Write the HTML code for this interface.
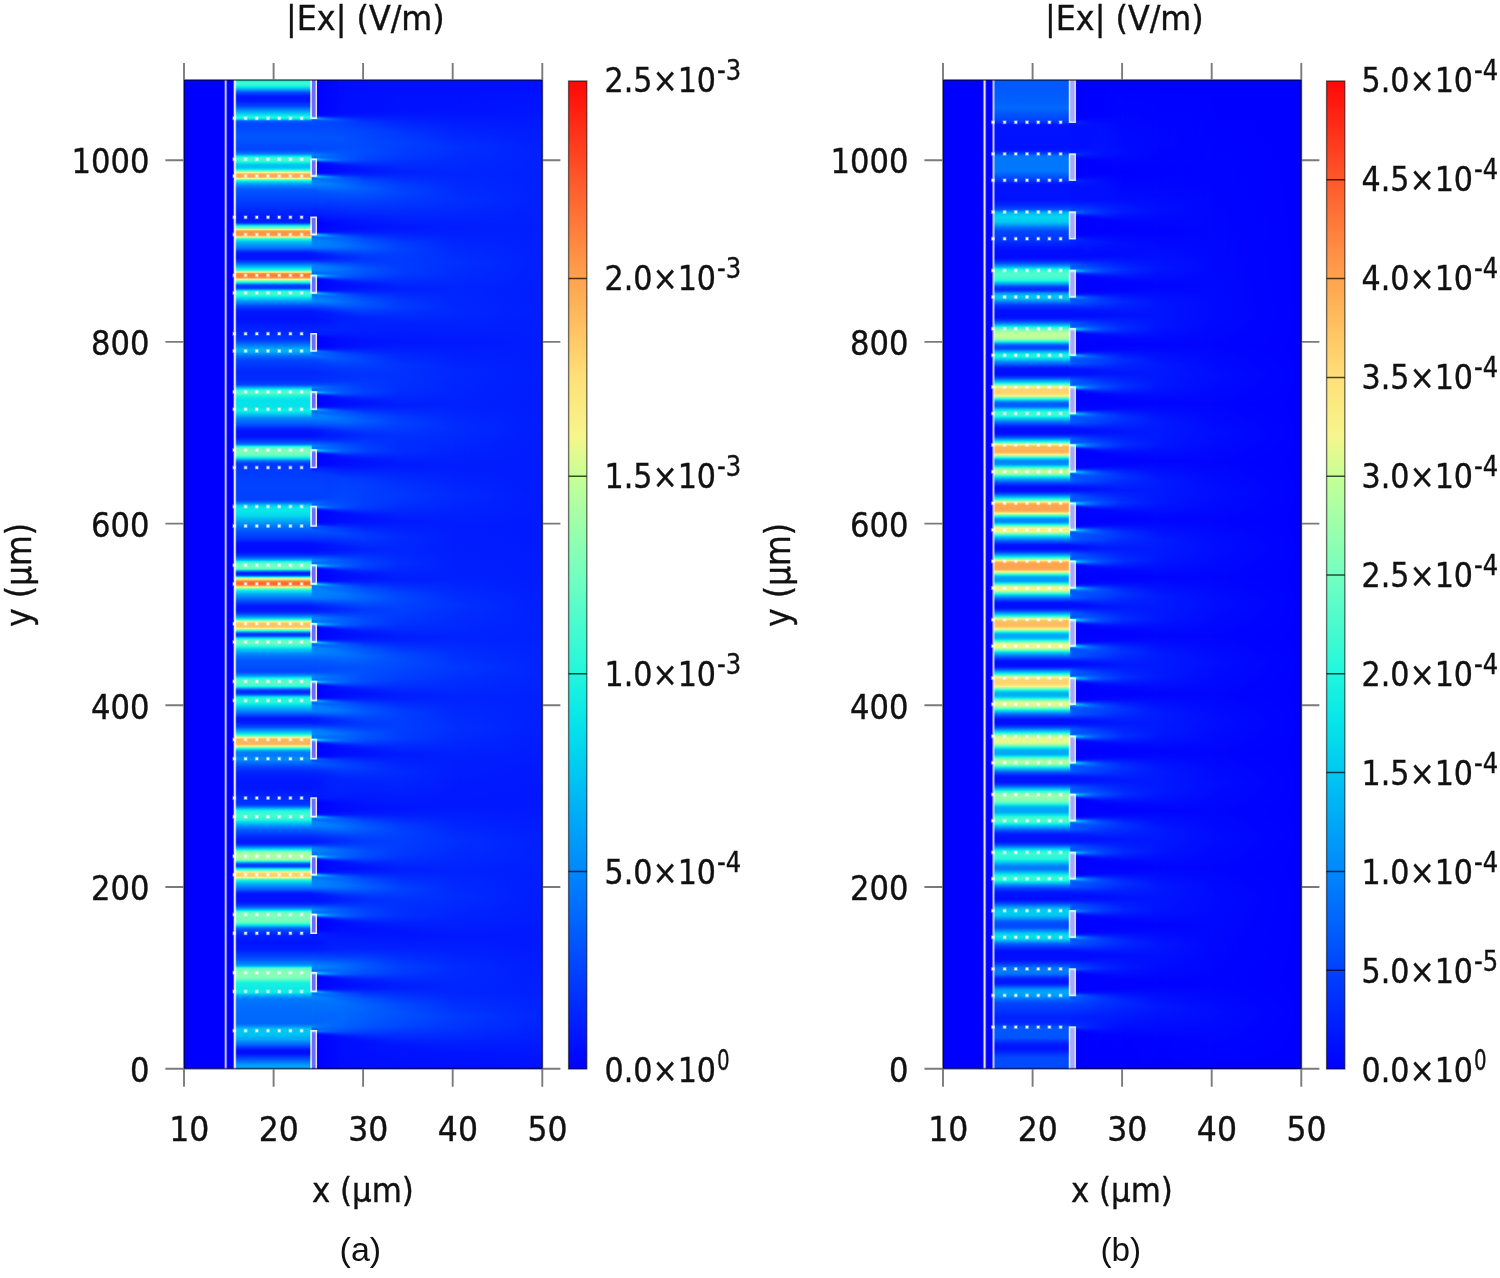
<!DOCTYPE html>
<html lang="en"><head><meta charset="utf-8"><title>|Ex| field maps</title>
<style>
html,body{margin:0;padding:0;background:#fff}
svg{display:block}
.t text{font-family:"DejaVu Sans Condensed","DejaVu Sans","Liberation Sans",sans-serif;font-size:34px;fill:#111;stroke:#111;stroke-width:.35px}
.t text.s{font-size:28px}
.cap{font-family:"Liberation Sans",sans-serif;font-size:34px;fill:#111}
</style></head><body>
<svg width="1500" height="1278" viewBox="0 0 1500 1278">
<defs>
<linearGradient id="aw" gradientUnits="userSpaceOnUse" x1="0" y1="80.5" x2="0" y2="1068.7"><stop offset="0" stop-color="#1cf4df"/><stop offset="0.003" stop-color="#40fad2"/><stop offset="0.004" stop-color="#38f9d5"/><stop offset="0.0061" stop-color="#14eee3"/><stop offset="0.0071" stop-color="#04ddec"/><stop offset="0.0081" stop-color="#00c3f3"/><stop offset="0.0111" stop-color="#0069fd"/><stop offset="0.0126" stop-color="#0047ff"/><stop offset="0.0152" stop-color="#0020ff"/><stop offset="0.0172" stop-color="#0016ff"/><stop offset="0.0207" stop-color="#0019ff"/><stop offset="0.0253" stop-color="#0040ff"/><stop offset="0.0268" stop-color="#0056fe"/><stop offset="0.0334" stop-color="#00c9f2"/><stop offset="0.0349" stop-color="#06e3ea"/><stop offset="0.0369" stop-color="#1ef6de"/><stop offset="0.0379" stop-color="#1ef6de"/><stop offset="0.039" stop-color="#06e2eb"/><stop offset="0.0395" stop-color="#00c6f2"/><stop offset="0.0405" stop-color="#0080fc"/><stop offset="0.041" stop-color="#0068fd"/><stop offset="0.0415" stop-color="#0059fe"/><stop offset="0.0425" stop-color="#004ffe"/><stop offset="0.045" stop-color="#0045ff"/><stop offset="0.0572" stop-color="#0056fe"/><stop offset="0.0688" stop-color="#0046ff"/><stop offset="0.0703" stop-color="#0048ff"/><stop offset="0.0724" stop-color="#005efe"/><stop offset="0.0739" stop-color="#0077fd"/><stop offset="0.0749" stop-color="#0097f9"/><stop offset="0.0764" stop-color="#03d8ed"/><stop offset="0.0769" stop-color="#0ce8e7"/><stop offset="0.0779" stop-color="#29f8da"/><stop offset="0.0789" stop-color="#41fad2"/><stop offset="0.0799" stop-color="#49fbcf"/><stop offset="0.0815" stop-color="#38f9d5"/><stop offset="0.0825" stop-color="#1ef6de"/><stop offset="0.0835" stop-color="#08e6e9"/><stop offset="0.0845" stop-color="#02d1ef"/><stop offset="0.086" stop-color="#00c2f3"/><stop offset="0.0875" stop-color="#00bff3"/><stop offset="0.0885" stop-color="#00c9f2"/><stop offset="0.0896" stop-color="#06e3ea"/><stop offset="0.0901" stop-color="#15efe2"/><stop offset="0.0906" stop-color="#2df8d9"/><stop offset="0.0916" stop-color="#74ffc0"/><stop offset="0.0921" stop-color="#9bffac"/><stop offset="0.0926" stop-color="#c4ff97"/><stop offset="0.0931" stop-color="#f7f38a"/><stop offset="0.0936" stop-color="#fee27a"/><stop offset="0.0946" stop-color="#ffb85d"/><stop offset="0.0956" stop-color="#ffa650"/><stop offset="0.0971" stop-color="#ffa952"/><stop offset="0.0977" stop-color="#ffb359"/><stop offset="0.0982" stop-color="#ffc666"/><stop offset="0.0987" stop-color="#fee27a"/><stop offset="0.0992" stop-color="#eef88e"/><stop offset="0.0997" stop-color="#abffa4"/><stop offset="0.1002" stop-color="#78ffbe"/><stop offset="0.1007" stop-color="#4cfbce"/><stop offset="0.1012" stop-color="#28f8da"/><stop offset="0.1022" stop-color="#06e3ea"/><stop offset="0.1032" stop-color="#00c8f2"/><stop offset="0.1047" stop-color="#009ff8"/><stop offset="0.1057" stop-color="#008dfb"/><stop offset="0.1088" stop-color="#0065fd"/><stop offset="0.1103" stop-color="#0058fe"/><stop offset="0.1371" stop-color="#001cff"/><stop offset="0.1422" stop-color="#001cff"/><stop offset="0.1432" stop-color="#0020ff"/><stop offset="0.1437" stop-color="#0028ff"/><stop offset="0.1442" stop-color="#0038ff"/><stop offset="0.1447" stop-color="#0052fe"/><stop offset="0.1462" stop-color="#00bdf4"/><stop offset="0.1467" stop-color="#04dbec"/><stop offset="0.1472" stop-color="#15efe3"/><stop offset="0.1477" stop-color="#2cf8d9"/><stop offset="0.1493" stop-color="#73ffc0"/><stop offset="0.1498" stop-color="#95ffaf"/><stop offset="0.1503" stop-color="#c0ff99"/><stop offset="0.1508" stop-color="#f8f187"/><stop offset="0.1518" stop-color="#ffba5e"/><stop offset="0.1523" stop-color="#ffa751"/><stop offset="0.1528" stop-color="#ff9b4a"/><stop offset="0.1538" stop-color="#ff9447"/><stop offset="0.1553" stop-color="#ff9447"/><stop offset="0.1563" stop-color="#ff9c4a"/><stop offset="0.1569" stop-color="#ffa851"/><stop offset="0.1574" stop-color="#ffbd60"/><stop offset="0.1579" stop-color="#ffdd76"/><stop offset="0.1584" stop-color="#f6f68c"/><stop offset="0.1589" stop-color="#aeffa2"/><stop offset="0.1594" stop-color="#7affbd"/><stop offset="0.1599" stop-color="#4efbcd"/><stop offset="0.1604" stop-color="#2cf8d9"/><stop offset="0.1609" stop-color="#18f1e1"/><stop offset="0.1619" stop-color="#05deec"/><stop offset="0.1639" stop-color="#00b6f5"/><stop offset="0.1695" stop-color="#0074fd"/><stop offset="0.173" stop-color="#002cff"/><stop offset="0.1741" stop-color="#001dff"/><stop offset="0.1751" stop-color="#0016ff"/><stop offset="0.1781" stop-color="#0013ff"/><stop offset="0.1801" stop-color="#0014ff"/><stop offset="0.1821" stop-color="#002aff"/><stop offset="0.1842" stop-color="#0050fe"/><stop offset="0.1892" stop-color="#00c9f2"/><stop offset="0.1902" stop-color="#06e3ea"/><stop offset="0.1913" stop-color="#1ff6dd"/><stop offset="0.1918" stop-color="#38f9d5"/><stop offset="0.1923" stop-color="#56fcca"/><stop offset="0.1928" stop-color="#7dffbb"/><stop offset="0.1933" stop-color="#adffa3"/><stop offset="0.1938" stop-color="#f3f78d"/><stop offset="0.1943" stop-color="#ffdb74"/><stop offset="0.1948" stop-color="#ffb55a"/><stop offset="0.1953" stop-color="#ff9949"/><stop offset="0.1958" stop-color="#ff8841"/><stop offset="0.1968" stop-color="#ff7e3c"/><stop offset="0.1988" stop-color="#ff8540"/><stop offset="0.1994" stop-color="#ff9346"/><stop offset="0.2004" stop-color="#ffc968"/><stop offset="0.2009" stop-color="#fce67e"/><stop offset="0.2014" stop-color="#e8f98f"/><stop offset="0.2019" stop-color="#b6ff9e"/><stop offset="0.2029" stop-color="#71ffc1"/><stop offset="0.2039" stop-color="#2bf8d9"/><stop offset="0.2044" stop-color="#0feae6"/><stop offset="0.2049" stop-color="#02d2ef"/><stop offset="0.2054" stop-color="#00b1f6"/><stop offset="0.2064" stop-color="#006efd"/><stop offset="0.2069" stop-color="#0054fe"/><stop offset="0.2074" stop-color="#0044ff"/><stop offset="0.2085" stop-color="#0038ff"/><stop offset="0.2095" stop-color="#003bff"/><stop offset="0.21" stop-color="#0042ff"/><stop offset="0.2105" stop-color="#0052fe"/><stop offset="0.211" stop-color="#006efd"/><stop offset="0.2125" stop-color="#04dbec"/><stop offset="0.213" stop-color="#13eee3"/><stop offset="0.2135" stop-color="#23f7dc"/><stop offset="0.2145" stop-color="#3cfad3"/><stop offset="0.2155" stop-color="#41fad1"/><stop offset="0.2166" stop-color="#39f9d4"/><stop offset="0.2181" stop-color="#20f7dd"/><stop offset="0.2196" stop-color="#07e4ea"/><stop offset="0.2206" stop-color="#02d0f0"/><stop offset="0.2231" stop-color="#009cf9"/><stop offset="0.2282" stop-color="#0046ff"/><stop offset="0.2317" stop-color="#0024ff"/><stop offset="0.2338" stop-color="#0017ff"/><stop offset="0.2424" stop-color="#0011ff"/><stop offset="0.2616" stop-color="#0035ff"/><stop offset="0.2636" stop-color="#0044ff"/><stop offset="0.2717" stop-color="#00abf6"/><stop offset="0.2732" stop-color="#00b3f5"/><stop offset="0.2747" stop-color="#00a9f7"/><stop offset="0.2793" stop-color="#0067fd"/><stop offset="0.2828" stop-color="#0046ff"/><stop offset="0.2935" stop-color="#002aff"/><stop offset="0.2965" stop-color="#0027ff"/><stop offset="0.3031" stop-color="#002dff"/><stop offset="0.3066" stop-color="#003dff"/><stop offset="0.3076" stop-color="#0046ff"/><stop offset="0.3091" stop-color="#006efd"/><stop offset="0.3117" stop-color="#03d4ef"/><stop offset="0.3122" stop-color="#0ae7e8"/><stop offset="0.3132" stop-color="#2ff8d8"/><stop offset="0.3142" stop-color="#4afbcf"/><stop offset="0.3157" stop-color="#56fcca"/><stop offset="0.3167" stop-color="#4efbcd"/><stop offset="0.3193" stop-color="#1cf4df"/><stop offset="0.3223" stop-color="#08e5e9"/><stop offset="0.3243" stop-color="#05e1eb"/><stop offset="0.3299" stop-color="#06e4ea"/><stop offset="0.3339" stop-color="#12ede4"/><stop offset="0.336" stop-color="#05e1eb"/><stop offset="0.342" stop-color="#0083fc"/><stop offset="0.3481" stop-color="#0053fe"/><stop offset="0.3522" stop-color="#0024ff"/><stop offset="0.3552" stop-color="#0012ff"/><stop offset="0.3592" stop-color="#0011ff"/><stop offset="0.3613" stop-color="#0017ff"/><stop offset="0.3633" stop-color="#0029ff"/><stop offset="0.3653" stop-color="#0040ff"/><stop offset="0.3673" stop-color="#0061fe"/><stop offset="0.3683" stop-color="#0080fc"/><stop offset="0.3689" stop-color="#009af9"/><stop offset="0.3699" stop-color="#05deec"/><stop offset="0.3704" stop-color="#1bf4df"/><stop offset="0.3709" stop-color="#39f9d4"/><stop offset="0.3714" stop-color="#4ffbcd"/><stop offset="0.3724" stop-color="#68fec4"/><stop offset="0.3739" stop-color="#7dffbb"/><stop offset="0.3749" stop-color="#80ffba"/><stop offset="0.3775" stop-color="#78ffbe"/><stop offset="0.379" stop-color="#68fec4"/><stop offset="0.38" stop-color="#4cfbce"/><stop offset="0.381" stop-color="#26f8db"/><stop offset="0.382" stop-color="#09e6e9"/><stop offset="0.3825" stop-color="#03d6ee"/><stop offset="0.385" stop-color="#0072fd"/><stop offset="0.3861" stop-color="#0053fe"/><stop offset="0.3876" stop-color="#003bff"/><stop offset="0.3891" stop-color="#0037ff"/><stop offset="0.4093" stop-color="#0043ff"/><stop offset="0.424" stop-color="#0040ff"/><stop offset="0.425" stop-color="#004aff"/><stop offset="0.4265" stop-color="#0065fd"/><stop offset="0.4275" stop-color="#007efc"/><stop offset="0.4296" stop-color="#00bef4"/><stop offset="0.4306" stop-color="#03d6ee"/><stop offset="0.4321" stop-color="#06e4ea"/><stop offset="0.4351" stop-color="#0be8e7"/><stop offset="0.4397" stop-color="#04ddec"/><stop offset="0.4513" stop-color="#0075fd"/><stop offset="0.4569" stop-color="#0051fe"/><stop offset="0.4645" stop-color="#002dff"/><stop offset="0.468" stop-color="#000fff"/><stop offset="0.4746" stop-color="#000bff"/><stop offset="0.4776" stop-color="#0012ff"/><stop offset="0.4812" stop-color="#003bff"/><stop offset="0.4842" stop-color="#0084fc"/><stop offset="0.4852" stop-color="#00a9f7"/><stop offset="0.4857" stop-color="#00c2f3"/><stop offset="0.4862" stop-color="#04dbed"/><stop offset="0.4867" stop-color="#14eee3"/><stop offset="0.4872" stop-color="#2af8da"/><stop offset="0.4883" stop-color="#50fccd"/><stop offset="0.4893" stop-color="#63fdc6"/><stop offset="0.4908" stop-color="#72ffc1"/><stop offset="0.4923" stop-color="#74ffc0"/><stop offset="0.4933" stop-color="#6dfec2"/><stop offset="0.4938" stop-color="#61fdc7"/><stop offset="0.4943" stop-color="#48fbcf"/><stop offset="0.4948" stop-color="#22f7dc"/><stop offset="0.4953" stop-color="#05e0eb"/><stop offset="0.4969" stop-color="#0063fe"/><stop offset="0.4974" stop-color="#0043ff"/><stop offset="0.4979" stop-color="#002fff"/><stop offset="0.4989" stop-color="#0021ff"/><stop offset="0.4999" stop-color="#0025ff"/><stop offset="0.5004" stop-color="#0032ff"/><stop offset="0.5009" stop-color="#004efe"/><stop offset="0.5014" stop-color="#007cfc"/><stop offset="0.5019" stop-color="#00b4f5"/><stop offset="0.5024" stop-color="#0eeae6"/><stop offset="0.5029" stop-color="#51fccc"/><stop offset="0.5034" stop-color="#95ffaf"/><stop offset="0.5039" stop-color="#d2fd93"/><stop offset="0.5045" stop-color="#faed84"/><stop offset="0.506" stop-color="#ffab54"/><stop offset="0.507" stop-color="#ff803d"/><stop offset="0.5075" stop-color="#ff7237"/><stop offset="0.5085" stop-color="#ff6832"/><stop offset="0.5095" stop-color="#ff6932"/><stop offset="0.5105" stop-color="#ff7b3b"/><stop offset="0.511" stop-color="#ff9346"/><stop offset="0.512" stop-color="#ffd570"/><stop offset="0.5125" stop-color="#f9ee85"/><stop offset="0.5131" stop-color="#cefe94"/><stop offset="0.5141" stop-color="#7effbb"/><stop offset="0.5151" stop-color="#3cfad3"/><stop offset="0.5156" stop-color="#21f7dd"/><stop offset="0.5166" stop-color="#07e5ea"/><stop offset="0.5196" stop-color="#00adf6"/><stop offset="0.5277" stop-color="#0043ff"/><stop offset="0.5308" stop-color="#0021ff"/><stop offset="0.5328" stop-color="#0017ff"/><stop offset="0.5363" stop-color="#0018ff"/><stop offset="0.5384" stop-color="#002dff"/><stop offset="0.5404" stop-color="#0055fe"/><stop offset="0.5429" stop-color="#009ef8"/><stop offset="0.5439" stop-color="#00c2f3"/><stop offset="0.5449" stop-color="#0eeae6"/><stop offset="0.5454" stop-color="#29f8da"/><stop offset="0.5464" stop-color="#83ffb9"/><stop offset="0.547" stop-color="#b3ffa0"/><stop offset="0.5475" stop-color="#ecf88e"/><stop offset="0.548" stop-color="#fce87f"/><stop offset="0.549" stop-color="#ffcb6a"/><stop offset="0.55" stop-color="#ffc264"/><stop offset="0.5525" stop-color="#ffc565"/><stop offset="0.5535" stop-color="#ffd671"/><stop offset="0.5545" stop-color="#f7f48a"/><stop offset="0.555" stop-color="#c4ff97"/><stop offset="0.5566" stop-color="#3dfad3"/><stop offset="0.5571" stop-color="#13ede4"/><stop offset="0.5576" stop-color="#02cff0"/><stop offset="0.5581" stop-color="#00a8f7"/><stop offset="0.5591" stop-color="#0060fe"/><stop offset="0.5596" stop-color="#0047ff"/><stop offset="0.5601" stop-color="#0038ff"/><stop offset="0.5611" stop-color="#0032ff"/><stop offset="0.5616" stop-color="#003aff"/><stop offset="0.5621" stop-color="#004cff"/><stop offset="0.5626" stop-color="#0069fd"/><stop offset="0.5642" stop-color="#02d1ef"/><stop offset="0.5647" stop-color="#0de9e6"/><stop offset="0.5652" stop-color="#24f7db"/><stop offset="0.5662" stop-color="#52fccc"/><stop offset="0.5667" stop-color="#5ffdc7"/><stop offset="0.5677" stop-color="#6bfec3"/><stop offset="0.5687" stop-color="#6cfec3"/><stop offset="0.5697" stop-color="#65fec5"/><stop offset="0.5707" stop-color="#58fcca"/><stop offset="0.5717" stop-color="#43fad1"/><stop offset="0.5728" stop-color="#25f8db"/><stop offset="0.5743" stop-color="#06e4ea"/><stop offset="0.5758" stop-color="#00c9f2"/><stop offset="0.5798" stop-color="#008efb"/><stop offset="0.5829" stop-color="#006efd"/><stop offset="0.5869" stop-color="#0057fe"/><stop offset="0.5976" stop-color="#0046ff"/><stop offset="0.5991" stop-color="#0052fe"/><stop offset="0.6011" stop-color="#007afd"/><stop offset="0.6026" stop-color="#00a2f8"/><stop offset="0.6036" stop-color="#00c9f2"/><stop offset="0.6041" stop-color="#04dbec"/><stop offset="0.6051" stop-color="#1ff6de"/><stop offset="0.6062" stop-color="#41fad2"/><stop offset="0.6072" stop-color="#51fccc"/><stop offset="0.6082" stop-color="#5afcc9"/><stop offset="0.6107" stop-color="#57fcca"/><stop offset="0.6122" stop-color="#45fbd0"/><stop offset="0.6132" stop-color="#1ef6de"/><stop offset="0.6137" stop-color="#0be8e7"/><stop offset="0.6142" stop-color="#02d2ef"/><stop offset="0.6163" stop-color="#005afe"/><stop offset="0.6168" stop-color="#0044ff"/><stop offset="0.6178" stop-color="#0030ff"/><stop offset="0.6188" stop-color="#002cff"/><stop offset="0.6198" stop-color="#0030ff"/><stop offset="0.6208" stop-color="#0044ff"/><stop offset="0.6213" stop-color="#005afe"/><stop offset="0.6234" stop-color="#02cff0"/><stop offset="0.6239" stop-color="#06e4ea"/><stop offset="0.6244" stop-color="#14eee3"/><stop offset="0.6259" stop-color="#26f8db"/><stop offset="0.6294" stop-color="#22f7dc"/><stop offset="0.632" stop-color="#05e0eb"/><stop offset="0.6335" stop-color="#00c8f2"/><stop offset="0.638" stop-color="#0087fc"/><stop offset="0.6446" stop-color="#0021ff"/><stop offset="0.6456" stop-color="#0018ff"/><stop offset="0.6476" stop-color="#0016ff"/><stop offset="0.6497" stop-color="#001cff"/><stop offset="0.6537" stop-color="#0041ff"/><stop offset="0.6552" stop-color="#005cfe"/><stop offset="0.6598" stop-color="#00c8f2"/><stop offset="0.6608" stop-color="#05e0eb"/><stop offset="0.6618" stop-color="#1df5de"/><stop offset="0.6623" stop-color="#36f9d5"/><stop offset="0.6633" stop-color="#7affbd"/><stop offset="0.6643" stop-color="#cbfe95"/><stop offset="0.6648" stop-color="#f8f188"/><stop offset="0.6654" stop-color="#ffe179"/><stop offset="0.6664" stop-color="#ffc062"/><stop offset="0.6674" stop-color="#ffb65b"/><stop offset="0.6709" stop-color="#ffb65b"/><stop offset="0.6719" stop-color="#ffc062"/><stop offset="0.6724" stop-color="#ffcd6b"/><stop offset="0.6734" stop-color="#f8f288"/><stop offset="0.674" stop-color="#c8ff96"/><stop offset="0.675" stop-color="#73ffc0"/><stop offset="0.676" stop-color="#24f7dc"/><stop offset="0.6765" stop-color="#0de9e7"/><stop offset="0.6775" stop-color="#00c1f3"/><stop offset="0.679" stop-color="#008efb"/><stop offset="0.68" stop-color="#007dfc"/><stop offset="0.6831" stop-color="#007afd"/><stop offset="0.6866" stop-color="#0090fb"/><stop offset="0.6937" stop-color="#004bff"/><stop offset="0.6998" stop-color="#0023ff"/><stop offset="0.7079" stop-color="#0016ff"/><stop offset="0.7175" stop-color="#0016ff"/><stop offset="0.7321" stop-color="#0036ff"/><stop offset="0.7332" stop-color="#0041ff"/><stop offset="0.7342" stop-color="#0059fe"/><stop offset="0.7357" stop-color="#008cfb"/><stop offset="0.7372" stop-color="#00c8f2"/><stop offset="0.7382" stop-color="#0ce9e7"/><stop offset="0.7387" stop-color="#19f2e1"/><stop offset="0.7402" stop-color="#30f9d7"/><stop offset="0.7438" stop-color="#47fbcf"/><stop offset="0.7453" stop-color="#43fad1"/><stop offset="0.7478" stop-color="#28f8da"/><stop offset="0.7498" stop-color="#07e4ea"/><stop offset="0.7509" stop-color="#02d0f0"/><stop offset="0.7534" stop-color="#009ff8"/><stop offset="0.7584" stop-color="#005afe"/><stop offset="0.7671" stop-color="#0020ff"/><stop offset="0.7696" stop-color="#0018ff"/><stop offset="0.7716" stop-color="#001cff"/><stop offset="0.7731" stop-color="#002fff"/><stop offset="0.7751" stop-color="#006bfd"/><stop offset="0.7772" stop-color="#00bcf4"/><stop offset="0.7782" stop-color="#07e5e9"/><stop offset="0.7787" stop-color="#1bf3e0"/><stop offset="0.7792" stop-color="#37f9d5"/><stop offset="0.7802" stop-color="#72ffc1"/><stop offset="0.7812" stop-color="#97ffae"/><stop offset="0.7822" stop-color="#a5ffa7"/><stop offset="0.7848" stop-color="#b1ffa1"/><stop offset="0.7873" stop-color="#a5ffa7"/><stop offset="0.7883" stop-color="#93ffb0"/><stop offset="0.7888" stop-color="#7fffba"/><stop offset="0.7893" stop-color="#61fdc7"/><stop offset="0.7898" stop-color="#39f9d4"/><stop offset="0.7903" stop-color="#13ede4"/><stop offset="0.7908" stop-color="#02d0f0"/><stop offset="0.7923" stop-color="#0066fd"/><stop offset="0.7929" stop-color="#004ffe"/><stop offset="0.7939" stop-color="#003bff"/><stop offset="0.7949" stop-color="#003eff"/><stop offset="0.7954" stop-color="#004aff"/><stop offset="0.7959" stop-color="#0061fe"/><stop offset="0.7969" stop-color="#00a7f7"/><stop offset="0.7974" stop-color="#01cbf1"/><stop offset="0.7979" stop-color="#09e6e9"/><stop offset="0.7984" stop-color="#23f7dc"/><stop offset="0.7994" stop-color="#73ffc0"/><stop offset="0.8004" stop-color="#c8ff96"/><stop offset="0.801" stop-color="#f7f389"/><stop offset="0.802" stop-color="#ffda74"/><stop offset="0.803" stop-color="#ffcf6c"/><stop offset="0.8045" stop-color="#ffcf6c"/><stop offset="0.8055" stop-color="#ffda74"/><stop offset="0.8065" stop-color="#f7f48a"/><stop offset="0.807" stop-color="#c2ff98"/><stop offset="0.808" stop-color="#69fec4"/><stop offset="0.8085" stop-color="#42fad1"/><stop offset="0.809" stop-color="#25f7db"/><stop offset="0.8101" stop-color="#0be7e8"/><stop offset="0.8121" stop-color="#00c2f3"/><stop offset="0.8136" stop-color="#00a6f7"/><stop offset="0.8192" stop-color="#0052fe"/><stop offset="0.8222" stop-color="#0019ff"/><stop offset="0.8242" stop-color="#0011ff"/><stop offset="0.8308" stop-color="#0012ff"/><stop offset="0.8338" stop-color="#0030ff"/><stop offset="0.8354" stop-color="#0049ff"/><stop offset="0.8369" stop-color="#0071fd"/><stop offset="0.8384" stop-color="#00a0f8"/><stop offset="0.8399" stop-color="#06e4ea"/><stop offset="0.8404" stop-color="#1ef6de"/><stop offset="0.8414" stop-color="#57fcca"/><stop offset="0.8424" stop-color="#71ffc1"/><stop offset="0.8435" stop-color="#7cffbc"/><stop offset="0.845" stop-color="#81ffb9"/><stop offset="0.8505" stop-color="#74ffc0"/><stop offset="0.8521" stop-color="#5bfdc9"/><stop offset="0.8536" stop-color="#26f8db"/><stop offset="0.8546" stop-color="#08e5e9"/><stop offset="0.8551" stop-color="#03d4ee"/><stop offset="0.8566" stop-color="#0095fa"/><stop offset="0.8576" stop-color="#0072fd"/><stop offset="0.8596" stop-color="#0048ff"/><stop offset="0.8647" stop-color="#0022ff"/><stop offset="0.8718" stop-color="#0012ff"/><stop offset="0.8799" stop-color="#001dff"/><stop offset="0.8895" stop-color="#0055fe"/><stop offset="0.8951" stop-color="#0092fa"/><stop offset="0.8961" stop-color="#00b1f5"/><stop offset="0.8966" stop-color="#01cbf1"/><stop offset="0.8971" stop-color="#07e5e9"/><stop offset="0.8976" stop-color="#1ff7dd"/><stop offset="0.8981" stop-color="#40fad2"/><stop offset="0.8986" stop-color="#58fcca"/><stop offset="0.8996" stop-color="#70ffc1"/><stop offset="0.9011" stop-color="#81ffb9"/><stop offset="0.9027" stop-color="#8affb5"/><stop offset="0.9072" stop-color="#84ffb8"/><stop offset="0.9087" stop-color="#74ffc0"/><stop offset="0.9123" stop-color="#23f7dc"/><stop offset="0.9133" stop-color="#17f1e1"/><stop offset="0.9183" stop-color="#0feae6"/><stop offset="0.9224" stop-color="#11ece5"/><stop offset="0.9234" stop-color="#06e3ea"/><stop offset="0.9244" stop-color="#01ccf1"/><stop offset="0.9264" stop-color="#00a1f8"/><stop offset="0.929" stop-color="#007dfc"/><stop offset="0.9305" stop-color="#0076fd"/><stop offset="0.9401" stop-color="#006bfd"/><stop offset="0.9543" stop-color="#0067fd"/><stop offset="0.9558" stop-color="#0077fd"/><stop offset="0.9593" stop-color="#00b8f4"/><stop offset="0.9603" stop-color="#00c4f3"/><stop offset="0.9649" stop-color="#00c5f2"/><stop offset="0.9705" stop-color="#00a5f7"/><stop offset="0.9755" stop-color="#0064fe"/><stop offset="0.9806" stop-color="#0019ff"/><stop offset="0.9826" stop-color="#000bff"/><stop offset="0.9841" stop-color="#000dff"/><stop offset="0.9856" stop-color="#0018ff"/><stop offset="0.9963" stop-color="#009af9"/><stop offset="0.9978" stop-color="#00a4f8"/><stop offset="0.9998" stop-color="#00a6f7"/></linearGradient>
<linearGradient id="ar0" gradientUnits="userSpaceOnUse" x1="0" y1="80.5" x2="0" y2="1068.7"><stop offset="0" stop-color="#0000ff"/><stop offset="0.0349" stop-color="#0002ff"/><stop offset="0.0354" stop-color="#0009ff"/><stop offset="0.0359" stop-color="#001bff"/><stop offset="0.0364" stop-color="#003fff"/><stop offset="0.0374" stop-color="#00b7f5"/><stop offset="0.0379" stop-color="#03d8ed"/><stop offset="0.0385" stop-color="#02cff0"/><stop offset="0.0395" stop-color="#006efd"/><stop offset="0.04" stop-color="#0052fe"/><stop offset="0.0415" stop-color="#0058fe"/><stop offset="0.0455" stop-color="#0046ff"/><stop offset="0.0572" stop-color="#0056fe"/><stop offset="0.0698" stop-color="#0048ff"/><stop offset="0.0718" stop-color="#0058fe"/><stop offset="0.0749" stop-color="#0083fc"/><stop offset="0.0759" stop-color="#0085fc"/><stop offset="0.0774" stop-color="#006afd"/><stop offset="0.0779" stop-color="#0074fd"/><stop offset="0.0784" stop-color="#009bf9"/><stop offset="0.0789" stop-color="#02d1ef"/><stop offset="0.0794" stop-color="#15efe3"/><stop offset="0.0799" stop-color="#10ebe5"/><stop offset="0.0804" stop-color="#00c1f3"/><stop offset="0.0815" stop-color="#003cff"/><stop offset="0.082" stop-color="#0018ff"/><stop offset="0.0825" stop-color="#0008ff"/><stop offset="0.084" stop-color="#0000ff"/><stop offset="0.0931" stop-color="#0001ff"/><stop offset="0.0941" stop-color="#000fff"/><stop offset="0.0946" stop-color="#0029ff"/><stop offset="0.0951" stop-color="#005efe"/><stop offset="0.0956" stop-color="#00aaf7"/><stop offset="0.0961" stop-color="#0feae6"/><stop offset="0.0966" stop-color="#37f9d5"/><stop offset="0.0971" stop-color="#22f7dc"/><stop offset="0.0977" stop-color="#02cff0"/><stop offset="0.0982" stop-color="#0091fa"/><stop offset="0.0987" stop-color="#006bfd"/><stop offset="0.0992" stop-color="#0067fd"/><stop offset="0.1007" stop-color="#0085fc"/><stop offset="0.1052" stop-color="#0086fc"/><stop offset="0.1108" stop-color="#0057fe"/><stop offset="0.1346" stop-color="#001eff"/><stop offset="0.1366" stop-color="#0011ff"/><stop offset="0.1386" stop-color="#0017ff"/><stop offset="0.1402" stop-color="#0006ff"/><stop offset="0.1417" stop-color="#0000ff"/><stop offset="0.1528" stop-color="#0004ff"/><stop offset="0.1533" stop-color="#000fff"/><stop offset="0.1538" stop-color="#0029ff"/><stop offset="0.1543" stop-color="#005efe"/><stop offset="0.1548" stop-color="#00aaf7"/><stop offset="0.1553" stop-color="#0feae6"/><stop offset="0.1558" stop-color="#37f9d5"/><stop offset="0.1563" stop-color="#22f7dc"/><stop offset="0.1569" stop-color="#02cff0"/><stop offset="0.1574" stop-color="#0091fa"/><stop offset="0.1579" stop-color="#006bfd"/><stop offset="0.1584" stop-color="#0067fd"/><stop offset="0.1594" stop-color="#0080fc"/><stop offset="0.1604" stop-color="#0087fc"/><stop offset="0.168" stop-color="#0084fc"/><stop offset="0.1695" stop-color="#0073fd"/><stop offset="0.1735" stop-color="#0026ff"/><stop offset="0.1751" stop-color="#0018ff"/><stop offset="0.1766" stop-color="#0014ff"/><stop offset="0.1796" stop-color="#0014ff"/><stop offset="0.1811" stop-color="#001eff"/><stop offset="0.1832" stop-color="#003dff"/><stop offset="0.1862" stop-color="#007bfd"/><stop offset="0.1872" stop-color="#0085fc"/><stop offset="0.1933" stop-color="#0085fc"/><stop offset="0.1948" stop-color="#0067fd"/><stop offset="0.1953" stop-color="#006bfd"/><stop offset="0.1958" stop-color="#0091fa"/><stop offset="0.1963" stop-color="#02cff0"/><stop offset="0.1968" stop-color="#22f7dc"/><stop offset="0.1973" stop-color="#37f9d5"/><stop offset="0.1978" stop-color="#0feae6"/><stop offset="0.1983" stop-color="#00aaf7"/><stop offset="0.1988" stop-color="#005efe"/><stop offset="0.1994" stop-color="#0029ff"/><stop offset="0.1999" stop-color="#000fff"/><stop offset="0.2004" stop-color="#0004ff"/><stop offset="0.2014" stop-color="#0000ff"/><stop offset="0.212" stop-color="#0005ff"/><stop offset="0.2125" stop-color="#0011ff"/><stop offset="0.213" stop-color="#002fff"/><stop offset="0.2135" stop-color="#0065fd"/><stop offset="0.214" stop-color="#00acf6"/><stop offset="0.2145" stop-color="#06e2eb"/><stop offset="0.215" stop-color="#13eee3"/><stop offset="0.2155" stop-color="#04daed"/><stop offset="0.2166" stop-color="#0080fc"/><stop offset="0.2171" stop-color="#006ffd"/><stop offset="0.2186" stop-color="#0085fc"/><stop offset="0.2236" stop-color="#0085fc"/><stop offset="0.2247" stop-color="#007efc"/><stop offset="0.2297" stop-color="#0036ff"/><stop offset="0.2327" stop-color="#001dff"/><stop offset="0.2348" stop-color="#0015ff"/><stop offset="0.2424" stop-color="#0012ff"/><stop offset="0.2525" stop-color="#0024ff"/><stop offset="0.2545" stop-color="#0018ff"/><stop offset="0.256" stop-color="#0024ff"/><stop offset="0.2565" stop-color="#0023ff"/><stop offset="0.258" stop-color="#0009ff"/><stop offset="0.2591" stop-color="#0001ff"/><stop offset="0.2702" stop-color="#0001ff"/><stop offset="0.2712" stop-color="#000aff"/><stop offset="0.2717" stop-color="#001aff"/><stop offset="0.2722" stop-color="#0038ff"/><stop offset="0.2732" stop-color="#008afc"/><stop offset="0.2737" stop-color="#009af9"/><stop offset="0.2742" stop-color="#008efb"/><stop offset="0.2752" stop-color="#0064fe"/><stop offset="0.2758" stop-color="#0066fd"/><stop offset="0.2768" stop-color="#007dfc"/><stop offset="0.2773" stop-color="#007ffc"/><stop offset="0.2813" stop-color="#0053fe"/><stop offset="0.2838" stop-color="#0042ff"/><stop offset="0.295" stop-color="#0028ff"/><stop offset="0.3031" stop-color="#002eff"/><stop offset="0.3071" stop-color="#0043ff"/><stop offset="0.3097" stop-color="#0078fd"/><stop offset="0.3107" stop-color="#0084fc"/><stop offset="0.3117" stop-color="#007ffc"/><stop offset="0.3127" stop-color="#0064fe"/><stop offset="0.3132" stop-color="#0064fe"/><stop offset="0.3137" stop-color="#0084fc"/><stop offset="0.3142" stop-color="#00bef4"/><stop offset="0.3147" stop-color="#10ebe5"/><stop offset="0.3152" stop-color="#1df5de"/><stop offset="0.3157" stop-color="#05deec"/><stop offset="0.3167" stop-color="#0056fe"/><stop offset="0.3172" stop-color="#0026ff"/><stop offset="0.3177" stop-color="#000dff"/><stop offset="0.3188" stop-color="#0001ff"/><stop offset="0.3284" stop-color="#0000ff"/><stop offset="0.3299" stop-color="#0007ff"/><stop offset="0.3304" stop-color="#0014ff"/><stop offset="0.3309" stop-color="#0031ff"/><stop offset="0.3319" stop-color="#009ef9"/><stop offset="0.3324" stop-color="#00c9f2"/><stop offset="0.3329" stop-color="#02cff0"/><stop offset="0.3334" stop-color="#00b3f5"/><stop offset="0.3339" stop-color="#0089fc"/><stop offset="0.3344" stop-color="#006cfd"/><stop offset="0.335" stop-color="#0068fd"/><stop offset="0.3365" stop-color="#0085fc"/><stop offset="0.3415" stop-color="#0085fc"/><stop offset="0.3476" stop-color="#0057fe"/><stop offset="0.3532" stop-color="#001cff"/><stop offset="0.3552" stop-color="#0012ff"/><stop offset="0.3587" stop-color="#0011ff"/><stop offset="0.3613" stop-color="#0018ff"/><stop offset="0.3638" stop-color="#002eff"/><stop offset="0.3658" stop-color="#0048ff"/><stop offset="0.3683" stop-color="#0079fd"/><stop offset="0.3694" stop-color="#0084fc"/><stop offset="0.3704" stop-color="#0085fc"/><stop offset="0.3719" stop-color="#0073fd"/><stop offset="0.3724" stop-color="#008afc"/><stop offset="0.3729" stop-color="#00bdf4"/><stop offset="0.3734" stop-color="#14eee3"/><stop offset="0.3739" stop-color="#39f9d4"/><stop offset="0.3744" stop-color="#20f7dd"/><stop offset="0.3749" stop-color="#00c9f2"/><stop offset="0.3754" stop-color="#007bfd"/><stop offset="0.3759" stop-color="#003bff"/><stop offset="0.3764" stop-color="#0017ff"/><stop offset="0.3769" stop-color="#0007ff"/><stop offset="0.378" stop-color="#0000ff"/><stop offset="0.3886" stop-color="#0001ff"/><stop offset="0.3896" stop-color="#0007ff"/><stop offset="0.3916" stop-color="#002fff"/><stop offset="0.3936" stop-color="#001eff"/><stop offset="0.3952" stop-color="#0035ff"/><stop offset="0.3962" stop-color="#0038ff"/><stop offset="0.4093" stop-color="#0043ff"/><stop offset="0.4235" stop-color="#0040ff"/><stop offset="0.425" stop-color="#004cff"/><stop offset="0.4275" stop-color="#0078fd"/><stop offset="0.4281" stop-color="#0079fd"/><stop offset="0.4291" stop-color="#0066fd"/><stop offset="0.4296" stop-color="#0068fd"/><stop offset="0.4311" stop-color="#00c1f3"/><stop offset="0.4316" stop-color="#00b7f5"/><stop offset="0.4331" stop-color="#0029ff"/><stop offset="0.4336" stop-color="#0010ff"/><stop offset="0.4346" stop-color="#0001ff"/><stop offset="0.4478" stop-color="#0002ff"/><stop offset="0.4488" stop-color="#0014ff"/><stop offset="0.4503" stop-color="#005ffe"/><stop offset="0.4508" stop-color="#0069fd"/><stop offset="0.4523" stop-color="#0048ff"/><stop offset="0.4544" stop-color="#005ffe"/><stop offset="0.464" stop-color="#002fff"/><stop offset="0.4685" stop-color="#000eff"/><stop offset="0.4761" stop-color="#000cff"/><stop offset="0.4781" stop-color="#0017ff"/><stop offset="0.4802" stop-color="#002eff"/><stop offset="0.4847" stop-color="#0082fc"/><stop offset="0.4867" stop-color="#0085fc"/><stop offset="0.4883" stop-color="#006dfd"/><stop offset="0.4888" stop-color="#007cfc"/><stop offset="0.4893" stop-color="#00aaf7"/><stop offset="0.4898" stop-color="#06e4ea"/><stop offset="0.4903" stop-color="#2ff8d8"/><stop offset="0.4908" stop-color="#28f8da"/><stop offset="0.4913" stop-color="#03d5ee"/><stop offset="0.4923" stop-color="#0045ff"/><stop offset="0.4928" stop-color="#001cff"/><stop offset="0.4933" stop-color="#0009ff"/><stop offset="0.4948" stop-color="#0000ff"/><stop offset="0.505" stop-color="#0000ff"/><stop offset="0.5065" stop-color="#0007ff"/><stop offset="0.507" stop-color="#0017ff"/><stop offset="0.5075" stop-color="#003bff"/><stop offset="0.508" stop-color="#007bfd"/><stop offset="0.5085" stop-color="#00c9f2"/><stop offset="0.509" stop-color="#21f7dd"/><stop offset="0.5095" stop-color="#39f9d4"/><stop offset="0.51" stop-color="#14efe3"/><stop offset="0.5105" stop-color="#00bef4"/><stop offset="0.511" stop-color="#008bfb"/><stop offset="0.5115" stop-color="#0074fd"/><stop offset="0.5136" stop-color="#0087fc"/><stop offset="0.5222" stop-color="#0085fc"/><stop offset="0.5308" stop-color="#0022ff"/><stop offset="0.5343" stop-color="#0016ff"/><stop offset="0.5363" stop-color="#001aff"/><stop offset="0.5378" stop-color="#0027ff"/><stop offset="0.5394" stop-color="#0040ff"/><stop offset="0.5419" stop-color="#007afd"/><stop offset="0.5429" stop-color="#0085fc"/><stop offset="0.5459" stop-color="#0085fc"/><stop offset="0.5475" stop-color="#006ffd"/><stop offset="0.548" stop-color="#0080fc"/><stop offset="0.549" stop-color="#0ae7e8"/><stop offset="0.5495" stop-color="#34f9d6"/><stop offset="0.55" stop-color="#2bf8d9"/><stop offset="0.5505" stop-color="#03d6ee"/><stop offset="0.5515" stop-color="#0045ff"/><stop offset="0.552" stop-color="#001cff"/><stop offset="0.5525" stop-color="#0009ff"/><stop offset="0.554" stop-color="#0000ff"/><stop offset="0.5652" stop-color="#0004ff"/><stop offset="0.5657" stop-color="#000eff"/><stop offset="0.5662" stop-color="#0027ff"/><stop offset="0.5667" stop-color="#005afe"/><stop offset="0.5672" stop-color="#00a5f7"/><stop offset="0.5677" stop-color="#0ae7e8"/><stop offset="0.5682" stop-color="#30f9d8"/><stop offset="0.5687" stop-color="#1df5de"/><stop offset="0.5692" stop-color="#01cbf1"/><stop offset="0.5697" stop-color="#008efb"/><stop offset="0.5702" stop-color="#0069fd"/><stop offset="0.5707" stop-color="#0066fd"/><stop offset="0.5723" stop-color="#0085fc"/><stop offset="0.5793" stop-color="#0087fc"/><stop offset="0.5864" stop-color="#0059fe"/><stop offset="0.5965" stop-color="#0047ff"/><stop offset="0.5986" stop-color="#004efe"/><stop offset="0.6021" stop-color="#0084fc"/><stop offset="0.6046" stop-color="#0085fc"/><stop offset="0.6062" stop-color="#0076fd"/><stop offset="0.6067" stop-color="#008efb"/><stop offset="0.6072" stop-color="#00c0f3"/><stop offset="0.6077" stop-color="#10ebe5"/><stop offset="0.6082" stop-color="#23f7dc"/><stop offset="0.6087" stop-color="#0ce9e7"/><stop offset="0.6092" stop-color="#00aff6"/><stop offset="0.6097" stop-color="#0066fd"/><stop offset="0.6102" stop-color="#002fff"/><stop offset="0.6107" stop-color="#0011ff"/><stop offset="0.6112" stop-color="#0005ff"/><stop offset="0.6122" stop-color="#0000ff"/><stop offset="0.6244" stop-color="#0003ff"/><stop offset="0.6249" stop-color="#000cff"/><stop offset="0.6254" stop-color="#0022ff"/><stop offset="0.6259" stop-color="#004cff"/><stop offset="0.6269" stop-color="#00c8f2"/><stop offset="0.6274" stop-color="#06e3ea"/><stop offset="0.6279" stop-color="#03d8ed"/><stop offset="0.6289" stop-color="#007afd"/><stop offset="0.6294" stop-color="#0060fe"/><stop offset="0.6299" stop-color="#0063fe"/><stop offset="0.6309" stop-color="#0080fc"/><stop offset="0.6315" stop-color="#0085fc"/><stop offset="0.6375" stop-color="#0085fc"/><stop offset="0.639" stop-color="#0077fd"/><stop offset="0.6446" stop-color="#0022ff"/><stop offset="0.6476" stop-color="#0017ff"/><stop offset="0.6497" stop-color="#001dff"/><stop offset="0.6527" stop-color="#0037ff"/><stop offset="0.6542" stop-color="#004aff"/><stop offset="0.6567" stop-color="#007bfd"/><stop offset="0.6578" stop-color="#0085fc"/><stop offset="0.6628" stop-color="#0087fc"/><stop offset="0.6648" stop-color="#0074fd"/><stop offset="0.6654" stop-color="#008bfb"/><stop offset="0.6659" stop-color="#00bef4"/><stop offset="0.6664" stop-color="#14efe3"/><stop offset="0.6669" stop-color="#39f9d4"/><stop offset="0.6674" stop-color="#21f7dd"/><stop offset="0.6679" stop-color="#00c9f2"/><stop offset="0.6684" stop-color="#007bfd"/><stop offset="0.6689" stop-color="#003bff"/><stop offset="0.6694" stop-color="#0017ff"/><stop offset="0.6699" stop-color="#0007ff"/><stop offset="0.6704" stop-color="#0002ff"/><stop offset="0.6836" stop-color="#0005ff"/><stop offset="0.6846" stop-color="#0020ff"/><stop offset="0.6856" stop-color="#0061fe"/><stop offset="0.6861" stop-color="#0078fd"/><stop offset="0.6866" stop-color="#0077fd"/><stop offset="0.6876" stop-color="#004cff"/><stop offset="0.6881" stop-color="#0046ff"/><stop offset="0.6891" stop-color="#0060fe"/><stop offset="0.6901" stop-color="#0069fd"/><stop offset="0.6957" stop-color="#003cff"/><stop offset="0.7008" stop-color="#0020ff"/><stop offset="0.7154" stop-color="#0016ff"/><stop offset="0.7225" stop-color="#001fff"/><stop offset="0.7245" stop-color="#0017ff"/><stop offset="0.7261" stop-color="#0021ff"/><stop offset="0.7281" stop-color="#0006ff"/><stop offset="0.7291" stop-color="#0001ff"/><stop offset="0.7392" stop-color="#0000ff"/><stop offset="0.7418" stop-color="#0003ff"/><stop offset="0.7423" stop-color="#000aff"/><stop offset="0.7428" stop-color="#001fff"/><stop offset="0.7433" stop-color="#0048ff"/><stop offset="0.7443" stop-color="#01cdf1"/><stop offset="0.7448" stop-color="#13ede4"/><stop offset="0.7453" stop-color="#0feae6"/><stop offset="0.7458" stop-color="#00c5f2"/><stop offset="0.7463" stop-color="#008efb"/><stop offset="0.7468" stop-color="#006cfd"/><stop offset="0.7473" stop-color="#0067fd"/><stop offset="0.7488" stop-color="#0085fc"/><stop offset="0.7544" stop-color="#0086fc"/><stop offset="0.76" stop-color="#004efe"/><stop offset="0.7671" stop-color="#0020ff"/><stop offset="0.7696" stop-color="#0018ff"/><stop offset="0.7716" stop-color="#001eff"/><stop offset="0.7726" stop-color="#0029ff"/><stop offset="0.7736" stop-color="#003eff"/><stop offset="0.7757" stop-color="#0076fd"/><stop offset="0.7767" stop-color="#0084fc"/><stop offset="0.7812" stop-color="#0085fc"/><stop offset="0.7827" stop-color="#006ffd"/><stop offset="0.7832" stop-color="#0080fc"/><stop offset="0.7843" stop-color="#0ae7e8"/><stop offset="0.7848" stop-color="#34f9d6"/><stop offset="0.7853" stop-color="#2bf8d9"/><stop offset="0.7858" stop-color="#03d6ee"/><stop offset="0.7868" stop-color="#0045ff"/><stop offset="0.7873" stop-color="#001cff"/><stop offset="0.7878" stop-color="#0009ff"/><stop offset="0.7888" stop-color="#0001ff"/><stop offset="0.7984" stop-color="#0000ff"/><stop offset="0.8004" stop-color="#0002ff"/><stop offset="0.801" stop-color="#0009ff"/><stop offset="0.8015" stop-color="#001cff"/><stop offset="0.802" stop-color="#0045ff"/><stop offset="0.803" stop-color="#03d6ee"/><stop offset="0.8035" stop-color="#2bf8d9"/><stop offset="0.804" stop-color="#34f9d6"/><stop offset="0.8045" stop-color="#0ae7e8"/><stop offset="0.8055" stop-color="#0080fc"/><stop offset="0.806" stop-color="#006ffd"/><stop offset="0.807" stop-color="#0080fc"/><stop offset="0.808" stop-color="#0087fc"/><stop offset="0.8151" stop-color="#0085fc"/><stop offset="0.8171" stop-color="#0071fd"/><stop offset="0.8227" stop-color="#0017ff"/><stop offset="0.8278" stop-color="#0010ff"/><stop offset="0.8308" stop-color="#0014ff"/><stop offset="0.8328" stop-color="#0024ff"/><stop offset="0.8349" stop-color="#0041ff"/><stop offset="0.8374" stop-color="#007afd"/><stop offset="0.8384" stop-color="#0085fc"/><stop offset="0.8404" stop-color="#0085fc"/><stop offset="0.8419" stop-color="#0074fd"/><stop offset="0.8424" stop-color="#008bfb"/><stop offset="0.8429" stop-color="#00bef4"/><stop offset="0.8435" stop-color="#14eee3"/><stop offset="0.844" stop-color="#39f9d4"/><stop offset="0.8445" stop-color="#21f7dd"/><stop offset="0.845" stop-color="#00c9f2"/><stop offset="0.8455" stop-color="#007bfd"/><stop offset="0.846" stop-color="#003bff"/><stop offset="0.8465" stop-color="#0017ff"/><stop offset="0.847" stop-color="#0007ff"/><stop offset="0.848" stop-color="#0000ff"/><stop offset="0.8596" stop-color="#0001ff"/><stop offset="0.8607" stop-color="#0006ff"/><stop offset="0.8627" stop-color="#0027ff"/><stop offset="0.8647" stop-color="#0013ff"/><stop offset="0.8662" stop-color="#001cff"/><stop offset="0.8723" stop-color="#0012ff"/><stop offset="0.8794" stop-color="#001cff"/><stop offset="0.8885" stop-color="#004efe"/><stop offset="0.8951" stop-color="#0086fc"/><stop offset="0.8991" stop-color="#0085fc"/><stop offset="0.9006" stop-color="#006afd"/><stop offset="0.9011" stop-color="#0075fd"/><stop offset="0.9016" stop-color="#00a0f8"/><stop offset="0.9021" stop-color="#04dcec"/><stop offset="0.9027" stop-color="#2df8d9"/><stop offset="0.9032" stop-color="#33f9d7"/><stop offset="0.9037" stop-color="#06e2eb"/><stop offset="0.9047" stop-color="#0051fe"/><stop offset="0.9052" stop-color="#0022ff"/><stop offset="0.9057" stop-color="#000cff"/><stop offset="0.9067" stop-color="#0001ff"/><stop offset="0.9188" stop-color="#0004ff"/><stop offset="0.9193" stop-color="#000eff"/><stop offset="0.9199" stop-color="#0024ff"/><stop offset="0.9204" stop-color="#004ffe"/><stop offset="0.9214" stop-color="#00bff3"/><stop offset="0.9219" stop-color="#03d4ef"/><stop offset="0.9224" stop-color="#00c5f2"/><stop offset="0.9234" stop-color="#007bfd"/><stop offset="0.9239" stop-color="#006efd"/><stop offset="0.9254" stop-color="#0085fc"/><stop offset="0.9264" stop-color="#0087fc"/><stop offset="0.932" stop-color="#0074fd"/><stop offset="0.9527" stop-color="#0066fd"/><stop offset="0.9543" stop-color="#0069fd"/><stop offset="0.9568" stop-color="#0082fc"/><stop offset="0.9578" stop-color="#0085fc"/><stop offset="0.9583" stop-color="#007ffc"/><stop offset="0.9598" stop-color="#0059fe"/><stop offset="0.9603" stop-color="#0067fd"/><stop offset="0.9613" stop-color="#00a6f7"/><stop offset="0.9618" stop-color="#00a9f7"/><stop offset="0.9624" stop-color="#008cfb"/><stop offset="0.9634" stop-color="#0030ff"/><stop offset="0.9639" stop-color="#0015ff"/><stop offset="0.9649" stop-color="#0002ff"/><stop offset="0.9998" stop-color="#0000ff"/></linearGradient>
<linearGradient id="ar1" gradientUnits="userSpaceOnUse" x1="0" y1="80.5" x2="0" y2="1068.7"><stop offset="0" stop-color="#0001ff"/><stop offset="0.0349" stop-color="#0003ff"/><stop offset="0.0359" stop-color="#001aff"/><stop offset="0.0364" stop-color="#0039ff"/><stop offset="0.0374" stop-color="#009df9"/><stop offset="0.0379" stop-color="#00bff3"/><stop offset="0.0385" stop-color="#00bff3"/><stop offset="0.04" stop-color="#005bfe"/><stop offset="0.0405" stop-color="#004ffe"/><stop offset="0.042" stop-color="#0054fe"/><stop offset="0.046" stop-color="#0046ff"/><stop offset="0.0577" stop-color="#0055fe"/><stop offset="0.0698" stop-color="#0048ff"/><stop offset="0.0713" stop-color="#0052fe"/><stop offset="0.0754" stop-color="#0083fc"/><stop offset="0.0774" stop-color="#006cfd"/><stop offset="0.0779" stop-color="#0075fd"/><stop offset="0.0794" stop-color="#04dbed"/><stop offset="0.0799" stop-color="#04dcec"/><stop offset="0.0804" stop-color="#00bbf4"/><stop offset="0.0815" stop-color="#0049ff"/><stop offset="0.082" stop-color="#0023ff"/><stop offset="0.0825" stop-color="#000eff"/><stop offset="0.083" stop-color="#0005ff"/><stop offset="0.0931" stop-color="#0002ff"/><stop offset="0.0941" stop-color="#0010ff"/><stop offset="0.0946" stop-color="#0027ff"/><stop offset="0.0951" stop-color="#0053fe"/><stop offset="0.0961" stop-color="#02d0f0"/><stop offset="0.0966" stop-color="#12ede4"/><stop offset="0.0971" stop-color="#11ece5"/><stop offset="0.0977" stop-color="#01cff0"/><stop offset="0.0982" stop-color="#009ef9"/><stop offset="0.0987" stop-color="#0078fd"/><stop offset="0.0992" stop-color="#0069fd"/><stop offset="0.1012" stop-color="#0084fc"/><stop offset="0.1052" stop-color="#0085fc"/><stop offset="0.1113" stop-color="#0056fe"/><stop offset="0.1224" stop-color="#003fff"/><stop offset="0.1346" stop-color="#001fff"/><stop offset="0.1366" stop-color="#0013ff"/><stop offset="0.1386" stop-color="#0015ff"/><stop offset="0.1417" stop-color="#0001ff"/><stop offset="0.1528" stop-color="#0005ff"/><stop offset="0.1533" stop-color="#0010ff"/><stop offset="0.1538" stop-color="#0027ff"/><stop offset="0.1543" stop-color="#0053fe"/><stop offset="0.1553" stop-color="#02d0f0"/><stop offset="0.1558" stop-color="#12ede4"/><stop offset="0.1563" stop-color="#11ece5"/><stop offset="0.1569" stop-color="#01cff0"/><stop offset="0.1574" stop-color="#009ef9"/><stop offset="0.1579" stop-color="#0078fd"/><stop offset="0.1584" stop-color="#0069fd"/><stop offset="0.1599" stop-color="#0080fc"/><stop offset="0.1609" stop-color="#0086fc"/><stop offset="0.168" stop-color="#0082fc"/><stop offset="0.1695" stop-color="#0073fd"/><stop offset="0.1741" stop-color="#0022ff"/><stop offset="0.1771" stop-color="#0014ff"/><stop offset="0.1796" stop-color="#0015ff"/><stop offset="0.1811" stop-color="#001eff"/><stop offset="0.1832" stop-color="#003bff"/><stop offset="0.1862" stop-color="#0077fd"/><stop offset="0.1872" stop-color="#0082fc"/><stop offset="0.1928" stop-color="#0085fc"/><stop offset="0.1948" stop-color="#0069fd"/><stop offset="0.1953" stop-color="#006efd"/><stop offset="0.1958" stop-color="#008cfb"/><stop offset="0.1968" stop-color="#07e5e9"/><stop offset="0.1973" stop-color="#16f0e2"/><stop offset="0.1978" stop-color="#05e0eb"/><stop offset="0.1994" stop-color="#0036ff"/><stop offset="0.1999" stop-color="#0017ff"/><stop offset="0.2004" stop-color="#0009ff"/><stop offset="0.2014" stop-color="#0001ff"/><stop offset="0.212" stop-color="#0006ff"/><stop offset="0.2125" stop-color="#0012ff"/><stop offset="0.213" stop-color="#002bff"/><stop offset="0.2135" stop-color="#0058fe"/><stop offset="0.2145" stop-color="#00c7f2"/><stop offset="0.215" stop-color="#04dbec"/><stop offset="0.2155" stop-color="#02d1ef"/><stop offset="0.2166" stop-color="#008afc"/><stop offset="0.2171" stop-color="#0074fd"/><stop offset="0.2176" stop-color="#0071fd"/><stop offset="0.2196" stop-color="#0086fc"/><stop offset="0.2241" stop-color="#0082fc"/><stop offset="0.2297" stop-color="#0038ff"/><stop offset="0.2327" stop-color="#001eff"/><stop offset="0.2353" stop-color="#0016ff"/><stop offset="0.2424" stop-color="#0012ff"/><stop offset="0.2525" stop-color="#0024ff"/><stop offset="0.2545" stop-color="#001aff"/><stop offset="0.2565" stop-color="#0021ff"/><stop offset="0.2586" stop-color="#0006ff"/><stop offset="0.2596" stop-color="#0001ff"/><stop offset="0.2702" stop-color="#0002ff"/><stop offset="0.2712" stop-color="#000aff"/><stop offset="0.2717" stop-color="#0018ff"/><stop offset="0.2722" stop-color="#0032ff"/><stop offset="0.2732" stop-color="#0077fd"/><stop offset="0.2737" stop-color="#008afc"/><stop offset="0.2742" stop-color="#0088fc"/><stop offset="0.2752" stop-color="#0069fd"/><stop offset="0.2758" stop-color="#0065fd"/><stop offset="0.2773" stop-color="#0079fd"/><stop offset="0.2778" stop-color="#0079fd"/><stop offset="0.2818" stop-color="#004ffe"/><stop offset="0.2844" stop-color="#0041ff"/><stop offset="0.295" stop-color="#0028ff"/><stop offset="0.3031" stop-color="#002eff"/><stop offset="0.3071" stop-color="#0043ff"/><stop offset="0.3107" stop-color="#0080fc"/><stop offset="0.3117" stop-color="#007bfd"/><stop offset="0.3127" stop-color="#0066fd"/><stop offset="0.3132" stop-color="#0068fd"/><stop offset="0.3137" stop-color="#0081fc"/><stop offset="0.3147" stop-color="#03d5ee"/><stop offset="0.3152" stop-color="#06e4ea"/><stop offset="0.3157" stop-color="#02d2ef"/><stop offset="0.3172" stop-color="#0032ff"/><stop offset="0.3177" stop-color="#0015ff"/><stop offset="0.3188" stop-color="#0003ff"/><stop offset="0.3284" stop-color="#0001ff"/><stop offset="0.3299" stop-color="#0008ff"/><stop offset="0.3304" stop-color="#0014ff"/><stop offset="0.3309" stop-color="#002dff"/><stop offset="0.3324" stop-color="#00aff6"/><stop offset="0.3329" stop-color="#00bcf4"/><stop offset="0.3334" stop-color="#00aef6"/><stop offset="0.3344" stop-color="#0074fd"/><stop offset="0.335" stop-color="#0069fd"/><stop offset="0.337" stop-color="#0084fc"/><stop offset="0.3415" stop-color="#0084fc"/><stop offset="0.3476" stop-color="#0058fe"/><stop offset="0.3537" stop-color="#001aff"/><stop offset="0.3587" stop-color="#0011ff"/><stop offset="0.3613" stop-color="#0018ff"/><stop offset="0.3638" stop-color="#002dff"/><stop offset="0.3658" stop-color="#0047ff"/><stop offset="0.3694" stop-color="#0081fc"/><stop offset="0.3704" stop-color="#0082fc"/><stop offset="0.3719" stop-color="#0074fd"/><stop offset="0.3724" stop-color="#0088fc"/><stop offset="0.3734" stop-color="#04dcec"/><stop offset="0.3739" stop-color="#16f0e2"/><stop offset="0.3744" stop-color="#0febe5"/><stop offset="0.3749" stop-color="#00c5f2"/><stop offset="0.3759" stop-color="#0049ff"/><stop offset="0.3764" stop-color="#0021ff"/><stop offset="0.3769" stop-color="#000dff"/><stop offset="0.378" stop-color="#0002ff"/><stop offset="0.3886" stop-color="#0002ff"/><stop offset="0.3896" stop-color="#0007ff"/><stop offset="0.3916" stop-color="#002aff"/><stop offset="0.3936" stop-color="#0020ff"/><stop offset="0.3952" stop-color="#0032ff"/><stop offset="0.3967" stop-color="#0039ff"/><stop offset="0.4093" stop-color="#0043ff"/><stop offset="0.4235" stop-color="#0040ff"/><stop offset="0.425" stop-color="#004cff"/><stop offset="0.4275" stop-color="#0072fd"/><stop offset="0.4291" stop-color="#0066fd"/><stop offset="0.4296" stop-color="#006afd"/><stop offset="0.4311" stop-color="#00adf6"/><stop offset="0.4316" stop-color="#00a8f7"/><stop offset="0.4321" stop-color="#008afc"/><stop offset="0.4331" stop-color="#0033ff"/><stop offset="0.4336" stop-color="#0018ff"/><stop offset="0.4341" stop-color="#0009ff"/><stop offset="0.4351" stop-color="#0001ff"/><stop offset="0.4478" stop-color="#0003ff"/><stop offset="0.4488" stop-color="#0013ff"/><stop offset="0.4503" stop-color="#0052fe"/><stop offset="0.4508" stop-color="#005efe"/><stop offset="0.4528" stop-color="#004bff"/><stop offset="0.4544" stop-color="#005cfe"/><stop offset="0.4554" stop-color="#005bfe"/><stop offset="0.464" stop-color="#0030ff"/><stop offset="0.469" stop-color="#000eff"/><stop offset="0.4761" stop-color="#000dff"/><stop offset="0.4781" stop-color="#0018ff"/><stop offset="0.4802" stop-color="#002dff"/><stop offset="0.4847" stop-color="#007ffc"/><stop offset="0.4862" stop-color="#0085fc"/><stop offset="0.4883" stop-color="#006ffd"/><stop offset="0.4888" stop-color="#007cfc"/><stop offset="0.4893" stop-color="#00a0f8"/><stop offset="0.4898" stop-color="#01cff0"/><stop offset="0.4903" stop-color="#10ebe5"/><stop offset="0.4908" stop-color="#11ece5"/><stop offset="0.4913" stop-color="#01cef0"/><stop offset="0.4923" stop-color="#0053fe"/><stop offset="0.4928" stop-color="#0027ff"/><stop offset="0.4933" stop-color="#0010ff"/><stop offset="0.4938" stop-color="#0006ff"/><stop offset="0.505" stop-color="#0001ff"/><stop offset="0.5065" stop-color="#0008ff"/><stop offset="0.507" stop-color="#0017ff"/><stop offset="0.5075" stop-color="#0036ff"/><stop offset="0.509" stop-color="#05e1eb"/><stop offset="0.5095" stop-color="#17f1e1"/><stop offset="0.51" stop-color="#0be7e8"/><stop offset="0.5105" stop-color="#00c3f3"/><stop offset="0.511" stop-color="#0096fa"/><stop offset="0.5115" stop-color="#007afd"/><stop offset="0.512" stop-color="#0073fd"/><stop offset="0.5141" stop-color="#0086fc"/><stop offset="0.5222" stop-color="#0084fc"/><stop offset="0.5237" stop-color="#0078fd"/><stop offset="0.5308" stop-color="#0024ff"/><stop offset="0.5343" stop-color="#0017ff"/><stop offset="0.5363" stop-color="#001bff"/><stop offset="0.5378" stop-color="#0027ff"/><stop offset="0.5394" stop-color="#003eff"/><stop offset="0.5419" stop-color="#0075fd"/><stop offset="0.5429" stop-color="#0082fc"/><stop offset="0.5454" stop-color="#0085fc"/><stop offset="0.5475" stop-color="#0070fd"/><stop offset="0.548" stop-color="#007ffc"/><stop offset="0.549" stop-color="#02d3ef"/><stop offset="0.5495" stop-color="#13ede4"/><stop offset="0.55" stop-color="#13ede4"/><stop offset="0.5505" stop-color="#02d0f0"/><stop offset="0.5515" stop-color="#0053fe"/><stop offset="0.552" stop-color="#0028ff"/><stop offset="0.5525" stop-color="#0010ff"/><stop offset="0.553" stop-color="#0006ff"/><stop offset="0.554" stop-color="#0001ff"/><stop offset="0.5652" stop-color="#0005ff"/><stop offset="0.5657" stop-color="#000fff"/><stop offset="0.5662" stop-color="#0025ff"/><stop offset="0.5667" stop-color="#0050fe"/><stop offset="0.5677" stop-color="#01cbf1"/><stop offset="0.5682" stop-color="#0eeae6"/><stop offset="0.5687" stop-color="#0de9e7"/><stop offset="0.5692" stop-color="#01cbf1"/><stop offset="0.5697" stop-color="#009af9"/><stop offset="0.5702" stop-color="#0075fd"/><stop offset="0.5707" stop-color="#0068fd"/><stop offset="0.5728" stop-color="#0084fc"/><stop offset="0.5793" stop-color="#0086fc"/><stop offset="0.5869" stop-color="#0058fe"/><stop offset="0.5965" stop-color="#0048ff"/><stop offset="0.5986" stop-color="#004ffe"/><stop offset="0.6016" stop-color="#007cfc"/><stop offset="0.6026" stop-color="#0084fc"/><stop offset="0.6041" stop-color="#0085fc"/><stop offset="0.6062" stop-color="#0076fd"/><stop offset="0.6067" stop-color="#008bfb"/><stop offset="0.6077" stop-color="#03d8ed"/><stop offset="0.6082" stop-color="#0ce8e7"/><stop offset="0.6087" stop-color="#04dcec"/><stop offset="0.6092" stop-color="#00aff6"/><stop offset="0.6102" stop-color="#003bff"/><stop offset="0.6107" stop-color="#001aff"/><stop offset="0.6112" stop-color="#000aff"/><stop offset="0.6127" stop-color="#0001ff"/><stop offset="0.6228" stop-color="#0001ff"/><stop offset="0.6244" stop-color="#0005ff"/><stop offset="0.6249" stop-color="#000dff"/><stop offset="0.6254" stop-color="#0020ff"/><stop offset="0.6259" stop-color="#0043ff"/><stop offset="0.6269" stop-color="#00abf6"/><stop offset="0.6274" stop-color="#01cbf1"/><stop offset="0.6279" stop-color="#00caf1"/><stop offset="0.6294" stop-color="#006afd"/><stop offset="0.6299" stop-color="#0063fe"/><stop offset="0.632" stop-color="#0084fc"/><stop offset="0.6375" stop-color="#0084fc"/><stop offset="0.639" stop-color="#0077fd"/><stop offset="0.6446" stop-color="#0025ff"/><stop offset="0.6476" stop-color="#0017ff"/><stop offset="0.6497" stop-color="#001dff"/><stop offset="0.6527" stop-color="#0036ff"/><stop offset="0.6578" stop-color="#0082fc"/><stop offset="0.6628" stop-color="#0085fc"/><stop offset="0.6648" stop-color="#0075fd"/><stop offset="0.6654" stop-color="#0088fc"/><stop offset="0.6664" stop-color="#04dcec"/><stop offset="0.6669" stop-color="#16f0e2"/><stop offset="0.6674" stop-color="#0febe5"/><stop offset="0.6679" stop-color="#00c5f2"/><stop offset="0.6689" stop-color="#0049ff"/><stop offset="0.6694" stop-color="#0021ff"/><stop offset="0.6699" stop-color="#000dff"/><stop offset="0.6709" stop-color="#0002ff"/><stop offset="0.6836" stop-color="#0005ff"/><stop offset="0.6846" stop-color="#001eff"/><stop offset="0.6861" stop-color="#0069fd"/><stop offset="0.6866" stop-color="#006dfd"/><stop offset="0.6881" stop-color="#004aff"/><stop offset="0.6896" stop-color="#0061fe"/><stop offset="0.6906" stop-color="#0064fe"/><stop offset="0.6972" stop-color="#0033ff"/><stop offset="0.7013" stop-color="#0020ff"/><stop offset="0.7104" stop-color="#0016ff"/><stop offset="0.7225" stop-color="#001eff"/><stop offset="0.7245" stop-color="#0019ff"/><stop offset="0.7261" stop-color="#001fff"/><stop offset="0.7291" stop-color="#0002ff"/><stop offset="0.7412" stop-color="#0002ff"/><stop offset="0.7423" stop-color="#000bff"/><stop offset="0.7428" stop-color="#001dff"/><stop offset="0.7433" stop-color="#0040ff"/><stop offset="0.7443" stop-color="#00b1f6"/><stop offset="0.7448" stop-color="#03d7ee"/><stop offset="0.7453" stop-color="#04dbec"/><stop offset="0.7458" stop-color="#00c2f3"/><stop offset="0.7468" stop-color="#0077fd"/><stop offset="0.7473" stop-color="#0069fd"/><stop offset="0.7493" stop-color="#0084fc"/><stop offset="0.7544" stop-color="#0085fc"/><stop offset="0.7615" stop-color="#0044ff"/><stop offset="0.7676" stop-color="#001fff"/><stop offset="0.7706" stop-color="#001aff"/><stop offset="0.7721" stop-color="#0023ff"/><stop offset="0.7731" stop-color="#0032ff"/><stop offset="0.7757" stop-color="#0071fd"/><stop offset="0.7767" stop-color="#0081fc"/><stop offset="0.7807" stop-color="#0085fc"/><stop offset="0.7827" stop-color="#0070fd"/><stop offset="0.7832" stop-color="#007ffc"/><stop offset="0.7843" stop-color="#02d3ef"/><stop offset="0.7848" stop-color="#13ede4"/><stop offset="0.7853" stop-color="#13ede4"/><stop offset="0.7858" stop-color="#02d0f0"/><stop offset="0.7868" stop-color="#0053fe"/><stop offset="0.7873" stop-color="#0028ff"/><stop offset="0.7878" stop-color="#0010ff"/><stop offset="0.7883" stop-color="#0006ff"/><stop offset="0.7994" stop-color="#0001ff"/><stop offset="0.8004" stop-color="#0004ff"/><stop offset="0.801" stop-color="#000aff"/><stop offset="0.8015" stop-color="#001cff"/><stop offset="0.802" stop-color="#003eff"/><stop offset="0.803" stop-color="#00b9f4"/><stop offset="0.8035" stop-color="#0ae7e8"/><stop offset="0.804" stop-color="#17f0e2"/><stop offset="0.8045" stop-color="#05e1eb"/><stop offset="0.8055" stop-color="#008cfb"/><stop offset="0.806" stop-color="#0074fd"/><stop offset="0.8065" stop-color="#0071fd"/><stop offset="0.8085" stop-color="#0086fc"/><stop offset="0.8156" stop-color="#0082fc"/><stop offset="0.8176" stop-color="#006bfd"/><stop offset="0.8222" stop-color="#001fff"/><stop offset="0.8247" stop-color="#0011ff"/><stop offset="0.8298" stop-color="#0012ff"/><stop offset="0.8318" stop-color="#001aff"/><stop offset="0.8343" stop-color="#0038ff"/><stop offset="0.8374" stop-color="#0075fd"/><stop offset="0.8384" stop-color="#0082fc"/><stop offset="0.8399" stop-color="#0085fc"/><stop offset="0.8419" stop-color="#0074fd"/><stop offset="0.8424" stop-color="#0088fc"/><stop offset="0.8435" stop-color="#04dcec"/><stop offset="0.844" stop-color="#16f0e2"/><stop offset="0.8445" stop-color="#0febe5"/><stop offset="0.845" stop-color="#00c5f2"/><stop offset="0.846" stop-color="#0049ff"/><stop offset="0.8465" stop-color="#0021ff"/><stop offset="0.847" stop-color="#000dff"/><stop offset="0.8475" stop-color="#0005ff"/><stop offset="0.8495" stop-color="#0001ff"/><stop offset="0.8596" stop-color="#0001ff"/><stop offset="0.8607" stop-color="#0006ff"/><stop offset="0.8627" stop-color="#0023ff"/><stop offset="0.8647" stop-color="#0015ff"/><stop offset="0.8667" stop-color="#001bff"/><stop offset="0.8728" stop-color="#0013ff"/><stop offset="0.8794" stop-color="#001cff"/><stop offset="0.8885" stop-color="#004efe"/><stop offset="0.894" stop-color="#007ffc"/><stop offset="0.8956" stop-color="#0086fc"/><stop offset="0.8986" stop-color="#0085fc"/><stop offset="0.9006" stop-color="#006cfd"/><stop offset="0.9011" stop-color="#0076fd"/><stop offset="0.9016" stop-color="#0098f9"/><stop offset="0.9021" stop-color="#00c8f2"/><stop offset="0.9027" stop-color="#0eeae6"/><stop offset="0.9032" stop-color="#15efe2"/><stop offset="0.9037" stop-color="#04d9ed"/><stop offset="0.9047" stop-color="#005ffe"/><stop offset="0.9052" stop-color="#002eff"/><stop offset="0.9057" stop-color="#0013ff"/><stop offset="0.9062" stop-color="#0007ff"/><stop offset="0.9072" stop-color="#0001ff"/><stop offset="0.9188" stop-color="#0005ff"/><stop offset="0.9193" stop-color="#000eff"/><stop offset="0.9199" stop-color="#0022ff"/><stop offset="0.9204" stop-color="#0045ff"/><stop offset="0.9214" stop-color="#00a5f7"/><stop offset="0.9219" stop-color="#00bff3"/><stop offset="0.9224" stop-color="#00baf4"/><stop offset="0.9234" stop-color="#0083fc"/><stop offset="0.9239" stop-color="#0071fd"/><stop offset="0.9244" stop-color="#0071fd"/><stop offset="0.9254" stop-color="#0080fc"/><stop offset="0.9269" stop-color="#0086fc"/><stop offset="0.9325" stop-color="#0074fd"/><stop offset="0.9527" stop-color="#0065fd"/><stop offset="0.9543" stop-color="#0069fd"/><stop offset="0.9573" stop-color="#0082fc"/><stop offset="0.9583" stop-color="#007bfd"/><stop offset="0.9598" stop-color="#005dfe"/><stop offset="0.9603" stop-color="#0068fd"/><stop offset="0.9613" stop-color="#0095fa"/><stop offset="0.9618" stop-color="#0099f9"/><stop offset="0.9624" stop-color="#0085fc"/><stop offset="0.9634" stop-color="#0038ff"/><stop offset="0.9639" stop-color="#001cff"/><stop offset="0.9644" stop-color="#000cff"/><stop offset="0.9654" stop-color="#0002ff"/><stop offset="0.9998" stop-color="#0001ff"/></linearGradient>
<linearGradient id="ah1" gradientUnits="userSpaceOnUse" x1="310.40" y1="0" x2="312.45" y2="0"><stop offset="0" stop-color="#fff" stop-opacity="0"/><stop offset="1" stop-color="#fff" stop-opacity="1"/></linearGradient>
<mask id="am1" maskUnits="userSpaceOnUse" x="309.40" y="75.5" width="7.34" height="998.2"><rect x="309.40" y="75.5" width="7.34" height="998.2" fill="url(#ah1)"/></mask>
<linearGradient id="ar2" gradientUnits="userSpaceOnUse" x1="0" y1="80.5" x2="0" y2="1068.7"><stop offset="0" stop-color="#0002ff"/><stop offset="0.0344" stop-color="#0003ff"/><stop offset="0.0354" stop-color="#000bff"/><stop offset="0.0359" stop-color="#0018ff"/><stop offset="0.0364" stop-color="#0030ff"/><stop offset="0.0379" stop-color="#009cf9"/><stop offset="0.0385" stop-color="#00a6f7"/><stop offset="0.039" stop-color="#009bf9"/><stop offset="0.04" stop-color="#0065fd"/><stop offset="0.0405" stop-color="#0053fe"/><stop offset="0.041" stop-color="#004dff"/><stop offset="0.0465" stop-color="#0047ff"/><stop offset="0.0577" stop-color="#0055fe"/><stop offset="0.0698" stop-color="#0049ff"/><stop offset="0.0718" stop-color="#0057fe"/><stop offset="0.0749" stop-color="#007bfd"/><stop offset="0.0759" stop-color="#007bfd"/><stop offset="0.0774" stop-color="#006cfd"/><stop offset="0.0779" stop-color="#0073fd"/><stop offset="0.0794" stop-color="#00bcf4"/><stop offset="0.0799" stop-color="#00c2f3"/><stop offset="0.0804" stop-color="#00aef6"/><stop offset="0.082" stop-color="#0031ff"/><stop offset="0.0825" stop-color="#0018ff"/><stop offset="0.083" stop-color="#000bff"/><stop offset="0.0845" stop-color="#0002ff"/><stop offset="0.0926" stop-color="#0002ff"/><stop offset="0.0936" stop-color="#0007ff"/><stop offset="0.0946" stop-color="#0023ff"/><stop offset="0.0951" stop-color="#0044ff"/><stop offset="0.0961" stop-color="#00a6f7"/><stop offset="0.0966" stop-color="#01cbf1"/><stop offset="0.0971" stop-color="#03d5ee"/><stop offset="0.0977" stop-color="#00c7f2"/><stop offset="0.0987" stop-color="#0085fc"/><stop offset="0.0992" stop-color="#0070fd"/><stop offset="0.0997" stop-color="#006afd"/><stop offset="0.1017" stop-color="#0082fc"/><stop offset="0.1052" stop-color="#0084fc"/><stop offset="0.1118" stop-color="#0055fe"/><stop offset="0.1386" stop-color="#0015ff"/><stop offset="0.1422" stop-color="#0002ff"/><stop offset="0.1528" stop-color="#0007ff"/><stop offset="0.1538" stop-color="#0023ff"/><stop offset="0.1543" stop-color="#0044ff"/><stop offset="0.1553" stop-color="#00a6f7"/><stop offset="0.1558" stop-color="#01cbf1"/><stop offset="0.1563" stop-color="#03d5ee"/><stop offset="0.1569" stop-color="#00c7f2"/><stop offset="0.1579" stop-color="#0085fc"/><stop offset="0.1584" stop-color="#0070fd"/><stop offset="0.1589" stop-color="#006afd"/><stop offset="0.1614" stop-color="#0084fc"/><stop offset="0.168" stop-color="#0081fc"/><stop offset="0.17" stop-color="#006bfd"/><stop offset="0.1741" stop-color="#0027ff"/><stop offset="0.1756" stop-color="#001aff"/><stop offset="0.1776" stop-color="#0015ff"/><stop offset="0.1801" stop-color="#0018ff"/><stop offset="0.1816" stop-color="#0024ff"/><stop offset="0.1862" stop-color="#0072fd"/><stop offset="0.1877" stop-color="#0081fc"/><stop offset="0.1923" stop-color="#0084fc"/><stop offset="0.1948" stop-color="#006afd"/><stop offset="0.1953" stop-color="#006ffd"/><stop offset="0.1958" stop-color="#0083fc"/><stop offset="0.1968" stop-color="#00c5f3"/><stop offset="0.1973" stop-color="#03d4ee"/><stop offset="0.1978" stop-color="#01ccf1"/><stop offset="0.1983" stop-color="#00a9f7"/><stop offset="0.1994" stop-color="#0047ff"/><stop offset="0.1999" stop-color="#0025ff"/><stop offset="0.2004" stop-color="#0011ff"/><stop offset="0.2009" stop-color="#0007ff"/><stop offset="0.2019" stop-color="#0002ff"/><stop offset="0.212" stop-color="#0008ff"/><stop offset="0.2125" stop-color="#0012ff"/><stop offset="0.213" stop-color="#0026ff"/><stop offset="0.2135" stop-color="#0047ff"/><stop offset="0.2145" stop-color="#00a0f8"/><stop offset="0.215" stop-color="#00bbf4"/><stop offset="0.2155" stop-color="#00bff3"/><stop offset="0.2171" stop-color="#007bfd"/><stop offset="0.2176" stop-color="#0070fd"/><stop offset="0.2201" stop-color="#0084fc"/><stop offset="0.2241" stop-color="#0080fc"/><stop offset="0.2307" stop-color="#0030ff"/><stop offset="0.2333" stop-color="#001eff"/><stop offset="0.2358" stop-color="#0016ff"/><stop offset="0.2429" stop-color="#0014ff"/><stop offset="0.252" stop-color="#0024ff"/><stop offset="0.2545" stop-color="#001bff"/><stop offset="0.2565" stop-color="#001eff"/><stop offset="0.2596" stop-color="#0003ff"/><stop offset="0.2702" stop-color="#0003ff"/><stop offset="0.2712" stop-color="#000bff"/><stop offset="0.2717" stop-color="#0016ff"/><stop offset="0.2737" stop-color="#0075fd"/><stop offset="0.2742" stop-color="#007cfc"/><stop offset="0.2758" stop-color="#0066fd"/><stop offset="0.2783" stop-color="#0072fd"/><stop offset="0.2823" stop-color="#004dff"/><stop offset="0.2854" stop-color="#003fff"/><stop offset="0.295" stop-color="#0029ff"/><stop offset="0.3031" stop-color="#002eff"/><stop offset="0.3071" stop-color="#0044ff"/><stop offset="0.3107" stop-color="#0079fd"/><stop offset="0.3127" stop-color="#0067fd"/><stop offset="0.3132" stop-color="#0069fd"/><stop offset="0.3137" stop-color="#007afd"/><stop offset="0.3147" stop-color="#00b5f5"/><stop offset="0.3152" stop-color="#00c6f2"/><stop offset="0.3157" stop-color="#00bef4"/><stop offset="0.3162" stop-color="#009df9"/><stop offset="0.3172" stop-color="#0041ff"/><stop offset="0.3177" stop-color="#0022ff"/><stop offset="0.3183" stop-color="#000fff"/><stop offset="0.3193" stop-color="#0003ff"/><stop offset="0.3284" stop-color="#0002ff"/><stop offset="0.3299" stop-color="#0009ff"/><stop offset="0.3309" stop-color="#0026ff"/><stop offset="0.3324" stop-color="#008efb"/><stop offset="0.3329" stop-color="#00a2f8"/><stop offset="0.3334" stop-color="#00a1f8"/><stop offset="0.335" stop-color="#006dfd"/><stop offset="0.3355" stop-color="#006afd"/><stop offset="0.338" stop-color="#0084fc"/><stop offset="0.3415" stop-color="#0082fc"/><stop offset="0.3471" stop-color="#005dfe"/><stop offset="0.3537" stop-color="#001dff"/><stop offset="0.3587" stop-color="#0012ff"/><stop offset="0.3613" stop-color="#0019ff"/><stop offset="0.3638" stop-color="#002dff"/><stop offset="0.3694" stop-color="#007bfd"/><stop offset="0.3719" stop-color="#0073fd"/><stop offset="0.3724" stop-color="#0081fc"/><stop offset="0.3734" stop-color="#00bef3"/><stop offset="0.3739" stop-color="#03d5ee"/><stop offset="0.3744" stop-color="#03d5ee"/><stop offset="0.3749" stop-color="#00bbf4"/><stop offset="0.3759" stop-color="#0059fe"/><stop offset="0.3764" stop-color="#0031ff"/><stop offset="0.3769" stop-color="#0017ff"/><stop offset="0.3775" stop-color="#000aff"/><stop offset="0.3785" stop-color="#0003ff"/><stop offset="0.3886" stop-color="#0003ff"/><stop offset="0.3901" stop-color="#000dff"/><stop offset="0.3916" stop-color="#0024ff"/><stop offset="0.3942" stop-color="#0024ff"/><stop offset="0.3962" stop-color="#0036ff"/><stop offset="0.3977" stop-color="#003aff"/><stop offset="0.4093" stop-color="#0043ff"/><stop offset="0.4235" stop-color="#0041ff"/><stop offset="0.4275" stop-color="#006afd"/><stop offset="0.4296" stop-color="#0068fd"/><stop offset="0.4311" stop-color="#0096fa"/><stop offset="0.4316" stop-color="#0096fa"/><stop offset="0.4321" stop-color="#0083fc"/><stop offset="0.4336" stop-color="#0023ff"/><stop offset="0.4341" stop-color="#0011ff"/><stop offset="0.4351" stop-color="#0004ff"/><stop offset="0.4478" stop-color="#0004ff"/><stop offset="0.4488" stop-color="#0011ff"/><stop offset="0.4508" stop-color="#0051fe"/><stop offset="0.4513" stop-color="#0056fe"/><stop offset="0.4528" stop-color="#004aff"/><stop offset="0.4554" stop-color="#0059fe"/><stop offset="0.464" stop-color="#0031ff"/><stop offset="0.469" stop-color="#0010ff"/><stop offset="0.4761" stop-color="#000fff"/><stop offset="0.4781" stop-color="#0018ff"/><stop offset="0.4802" stop-color="#002cff"/><stop offset="0.4852" stop-color="#007efc"/><stop offset="0.4862" stop-color="#0081fc"/><stop offset="0.4883" stop-color="#006ffd"/><stop offset="0.4888" stop-color="#0079fd"/><stop offset="0.4903" stop-color="#01cef0"/><stop offset="0.4908" stop-color="#03d4ef"/><stop offset="0.4913" stop-color="#00c1f3"/><stop offset="0.4928" stop-color="#0037ff"/><stop offset="0.4933" stop-color="#001bff"/><stop offset="0.4938" stop-color="#000cff"/><stop offset="0.4953" stop-color="#0002ff"/><stop offset="0.505" stop-color="#0002ff"/><stop offset="0.506" stop-color="#0004ff"/><stop offset="0.507" stop-color="#0016ff"/><stop offset="0.5075" stop-color="#002eff"/><stop offset="0.508" stop-color="#0056fe"/><stop offset="0.509" stop-color="#00b9f4"/><stop offset="0.5095" stop-color="#03d4ef"/><stop offset="0.51" stop-color="#03d6ee"/><stop offset="0.5105" stop-color="#00c1f3"/><stop offset="0.5115" stop-color="#0083fc"/><stop offset="0.512" stop-color="#0074fd"/><stop offset="0.5151" stop-color="#0085fc"/><stop offset="0.5222" stop-color="#0082fc"/><stop offset="0.5242" stop-color="#0073fd"/><stop offset="0.5308" stop-color="#0027ff"/><stop offset="0.5343" stop-color="#0018ff"/><stop offset="0.5363" stop-color="#001cff"/><stop offset="0.5378" stop-color="#0027ff"/><stop offset="0.5394" stop-color="#003dff"/><stop offset="0.5419" stop-color="#006ffd"/><stop offset="0.5434" stop-color="#0081fc"/><stop offset="0.5454" stop-color="#0082fc"/><stop offset="0.5475" stop-color="#0070fd"/><stop offset="0.548" stop-color="#007bfd"/><stop offset="0.5495" stop-color="#02d1f0"/><stop offset="0.55" stop-color="#03d6ee"/><stop offset="0.5505" stop-color="#00c2f3"/><stop offset="0.552" stop-color="#0037ff"/><stop offset="0.5525" stop-color="#001bff"/><stop offset="0.5535" stop-color="#0005ff"/><stop offset="0.5545" stop-color="#0002ff"/><stop offset="0.5652" stop-color="#0007ff"/><stop offset="0.5662" stop-color="#0021ff"/><stop offset="0.5667" stop-color="#0041ff"/><stop offset="0.5677" stop-color="#00a2f8"/><stop offset="0.5682" stop-color="#00c7f2"/><stop offset="0.5687" stop-color="#02d1ef"/><stop offset="0.5692" stop-color="#00c3f3"/><stop offset="0.5702" stop-color="#0083fc"/><stop offset="0.5707" stop-color="#006efd"/><stop offset="0.5712" stop-color="#0069fd"/><stop offset="0.5738" stop-color="#0084fc"/><stop offset="0.5788" stop-color="#0085fc"/><stop offset="0.5869" stop-color="#0059fe"/><stop offset="0.5965" stop-color="#0048ff"/><stop offset="0.5986" stop-color="#004ffe"/><stop offset="0.6026" stop-color="#0080fc"/><stop offset="0.6041" stop-color="#0082fc"/><stop offset="0.6062" stop-color="#0075fd"/><stop offset="0.6067" stop-color="#0083fc"/><stop offset="0.6077" stop-color="#00bbf4"/><stop offset="0.6082" stop-color="#01cdf1"/><stop offset="0.6087" stop-color="#00c8f2"/><stop offset="0.6092" stop-color="#00a9f7"/><stop offset="0.6102" stop-color="#004bff"/><stop offset="0.6107" stop-color="#0028ff"/><stop offset="0.6112" stop-color="#0013ff"/><stop offset="0.6117" stop-color="#0008ff"/><stop offset="0.6127" stop-color="#0002ff"/><stop offset="0.6244" stop-color="#0006ff"/><stop offset="0.6254" stop-color="#001dff"/><stop offset="0.6259" stop-color="#0038ff"/><stop offset="0.6269" stop-color="#0089fc"/><stop offset="0.6274" stop-color="#00a8f7"/><stop offset="0.6279" stop-color="#00b2f5"/><stop offset="0.6284" stop-color="#00a6f7"/><stop offset="0.6294" stop-color="#0075fd"/><stop offset="0.6299" stop-color="#0067fd"/><stop offset="0.6304" stop-color="#0066fd"/><stop offset="0.632" stop-color="#007efc"/><stop offset="0.633" stop-color="#0084fc"/><stop offset="0.6375" stop-color="#0082fc"/><stop offset="0.6395" stop-color="#0071fd"/><stop offset="0.6446" stop-color="#0028ff"/><stop offset="0.6461" stop-color="#001cff"/><stop offset="0.6481" stop-color="#0019ff"/><stop offset="0.6502" stop-color="#0021ff"/><stop offset="0.6527" stop-color="#0035ff"/><stop offset="0.6567" stop-color="#0072fd"/><stop offset="0.6583" stop-color="#0081fc"/><stop offset="0.6623" stop-color="#0084fc"/><stop offset="0.6648" stop-color="#0074fd"/><stop offset="0.6654" stop-color="#0082fc"/><stop offset="0.6664" stop-color="#00bff3"/><stop offset="0.6669" stop-color="#03d5ee"/><stop offset="0.6674" stop-color="#03d5ee"/><stop offset="0.6679" stop-color="#00bbf4"/><stop offset="0.6689" stop-color="#0059fe"/><stop offset="0.6694" stop-color="#0031ff"/><stop offset="0.6699" stop-color="#0017ff"/><stop offset="0.6704" stop-color="#000aff"/><stop offset="0.6714" stop-color="#0003ff"/><stop offset="0.6831" stop-color="#0004ff"/><stop offset="0.6841" stop-color="#000dff"/><stop offset="0.6846" stop-color="#001aff"/><stop offset="0.6861" stop-color="#0056fe"/><stop offset="0.6866" stop-color="#0060fe"/><stop offset="0.6886" stop-color="#004dff"/><stop offset="0.6906" stop-color="#0060fe"/><stop offset="0.6982" stop-color="#002eff"/><stop offset="0.7018" stop-color="#0020ff"/><stop offset="0.7104" stop-color="#0017ff"/><stop offset="0.7261" stop-color="#001dff"/><stop offset="0.7296" stop-color="#0003ff"/><stop offset="0.7397" stop-color="#0002ff"/><stop offset="0.7418" stop-color="#0006ff"/><stop offset="0.7428" stop-color="#001bff"/><stop offset="0.7433" stop-color="#0036ff"/><stop offset="0.7448" stop-color="#00b1f6"/><stop offset="0.7453" stop-color="#00c1f3"/><stop offset="0.7458" stop-color="#00b8f5"/><stop offset="0.7468" stop-color="#0082fc"/><stop offset="0.7473" stop-color="#006ffd"/><stop offset="0.7478" stop-color="#006afd"/><stop offset="0.7504" stop-color="#0084fc"/><stop offset="0.7544" stop-color="#0083fc"/><stop offset="0.7615" stop-color="#0045ff"/><stop offset="0.7676" stop-color="#0021ff"/><stop offset="0.7701" stop-color="#001bff"/><stop offset="0.7726" stop-color="#002aff"/><stop offset="0.7762" stop-color="#0073fd"/><stop offset="0.7772" stop-color="#0080fc"/><stop offset="0.7802" stop-color="#0084fc"/><stop offset="0.7827" stop-color="#0070fd"/><stop offset="0.7832" stop-color="#007bfd"/><stop offset="0.7848" stop-color="#02d1f0"/><stop offset="0.7853" stop-color="#03d6ee"/><stop offset="0.7858" stop-color="#00c2f3"/><stop offset="0.7873" stop-color="#0037ff"/><stop offset="0.7878" stop-color="#001bff"/><stop offset="0.7888" stop-color="#0005ff"/><stop offset="0.7898" stop-color="#0002ff"/><stop offset="0.7994" stop-color="#0002ff"/><stop offset="0.801" stop-color="#000bff"/><stop offset="0.8015" stop-color="#001aff"/><stop offset="0.802" stop-color="#0035ff"/><stop offset="0.8035" stop-color="#00c0f3"/><stop offset="0.804" stop-color="#03d5ee"/><stop offset="0.8045" stop-color="#02d2ef"/><stop offset="0.806" stop-color="#007cfc"/><stop offset="0.8065" stop-color="#0070fd"/><stop offset="0.809" stop-color="#0084fc"/><stop offset="0.8151" stop-color="#0083fc"/><stop offset="0.8176" stop-color="#006cfd"/><stop offset="0.8227" stop-color="#001eff"/><stop offset="0.8242" stop-color="#0014ff"/><stop offset="0.8273" stop-color="#0012ff"/><stop offset="0.8308" stop-color="#0016ff"/><stop offset="0.8328" stop-color="#0024ff"/><stop offset="0.8349" stop-color="#003fff"/><stop offset="0.8374" stop-color="#006ffd"/><stop offset="0.8389" stop-color="#0080fc"/><stop offset="0.8399" stop-color="#0081fc"/><stop offset="0.8419" stop-color="#0074fd"/><stop offset="0.8424" stop-color="#0082fc"/><stop offset="0.8435" stop-color="#00bff3"/><stop offset="0.844" stop-color="#03d5ee"/><stop offset="0.8445" stop-color="#03d5ee"/><stop offset="0.845" stop-color="#00bbf4"/><stop offset="0.846" stop-color="#0059fe"/><stop offset="0.8465" stop-color="#0031ff"/><stop offset="0.847" stop-color="#0017ff"/><stop offset="0.8475" stop-color="#000aff"/><stop offset="0.849" stop-color="#0002ff"/><stop offset="0.8571" stop-color="#0002ff"/><stop offset="0.8601" stop-color="#0004ff"/><stop offset="0.8632" stop-color="#0020ff"/><stop offset="0.8652" stop-color="#0016ff"/><stop offset="0.8677" stop-color="#001bff"/><stop offset="0.8723" stop-color="#0014ff"/><stop offset="0.8799" stop-color="#001eff"/><stop offset="0.8885" stop-color="#004dff"/><stop offset="0.8956" stop-color="#0084fc"/><stop offset="0.8986" stop-color="#0082fc"/><stop offset="0.9006" stop-color="#006dfd"/><stop offset="0.9011" stop-color="#0075fd"/><stop offset="0.9016" stop-color="#008cfb"/><stop offset="0.9027" stop-color="#01cbf1"/><stop offset="0.9032" stop-color="#03d6ee"/><stop offset="0.9037" stop-color="#00c8f2"/><stop offset="0.9042" stop-color="#00a0f8"/><stop offset="0.9052" stop-color="#003fff"/><stop offset="0.9057" stop-color="#0020ff"/><stop offset="0.9062" stop-color="#000eff"/><stop offset="0.9072" stop-color="#0003ff"/><stop offset="0.9188" stop-color="#0007ff"/><stop offset="0.9199" stop-color="#001eff"/><stop offset="0.9204" stop-color="#0039ff"/><stop offset="0.9214" stop-color="#0085fc"/><stop offset="0.9219" stop-color="#00a0f8"/><stop offset="0.9224" stop-color="#00a8f7"/><stop offset="0.9229" stop-color="#009df9"/><stop offset="0.9239" stop-color="#0077fd"/><stop offset="0.9244" stop-color="#006ffd"/><stop offset="0.9264" stop-color="#0082fc"/><stop offset="0.9274" stop-color="#0083fc"/><stop offset="0.933" stop-color="#0073fd"/><stop offset="0.9522" stop-color="#0065fd"/><stop offset="0.9543" stop-color="#0069fd"/><stop offset="0.9573" stop-color="#007dfc"/><stop offset="0.9598" stop-color="#0060fe"/><stop offset="0.9603" stop-color="#0066fd"/><stop offset="0.9613" stop-color="#0082fc"/><stop offset="0.9618" stop-color="#0086fc"/><stop offset="0.9624" stop-color="#007bfd"/><stop offset="0.9639" stop-color="#0026ff"/><stop offset="0.9644" stop-color="#0014ff"/><stop offset="0.9659" stop-color="#0003ff"/><stop offset="0.9998" stop-color="#0002ff"/></linearGradient>
<linearGradient id="ah2" gradientUnits="userSpaceOnUse" x1="312.45" y1="0" x2="315.74" y2="0"><stop offset="0" stop-color="#fff" stop-opacity="0"/><stop offset="1" stop-color="#fff" stop-opacity="1"/></linearGradient>
<mask id="am2" maskUnits="userSpaceOnUse" x="311.45" y="75.5" width="10.55" height="998.2"><rect x="311.45" y="75.5" width="10.55" height="998.2" fill="url(#ah2)"/></mask>
<linearGradient id="ar3" gradientUnits="userSpaceOnUse" x1="0" y1="80.5" x2="0" y2="1068.7"><stop offset="0" stop-color="#0004ff"/><stop offset="0.0344" stop-color="#0005ff"/><stop offset="0.0359" stop-color="#0015ff"/><stop offset="0.0369" stop-color="#003dff"/><stop offset="0.0379" stop-color="#0073fd"/><stop offset="0.0385" stop-color="#0084fc"/><stop offset="0.039" stop-color="#0086fc"/><stop offset="0.0405" stop-color="#005afe"/><stop offset="0.0415" stop-color="#0049ff"/><stop offset="0.0476" stop-color="#0048ff"/><stop offset="0.0577" stop-color="#0054fe"/><stop offset="0.0693" stop-color="#0049ff"/><stop offset="0.0713" stop-color="#0052fe"/><stop offset="0.0749" stop-color="#0072fd"/><stop offset="0.0779" stop-color="#006dfd"/><stop offset="0.0794" stop-color="#0099f9"/><stop offset="0.0799" stop-color="#00a0f8"/><stop offset="0.0804" stop-color="#0099f9"/><stop offset="0.081" stop-color="#0083fc"/><stop offset="0.0825" stop-color="#0028ff"/><stop offset="0.0835" stop-color="#000cff"/><stop offset="0.085" stop-color="#0004ff"/><stop offset="0.0926" stop-color="#0004ff"/><stop offset="0.0936" stop-color="#0009ff"/><stop offset="0.0946" stop-color="#001dff"/><stop offset="0.0951" stop-color="#0034ff"/><stop offset="0.0966" stop-color="#0098f9"/><stop offset="0.0971" stop-color="#00abf6"/><stop offset="0.0977" stop-color="#00adf6"/><stop offset="0.0992" stop-color="#0079fd"/><stop offset="0.1002" stop-color="#0069fd"/><stop offset="0.1027" stop-color="#0080fc"/><stop offset="0.1052" stop-color="#0082fc"/><stop offset="0.1123" stop-color="#0055fe"/><stop offset="0.124" stop-color="#003dff"/><stop offset="0.1437" stop-color="#0004ff"/><stop offset="0.1528" stop-color="#0009ff"/><stop offset="0.1538" stop-color="#001dff"/><stop offset="0.1543" stop-color="#0034ff"/><stop offset="0.1558" stop-color="#0098f9"/><stop offset="0.1563" stop-color="#00abf6"/><stop offset="0.1569" stop-color="#00adf6"/><stop offset="0.1584" stop-color="#0079fd"/><stop offset="0.1594" stop-color="#0069fd"/><stop offset="0.1624" stop-color="#0082fc"/><stop offset="0.1675" stop-color="#0080fc"/><stop offset="0.17" stop-color="#006cfd"/><stop offset="0.1746" stop-color="#0028ff"/><stop offset="0.1766" stop-color="#001aff"/><stop offset="0.1786" stop-color="#0017ff"/><stop offset="0.1806" stop-color="#001dff"/><stop offset="0.1821" stop-color="#002aff"/><stop offset="0.1862" stop-color="#006afd"/><stop offset="0.1882" stop-color="#007efc"/><stop offset="0.1918" stop-color="#0082fc"/><stop offset="0.1948" stop-color="#0069fd"/><stop offset="0.1953" stop-color="#006cfd"/><stop offset="0.1973" stop-color="#00acf6"/><stop offset="0.1978" stop-color="#00acf6"/><stop offset="0.1983" stop-color="#009bf9"/><stop offset="0.1999" stop-color="#0037ff"/><stop offset="0.2004" stop-color="#0020ff"/><stop offset="0.2014" stop-color="#0009ff"/><stop offset="0.2034" stop-color="#0004ff"/><stop offset="0.212" stop-color="#0009ff"/><stop offset="0.213" stop-color="#001fff"/><stop offset="0.2135" stop-color="#0036ff"/><stop offset="0.215" stop-color="#0090fb"/><stop offset="0.2155" stop-color="#009ef8"/><stop offset="0.216" stop-color="#009df9"/><stop offset="0.2176" stop-color="#0073fd"/><stop offset="0.2181" stop-color="#006dfd"/><stop offset="0.2211" stop-color="#0082fc"/><stop offset="0.2241" stop-color="#007efc"/><stop offset="0.2307" stop-color="#0034ff"/><stop offset="0.2348" stop-color="#001bff"/><stop offset="0.2424" stop-color="#0015ff"/><stop offset="0.252" stop-color="#0024ff"/><stop offset="0.2565" stop-color="#001dff"/><stop offset="0.2601" stop-color="#0005ff"/><stop offset="0.2682" stop-color="#0004ff"/><stop offset="0.2712" stop-color="#000bff"/><stop offset="0.2722" stop-color="#0021ff"/><stop offset="0.2737" stop-color="#005bfe"/><stop offset="0.2747" stop-color="#006cfd"/><stop offset="0.2763" stop-color="#0061fe"/><stop offset="0.2793" stop-color="#0068fd"/><stop offset="0.2833" stop-color="#0049ff"/><stop offset="0.2874" stop-color="#003bff"/><stop offset="0.295" stop-color="#002bff"/><stop offset="0.3016" stop-color="#002dff"/><stop offset="0.3061" stop-color="#003bff"/><stop offset="0.3107" stop-color="#006efd"/><stop offset="0.3132" stop-color="#0067fd"/><stop offset="0.3152" stop-color="#00a0f8"/><stop offset="0.3157" stop-color="#00a0f8"/><stop offset="0.3162" stop-color="#0090fb"/><stop offset="0.3177" stop-color="#0033ff"/><stop offset="0.3183" stop-color="#001dff"/><stop offset="0.3193" stop-color="#0009ff"/><stop offset="0.3284" stop-color="#0004ff"/><stop offset="0.3304" stop-color="#0012ff"/><stop offset="0.3314" stop-color="#0034ff"/><stop offset="0.3329" stop-color="#007ffc"/><stop offset="0.3334" stop-color="#0089fc"/><stop offset="0.3339" stop-color="#0087fc"/><stop offset="0.3355" stop-color="#006afd"/><stop offset="0.336" stop-color="#0068fd"/><stop offset="0.339" stop-color="#0082fc"/><stop offset="0.3425" stop-color="#007dfc"/><stop offset="0.3476" stop-color="#005afe"/><stop offset="0.3537" stop-color="#0021ff"/><stop offset="0.3562" stop-color="#0016ff"/><stop offset="0.3592" stop-color="#0015ff"/><stop offset="0.3638" stop-color="#002cff"/><stop offset="0.3694" stop-color="#0072fd"/><stop offset="0.3719" stop-color="#006ffd"/><stop offset="0.3724" stop-color="#0077fd"/><stop offset="0.3739" stop-color="#00adf6"/><stop offset="0.3744" stop-color="#00b2f5"/><stop offset="0.3749" stop-color="#00a7f7"/><stop offset="0.3754" stop-color="#008cfb"/><stop offset="0.3764" stop-color="#0043ff"/><stop offset="0.3775" stop-color="#0016ff"/><stop offset="0.3785" stop-color="#0007ff"/><stop offset="0.3795" stop-color="#0004ff"/><stop offset="0.3891" stop-color="#0006ff"/><stop offset="0.3921" stop-color="#0022ff"/><stop offset="0.3987" stop-color="#003bff"/><stop offset="0.4098" stop-color="#0043ff"/><stop offset="0.423" stop-color="#0041ff"/><stop offset="0.427" stop-color="#005efe"/><stop offset="0.4296" stop-color="#0061fe"/><stop offset="0.4311" stop-color="#007efc"/><stop offset="0.4316" stop-color="#0080fc"/><stop offset="0.4321" stop-color="#0076fd"/><stop offset="0.4341" stop-color="#001dff"/><stop offset="0.4351" stop-color="#000aff"/><stop offset="0.4361" stop-color="#0005ff"/><stop offset="0.4478" stop-color="#0006ff"/><stop offset="0.4493" stop-color="#0019ff"/><stop offset="0.4513" stop-color="#0049ff"/><stop offset="0.4533" stop-color="#0048ff"/><stop offset="0.4559" stop-color="#0054fe"/><stop offset="0.463" stop-color="#0038ff"/><stop offset="0.4695" stop-color="#0012ff"/><stop offset="0.4756" stop-color="#0010ff"/><stop offset="0.4797" stop-color="#0026ff"/><stop offset="0.4852" stop-color="#0075fd"/><stop offset="0.4862" stop-color="#0078fd"/><stop offset="0.4883" stop-color="#006cfd"/><stop offset="0.4888" stop-color="#0072fd"/><stop offset="0.4903" stop-color="#00a6f7"/><stop offset="0.4908" stop-color="#00aff6"/><stop offset="0.4913" stop-color="#00a7f7"/><stop offset="0.4918" stop-color="#0090fb"/><stop offset="0.4933" stop-color="#002dff"/><stop offset="0.4943" stop-color="#000dff"/><stop offset="0.4959" stop-color="#0004ff"/><stop offset="0.5055" stop-color="#0005ff"/><stop offset="0.5065" stop-color="#000bff"/><stop offset="0.5075" stop-color="#0026ff"/><stop offset="0.508" stop-color="#0040ff"/><stop offset="0.509" stop-color="#0088fc"/><stop offset="0.5095" stop-color="#00a4f7"/><stop offset="0.51" stop-color="#00b2f5"/><stop offset="0.5105" stop-color="#00aff6"/><stop offset="0.512" stop-color="#0079fd"/><stop offset="0.5125" stop-color="#0071fd"/><stop offset="0.5161" stop-color="#0083fc"/><stop offset="0.5222" stop-color="#0080fc"/><stop offset="0.5247" stop-color="#006efd"/><stop offset="0.5308" stop-color="#002bff"/><stop offset="0.5348" stop-color="#001bff"/><stop offset="0.5384" stop-color="#002eff"/><stop offset="0.5434" stop-color="#0079fd"/><stop offset="0.5449" stop-color="#007efc"/><stop offset="0.5475" stop-color="#006dfd"/><stop offset="0.548" stop-color="#0074fd"/><stop offset="0.5495" stop-color="#00a9f7"/><stop offset="0.55" stop-color="#00b1f6"/><stop offset="0.5505" stop-color="#00a9f7"/><stop offset="0.551" stop-color="#0091fa"/><stop offset="0.552" stop-color="#004aff"/><stop offset="0.553" stop-color="#0019ff"/><stop offset="0.554" stop-color="#0008ff"/><stop offset="0.5561" stop-color="#0004ff"/><stop offset="0.5652" stop-color="#0008ff"/><stop offset="0.5662" stop-color="#001cff"/><stop offset="0.5667" stop-color="#0032ff"/><stop offset="0.5682" stop-color="#0094fa"/><stop offset="0.5687" stop-color="#00a7f7"/><stop offset="0.5692" stop-color="#00aaf7"/><stop offset="0.5707" stop-color="#0077fd"/><stop offset="0.5717" stop-color="#0068fd"/><stop offset="0.5748" stop-color="#0082fc"/><stop offset="0.5788" stop-color="#0083fc"/><stop offset="0.5874" stop-color="#0058fe"/><stop offset="0.596" stop-color="#004aff"/><stop offset="0.5986" stop-color="#0050fe"/><stop offset="0.6031" stop-color="#007cfc"/><stop offset="0.6062" stop-color="#0070fd"/><stop offset="0.6067" stop-color="#0078fd"/><stop offset="0.6082" stop-color="#00a8f7"/><stop offset="0.6087" stop-color="#00a9f7"/><stop offset="0.6092" stop-color="#009af9"/><stop offset="0.6107" stop-color="#003aff"/><stop offset="0.6112" stop-color="#0022ff"/><stop offset="0.6122" stop-color="#000aff"/><stop offset="0.6137" stop-color="#0004ff"/><stop offset="0.6228" stop-color="#0004ff"/><stop offset="0.6244" stop-color="#0008ff"/><stop offset="0.6254" stop-color="#0019ff"/><stop offset="0.6259" stop-color="#002bff"/><stop offset="0.6274" stop-color="#007efc"/><stop offset="0.6279" stop-color="#008ffb"/><stop offset="0.6284" stop-color="#0092fa"/><stop offset="0.6304" stop-color="#0066fd"/><stop offset="0.634" stop-color="#0082fc"/><stop offset="0.638" stop-color="#007dfc"/><stop offset="0.6401" stop-color="#006bfd"/><stop offset="0.6451" stop-color="#0029ff"/><stop offset="0.6481" stop-color="#001cff"/><stop offset="0.6522" stop-color="#0030ff"/><stop offset="0.6573" stop-color="#0071fd"/><stop offset="0.6588" stop-color="#007efc"/><stop offset="0.6618" stop-color="#0082fc"/><stop offset="0.6648" stop-color="#0070fd"/><stop offset="0.6654" stop-color="#0078fd"/><stop offset="0.6669" stop-color="#00adf6"/><stop offset="0.6674" stop-color="#00b2f5"/><stop offset="0.6679" stop-color="#00a7f7"/><stop offset="0.6684" stop-color="#008cfb"/><stop offset="0.6694" stop-color="#0043ff"/><stop offset="0.6704" stop-color="#0016ff"/><stop offset="0.6714" stop-color="#0007ff"/><stop offset="0.6724" stop-color="#0004ff"/><stop offset="0.6831" stop-color="#0005ff"/><stop offset="0.6846" stop-color="#0016ff"/><stop offset="0.6861" stop-color="#0041ff"/><stop offset="0.6871" stop-color="#0054fe"/><stop offset="0.6891" stop-color="#004cff"/><stop offset="0.6917" stop-color="#005afe"/><stop offset="0.6987" stop-color="#002eff"/><stop offset="0.7028" stop-color="#0020ff"/><stop offset="0.7104" stop-color="#0019ff"/><stop offset="0.7261" stop-color="#001bff"/><stop offset="0.7301" stop-color="#0005ff"/><stop offset="0.7412" stop-color="#0005ff"/><stop offset="0.7428" stop-color="#0018ff"/><stop offset="0.7438" stop-color="#0044ff"/><stop offset="0.7448" stop-color="#0084fc"/><stop offset="0.7453" stop-color="#0098f9"/><stop offset="0.7458" stop-color="#009ef8"/><stop offset="0.7463" stop-color="#0096fa"/><stop offset="0.7473" stop-color="#0076fd"/><stop offset="0.7483" stop-color="#0069fd"/><stop offset="0.7509" stop-color="#0080fc"/><stop offset="0.7544" stop-color="#0081fc"/><stop offset="0.7635" stop-color="#003bff"/><stop offset="0.7681" stop-color="#0022ff"/><stop offset="0.7706" stop-color="#001fff"/><stop offset="0.7731" stop-color="#0032ff"/><stop offset="0.7762" stop-color="#006afd"/><stop offset="0.7777" stop-color="#007cfc"/><stop offset="0.7802" stop-color="#0080fc"/><stop offset="0.7827" stop-color="#006dfd"/><stop offset="0.7832" stop-color="#0074fd"/><stop offset="0.7848" stop-color="#00a9f7"/><stop offset="0.7853" stop-color="#00b1f6"/><stop offset="0.7858" stop-color="#00a9f7"/><stop offset="0.7863" stop-color="#0091fa"/><stop offset="0.7873" stop-color="#004aff"/><stop offset="0.7883" stop-color="#0019ff"/><stop offset="0.7898" stop-color="#0005ff"/><stop offset="0.7994" stop-color="#0004ff"/><stop offset="0.801" stop-color="#000cff"/><stop offset="0.802" stop-color="#002aff"/><stop offset="0.8025" stop-color="#0046ff"/><stop offset="0.8035" stop-color="#008efb"/><stop offset="0.804" stop-color="#00a7f7"/><stop offset="0.8045" stop-color="#00b1f6"/><stop offset="0.805" stop-color="#00aaf7"/><stop offset="0.8065" stop-color="#0075fd"/><stop offset="0.807" stop-color="#006efd"/><stop offset="0.8101" stop-color="#0082fc"/><stop offset="0.8151" stop-color="#0080fc"/><stop offset="0.8176" stop-color="#006cfd"/><stop offset="0.8217" stop-color="#0031ff"/><stop offset="0.8237" stop-color="#001cff"/><stop offset="0.8293" stop-color="#0014ff"/><stop offset="0.8313" stop-color="#001aff"/><stop offset="0.8333" stop-color="#0029ff"/><stop offset="0.8389" stop-color="#0078fd"/><stop offset="0.8419" stop-color="#0070fd"/><stop offset="0.8424" stop-color="#0078fd"/><stop offset="0.844" stop-color="#00adf6"/><stop offset="0.8445" stop-color="#00b2f5"/><stop offset="0.845" stop-color="#00a7f7"/><stop offset="0.8455" stop-color="#008cfb"/><stop offset="0.8465" stop-color="#0043ff"/><stop offset="0.8475" stop-color="#0016ff"/><stop offset="0.8485" stop-color="#0007ff"/><stop offset="0.8495" stop-color="#0004ff"/><stop offset="0.8596" stop-color="#0005ff"/><stop offset="0.8637" stop-color="#001dff"/><stop offset="0.8733" stop-color="#0016ff"/><stop offset="0.8804" stop-color="#0021ff"/><stop offset="0.888" stop-color="#0048ff"/><stop offset="0.8956" stop-color="#0080fc"/><stop offset="0.8981" stop-color="#0080fc"/><stop offset="0.9006" stop-color="#006bfd"/><stop offset="0.9016" stop-color="#007dfc"/><stop offset="0.9027" stop-color="#00a4f8"/><stop offset="0.9032" stop-color="#00aff6"/><stop offset="0.9037" stop-color="#00abf6"/><stop offset="0.9042" stop-color="#0096fa"/><stop offset="0.9057" stop-color="#0032ff"/><stop offset="0.9062" stop-color="#001cff"/><stop offset="0.9072" stop-color="#0008ff"/><stop offset="0.9082" stop-color="#0004ff"/><stop offset="0.9188" stop-color="#0008ff"/><stop offset="0.9199" stop-color="#001aff"/><stop offset="0.9204" stop-color="#002cff"/><stop offset="0.9219" stop-color="#007bfd"/><stop offset="0.9224" stop-color="#008bfb"/><stop offset="0.9229" stop-color="#008dfb"/><stop offset="0.9249" stop-color="#006cfd"/><stop offset="0.9279" stop-color="#007ffc"/><stop offset="0.9345" stop-color="#0070fd"/><stop offset="0.9502" stop-color="#0065fd"/><stop offset="0.9532" stop-color="#0066fd"/><stop offset="0.9573" stop-color="#0075fd"/><stop offset="0.9598" stop-color="#0060fe"/><stop offset="0.9618" stop-color="#0072fd"/><stop offset="0.9629" stop-color="#005dfe"/><stop offset="0.9639" stop-color="#0032ff"/><stop offset="0.9649" stop-color="#0012ff"/><stop offset="0.9664" stop-color="#0005ff"/><stop offset="0.9998" stop-color="#0004ff"/></linearGradient>
<linearGradient id="ah3" gradientUnits="userSpaceOnUse" x1="315.74" y1="0" x2="321.00" y2="0"><stop offset="0" stop-color="#fff" stop-opacity="0"/><stop offset="1" stop-color="#fff" stop-opacity="1"/></linearGradient>
<mask id="am3" maskUnits="userSpaceOnUse" x="314.74" y="75.5" width="15.68" height="998.2"><rect x="314.74" y="75.5" width="15.68" height="998.2" fill="url(#ah3)"/></mask>
<linearGradient id="ar4" gradientUnits="userSpaceOnUse" x1="0" y1="80.5" x2="0" y2="1068.7"><stop offset="0" stop-color="#0007ff"/><stop offset="0.0339" stop-color="#0008ff"/><stop offset="0.0359" stop-color="#0015ff"/><stop offset="0.0385" stop-color="#0057fe"/><stop offset="0.0395" stop-color="#0063fe"/><stop offset="0.0425" stop-color="#0045ff"/><stop offset="0.0577" stop-color="#0053fe"/><stop offset="0.0683" stop-color="#004aff"/><stop offset="0.0708" stop-color="#0050fe"/><stop offset="0.0749" stop-color="#0066fd"/><stop offset="0.0779" stop-color="#0065fd"/><stop offset="0.0799" stop-color="#007afd"/><stop offset="0.081" stop-color="#0070fd"/><stop offset="0.083" stop-color="#002bff"/><stop offset="0.0845" stop-color="#000eff"/><stop offset="0.086" stop-color="#0008ff"/><stop offset="0.0921" stop-color="#0007ff"/><stop offset="0.0936" stop-color="#000dff"/><stop offset="0.0946" stop-color="#001bff"/><stop offset="0.0956" stop-color="#0039ff"/><stop offset="0.0971" stop-color="#0073fd"/><stop offset="0.0982" stop-color="#0082fc"/><stop offset="0.1007" stop-color="#0068fd"/><stop offset="0.1037" stop-color="#007afd"/><stop offset="0.1057" stop-color="#007cfc"/><stop offset="0.1138" stop-color="#0053fe"/><stop offset="0.1452" stop-color="#0007ff"/><stop offset="0.1528" stop-color="#000dff"/><stop offset="0.1543" stop-color="#0028ff"/><stop offset="0.1563" stop-color="#0073fd"/><stop offset="0.1574" stop-color="#0082fc"/><stop offset="0.1599" stop-color="#0068fd"/><stop offset="0.1639" stop-color="#007ffc"/><stop offset="0.168" stop-color="#007afd"/><stop offset="0.1705" stop-color="#0065fd"/><stop offset="0.1751" stop-color="#002dff"/><stop offset="0.1786" stop-color="#001dff"/><stop offset="0.1821" stop-color="#002cff"/><stop offset="0.1867" stop-color="#0065fd"/><stop offset="0.1887" stop-color="#0078fd"/><stop offset="0.1913" stop-color="#007dfc"/><stop offset="0.1953" stop-color="#0068fd"/><stop offset="0.1978" stop-color="#0082fc"/><stop offset="0.1988" stop-color="#0070fd"/><stop offset="0.2009" stop-color="#0026ff"/><stop offset="0.2019" stop-color="#0011ff"/><stop offset="0.2054" stop-color="#0007ff"/><stop offset="0.212" stop-color="#000eff"/><stop offset="0.2135" stop-color="#002aff"/><stop offset="0.2155" stop-color="#006ffd"/><stop offset="0.2166" stop-color="#007afd"/><stop offset="0.2191" stop-color="#006afd"/><stop offset="0.2221" stop-color="#007bfd"/><stop offset="0.2241" stop-color="#0079fd"/><stop offset="0.2262" stop-color="#006bfd"/><stop offset="0.2317" stop-color="#0032ff"/><stop offset="0.2358" stop-color="#001dff"/><stop offset="0.2424" stop-color="#0018ff"/><stop offset="0.252" stop-color="#0023ff"/><stop offset="0.257" stop-color="#001bff"/><stop offset="0.2606" stop-color="#0009ff"/><stop offset="0.2641" stop-color="#0007ff"/><stop offset="0.2707" stop-color="#000bff"/><stop offset="0.2722" stop-color="#001dff"/><stop offset="0.2747" stop-color="#0055fe"/><stop offset="0.2758" stop-color="#005bfe"/><stop offset="0.2803" stop-color="#005efe"/><stop offset="0.2879" stop-color="#003cff"/><stop offset="0.295" stop-color="#002eff"/><stop offset="0.3" stop-color="#002dff"/><stop offset="0.3051" stop-color="#0037ff"/><stop offset="0.3102" stop-color="#005dfe"/><stop offset="0.3132" stop-color="#0060fe"/><stop offset="0.3157" stop-color="#0079fd"/><stop offset="0.3167" stop-color="#0069fd"/><stop offset="0.3188" stop-color="#0023ff"/><stop offset="0.3198" stop-color="#0010ff"/><stop offset="0.3213" stop-color="#0008ff"/><stop offset="0.3274" stop-color="#0007ff"/><stop offset="0.3304" stop-color="#0013ff"/><stop offset="0.3314" stop-color="#0028ff"/><stop offset="0.3334" stop-color="#0063fe"/><stop offset="0.3344" stop-color="#006dfd"/><stop offset="0.3365" stop-color="#0065fd"/><stop offset="0.34" stop-color="#007cfc"/><stop offset="0.3425" stop-color="#007afd"/><stop offset="0.3466" stop-color="#0063fe"/><stop offset="0.3542" stop-color="#0025ff"/><stop offset="0.3592" stop-color="#0019ff"/><stop offset="0.3633" stop-color="#0029ff"/><stop offset="0.3689" stop-color="#0060fe"/><stop offset="0.3724" stop-color="#006bfd"/><stop offset="0.3744" stop-color="#0086fc"/><stop offset="0.3754" stop-color="#0079fd"/><stop offset="0.378" stop-color="#001eff"/><stop offset="0.379" stop-color="#000eff"/><stop offset="0.3805" stop-color="#0008ff"/><stop offset="0.3891" stop-color="#0009ff"/><stop offset="0.3931" stop-color="#0022ff"/><stop offset="0.4002" stop-color="#003cff"/><stop offset="0.4225" stop-color="#0042ff"/><stop offset="0.4291" stop-color="#0055fe"/><stop offset="0.4316" stop-color="#0064fe"/><stop offset="0.4326" stop-color="#0059fe"/><stop offset="0.4351" stop-color="#0018ff"/><stop offset="0.4372" stop-color="#0008ff"/><stop offset="0.4478" stop-color="#000aff"/><stop offset="0.4493" stop-color="#0017ff"/><stop offset="0.4523" stop-color="#0042ff"/><stop offset="0.4574" stop-color="#004efe"/><stop offset="0.4695" stop-color="#0018ff"/><stop offset="0.4751" stop-color="#0013ff"/><stop offset="0.4786" stop-color="#001fff"/><stop offset="0.4847" stop-color="#0063fe"/><stop offset="0.4888" stop-color="#006afd"/><stop offset="0.4908" stop-color="#0083fc"/><stop offset="0.4918" stop-color="#007afd"/><stop offset="0.4938" stop-color="#002fff"/><stop offset="0.4953" stop-color="#000fff"/><stop offset="0.4974" stop-color="#0007ff"/><stop offset="0.5039" stop-color="#0007ff"/><stop offset="0.506" stop-color="#000bff"/><stop offset="0.507" stop-color="#0016ff"/><stop offset="0.508" stop-color="#0030ff"/><stop offset="0.51" stop-color="#007cfc"/><stop offset="0.511" stop-color="#0086fc"/><stop offset="0.5136" stop-color="#006cfd"/><stop offset="0.5176" stop-color="#0080fc"/><stop offset="0.5227" stop-color="#007afd"/><stop offset="0.5252" stop-color="#0069fd"/><stop offset="0.5313" stop-color="#002fff"/><stop offset="0.5348" stop-color="#0020ff"/><stop offset="0.5384" stop-color="#002fff"/><stop offset="0.5439" stop-color="#0070fd"/><stop offset="0.5475" stop-color="#006afd"/><stop offset="0.55" stop-color="#0085fc"/><stop offset="0.5505" stop-color="#0084fc"/><stop offset="0.5515" stop-color="#006bfd"/><stop offset="0.553" stop-color="#0030ff"/><stop offset="0.554" stop-color="#0016ff"/><stop offset="0.5556" stop-color="#0009ff"/><stop offset="0.5576" stop-color="#0007ff"/><stop offset="0.5652" stop-color="#000dff"/><stop offset="0.5667" stop-color="#0027ff"/><stop offset="0.5687" stop-color="#0071fd"/><stop offset="0.5697" stop-color="#0080fc"/><stop offset="0.5723" stop-color="#0067fd"/><stop offset="0.5758" stop-color="#007dfc"/><stop offset="0.5788" stop-color="#0080fc"/><stop offset="0.5884" stop-color="#0057fe"/><stop offset="0.5955" stop-color="#004cff"/><stop offset="0.5986" stop-color="#0052fe"/><stop offset="0.6031" stop-color="#0070fd"/><stop offset="0.6062" stop-color="#006bfd"/><stop offset="0.6087" stop-color="#0081fc"/><stop offset="0.6097" stop-color="#0072fd"/><stop offset="0.6117" stop-color="#0028ff"/><stop offset="0.6132" stop-color="#000dff"/><stop offset="0.6218" stop-color="#0007ff"/><stop offset="0.6239" stop-color="#0009ff"/><stop offset="0.6254" stop-color="#0018ff"/><stop offset="0.6279" stop-color="#0062fe"/><stop offset="0.6289" stop-color="#0071fd"/><stop offset="0.6315" stop-color="#0064fe"/><stop offset="0.635" stop-color="#007cfc"/><stop offset="0.6375" stop-color="#007cfc"/><stop offset="0.6401" stop-color="#006bfd"/><stop offset="0.6456" stop-color="#002eff"/><stop offset="0.6487" stop-color="#0022ff"/><stop offset="0.6522" stop-color="#0030ff"/><stop offset="0.6593" stop-color="#0078fd"/><stop offset="0.6613" stop-color="#007cfc"/><stop offset="0.6648" stop-color="#006cfd"/><stop offset="0.6674" stop-color="#0087fc"/><stop offset="0.6684" stop-color="#007afd"/><stop offset="0.6704" stop-color="#002dff"/><stop offset="0.6714" stop-color="#0014ff"/><stop offset="0.674" stop-color="#0007ff"/><stop offset="0.6831" stop-color="#0009ff"/><stop offset="0.6846" stop-color="#0015ff"/><stop offset="0.6876" stop-color="#0046ff"/><stop offset="0.6927" stop-color="#0051fe"/><stop offset="0.7003" stop-color="#002cff"/><stop offset="0.7043" stop-color="#0021ff"/><stop offset="0.722" stop-color="#001eff"/><stop offset="0.7266" stop-color="#001aff"/><stop offset="0.7311" stop-color="#0008ff"/><stop offset="0.7407" stop-color="#0008ff"/><stop offset="0.7428" stop-color="#0018ff"/><stop offset="0.7438" stop-color="#0031ff"/><stop offset="0.7453" stop-color="#0067fd"/><stop offset="0.7463" stop-color="#0078fd"/><stop offset="0.7488" stop-color="#0067fd"/><stop offset="0.7534" stop-color="#007efc"/><stop offset="0.7564" stop-color="#0074fd"/><stop offset="0.7655" stop-color="#0033ff"/><stop offset="0.7701" stop-color="#0024ff"/><stop offset="0.7731" stop-color="#0034ff"/><stop offset="0.7782" stop-color="#0073fd"/><stop offset="0.7797" stop-color="#0078fd"/><stop offset="0.7827" stop-color="#006afd"/><stop offset="0.7853" stop-color="#0085fc"/><stop offset="0.7863" stop-color="#007bfd"/><stop offset="0.7888" stop-color="#0021ff"/><stop offset="0.7898" stop-color="#000fff"/><stop offset="0.7908" stop-color="#0009ff"/><stop offset="0.8004" stop-color="#000cff"/><stop offset="0.802" stop-color="#0023ff"/><stop offset="0.804" stop-color="#006ffd"/><stop offset="0.805" stop-color="#0084fc"/><stop offset="0.808" stop-color="#006bfd"/><stop offset="0.8116" stop-color="#007ffc"/><stop offset="0.8156" stop-color="#007afd"/><stop offset="0.8182" stop-color="#0067fd"/><stop offset="0.8237" stop-color="#0026ff"/><stop offset="0.8257" stop-color="#001bff"/><stop offset="0.8288" stop-color="#0017ff"/><stop offset="0.8323" stop-color="#0023ff"/><stop offset="0.8384" stop-color="#0066fd"/><stop offset="0.8419" stop-color="#006afd"/><stop offset="0.8445" stop-color="#0086fc"/><stop offset="0.8455" stop-color="#0079fd"/><stop offset="0.848" stop-color="#001eff"/><stop offset="0.849" stop-color="#000eff"/><stop offset="0.8505" stop-color="#0008ff"/><stop offset="0.8591" stop-color="#0007ff"/><stop offset="0.8642" stop-color="#001aff"/><stop offset="0.8794" stop-color="#0020ff"/><stop offset="0.887" stop-color="#0040ff"/><stop offset="0.8956" stop-color="#0079fd"/><stop offset="0.8976" stop-color="#007afd"/><stop offset="0.9006" stop-color="#0069fd"/><stop offset="0.9037" stop-color="#0083fc"/><stop offset="0.9047" stop-color="#006efd"/><stop offset="0.9062" stop-color="#0033ff"/><stop offset="0.9072" stop-color="#0018ff"/><stop offset="0.9092" stop-color="#0008ff"/><stop offset="0.9183" stop-color="#000aff"/><stop offset="0.9199" stop-color="#0019ff"/><stop offset="0.9229" stop-color="#006bfd"/><stop offset="0.9239" stop-color="#006ffd"/><stop offset="0.9259" stop-color="#0068fd"/><stop offset="0.9295" stop-color="#0078fd"/><stop offset="0.9462" stop-color="#0066fd"/><stop offset="0.9568" stop-color="#006cfd"/><stop offset="0.9598" stop-color="#005dfe"/><stop offset="0.9618" stop-color="#005efe"/><stop offset="0.9629" stop-color="#0054fe"/><stop offset="0.9654" stop-color="#0019ff"/><stop offset="0.9674" stop-color="#0008ff"/><stop offset="0.9998" stop-color="#0007ff"/></linearGradient>
<linearGradient id="ah4" gradientUnits="userSpaceOnUse" x1="321.00" y1="0" x2="329.42" y2="0"><stop offset="0" stop-color="#fff" stop-opacity="0"/><stop offset="1" stop-color="#fff" stop-opacity="1"/></linearGradient>
<mask id="am4" maskUnits="userSpaceOnUse" x="320.00" y="75.5" width="23.88" height="998.2"><rect x="320.00" y="75.5" width="23.88" height="998.2" fill="url(#ah4)"/></mask>
<linearGradient id="ar5" gradientUnits="userSpaceOnUse" x1="0" y1="80.5" x2="0" y2="1068.7"><stop offset="0" stop-color="#000cff"/><stop offset="0.0329" stop-color="#000dff"/><stop offset="0.0359" stop-color="#0018ff"/><stop offset="0.039" stop-color="#003dff"/><stop offset="0.0405" stop-color="#0046ff"/><stop offset="0.044" stop-color="#0042ff"/><stop offset="0.0582" stop-color="#0052fe"/><stop offset="0.0683" stop-color="#004efe"/><stop offset="0.0794" stop-color="#005bfe"/><stop offset="0.0815" stop-color="#0052fe"/><stop offset="0.0845" stop-color="#0023ff"/><stop offset="0.086" stop-color="#0014ff"/><stop offset="0.0916" stop-color="#000dff"/><stop offset="0.0946" stop-color="#001dff"/><stop offset="0.0987" stop-color="#005cfe"/><stop offset="0.1068" stop-color="#0071fd"/><stop offset="0.1154" stop-color="#0052fe"/><stop offset="0.1427" stop-color="#0010ff"/><stop offset="0.1503" stop-color="#000dff"/><stop offset="0.1533" stop-color="#0018ff"/><stop offset="0.1569" stop-color="#0050fe"/><stop offset="0.1584" stop-color="#0060fe"/><stop offset="0.1665" stop-color="#0076fd"/><stop offset="0.1695" stop-color="#006cfd"/><stop offset="0.1761" stop-color="#0034ff"/><stop offset="0.1791" stop-color="#0028ff"/><stop offset="0.1821" stop-color="#0031ff"/><stop offset="0.1877" stop-color="#0061fe"/><stop offset="0.1902" stop-color="#006ffd"/><stop offset="0.1978" stop-color="#0060fe"/><stop offset="0.1994" stop-color="#0053fe"/><stop offset="0.2029" stop-color="#001aff"/><stop offset="0.2069" stop-color="#000cff"/><stop offset="0.212" stop-color="#0015ff"/><stop offset="0.2135" stop-color="#0025ff"/><stop offset="0.216" stop-color="#004ffe"/><stop offset="0.2176" stop-color="#005efe"/><stop offset="0.2241" stop-color="#006efd"/><stop offset="0.2267" stop-color="#0065fd"/><stop offset="0.2343" stop-color="#002dff"/><stop offset="0.2398" stop-color="#001eff"/><stop offset="0.252" stop-color="#0023ff"/><stop offset="0.2626" stop-color="#000dff"/><stop offset="0.2682" stop-color="#000dff"/><stop offset="0.2717" stop-color="#0019ff"/><stop offset="0.2763" stop-color="#0049ff"/><stop offset="0.2793" stop-color="#0051fe"/><stop offset="0.2823" stop-color="#0052fe"/><stop offset="0.2909" stop-color="#0039ff"/><stop offset="0.299" stop-color="#0030ff"/><stop offset="0.3036" stop-color="#0035ff"/><stop offset="0.3097" stop-color="#004efe"/><stop offset="0.3152" stop-color="#0058fe"/><stop offset="0.3172" stop-color="#004efe"/><stop offset="0.3213" stop-color="#0015ff"/><stop offset="0.3274" stop-color="#000dff"/><stop offset="0.3304" stop-color="#0018ff"/><stop offset="0.3355" stop-color="#0058fe"/><stop offset="0.3425" stop-color="#0072fd"/><stop offset="0.3466" stop-color="#0064fe"/><stop offset="0.3547" stop-color="#002dff"/><stop offset="0.3587" stop-color="#0021ff"/><stop offset="0.3628" stop-color="#0029ff"/><stop offset="0.3694" stop-color="#0052fe"/><stop offset="0.3749" stop-color="#005ffe"/><stop offset="0.3764" stop-color="#0050fe"/><stop offset="0.38" stop-color="#0018ff"/><stop offset="0.3845" stop-color="#000cff"/><stop offset="0.3896" stop-color="#0010ff"/><stop offset="0.4028" stop-color="#003eff"/><stop offset="0.4311" stop-color="#004dff"/><stop offset="0.4331" stop-color="#0044ff"/><stop offset="0.4372" stop-color="#0015ff"/><stop offset="0.4397" stop-color="#000dff"/><stop offset="0.4473" stop-color="#000fff"/><stop offset="0.4533" stop-color="#003aff"/><stop offset="0.4589" stop-color="#0047ff"/><stop offset="0.4706" stop-color="#001eff"/><stop offset="0.4746" stop-color="#0019ff"/><stop offset="0.4786" stop-color="#0024ff"/><stop offset="0.4852" stop-color="#0054fe"/><stop offset="0.4908" stop-color="#0060fe"/><stop offset="0.4923" stop-color="#0058fe"/><stop offset="0.4953" stop-color="#0025ff"/><stop offset="0.4969" stop-color="#0014ff"/><stop offset="0.5024" stop-color="#000cff"/><stop offset="0.5055" stop-color="#0010ff"/><stop offset="0.507" stop-color="#001aff"/><stop offset="0.5115" stop-color="#0061fe"/><stop offset="0.5201" stop-color="#0079fd"/><stop offset="0.5242" stop-color="#006ffd"/><stop offset="0.5313" stop-color="#003aff"/><stop offset="0.5348" stop-color="#002bff"/><stop offset="0.5378" stop-color="#0031ff"/><stop offset="0.5444" stop-color="#005ffe"/><stop offset="0.5505" stop-color="#0061fe"/><stop offset="0.552" stop-color="#0052fe"/><stop offset="0.5556" stop-color="#0018ff"/><stop offset="0.5596" stop-color="#000cff"/><stop offset="0.5652" stop-color="#0013ff"/><stop offset="0.5667" stop-color="#0023ff"/><stop offset="0.5702" stop-color="#005bfe"/><stop offset="0.5793" stop-color="#0078fd"/><stop offset="0.594" stop-color="#004ffe"/><stop offset="0.5976" stop-color="#0051fe"/><stop offset="0.6031" stop-color="#0062fe"/><stop offset="0.6087" stop-color="#0061fe"/><stop offset="0.6102" stop-color="#0055fe"/><stop offset="0.6142" stop-color="#0017ff"/><stop offset="0.6183" stop-color="#000cff"/><stop offset="0.6244" stop-color="#0013ff"/><stop offset="0.6259" stop-color="#0020ff"/><stop offset="0.6299" stop-color="#0057fe"/><stop offset="0.637" stop-color="#0072fd"/><stop offset="0.6395" stop-color="#006bfd"/><stop offset="0.6461" stop-color="#0038ff"/><stop offset="0.6492" stop-color="#002dff"/><stop offset="0.6527" stop-color="#0037ff"/><stop offset="0.6603" stop-color="#006dfd"/><stop offset="0.6674" stop-color="#0064fe"/><stop offset="0.6689" stop-color="#0059fe"/><stop offset="0.6729" stop-color="#0018ff"/><stop offset="0.676" stop-color="#000dff"/><stop offset="0.6831" stop-color="#0010ff"/><stop offset="0.6886" stop-color="#003cff"/><stop offset="0.6937" stop-color="#0047ff"/><stop offset="0.7063" stop-color="#0023ff"/><stop offset="0.7225" stop-color="#001fff"/><stop offset="0.7326" stop-color="#000dff"/><stop offset="0.7392" stop-color="#000cff"/><stop offset="0.7428" stop-color="#001bff"/><stop offset="0.7473" stop-color="#005bfe"/><stop offset="0.7549" stop-color="#0072fd"/><stop offset="0.7579" stop-color="#0069fd"/><stop offset="0.766" stop-color="#0038ff"/><stop offset="0.7696" stop-color="#002eff"/><stop offset="0.7726" stop-color="#0035ff"/><stop offset="0.7792" stop-color="#0065fd"/><stop offset="0.7853" stop-color="#0063fe"/><stop offset="0.7868" stop-color="#0059fe"/><stop offset="0.7898" stop-color="#0025ff"/><stop offset="0.7913" stop-color="#0014ff"/><stop offset="0.7979" stop-color="#000cff"/><stop offset="0.8015" stop-color="#001bff"/><stop offset="0.805" stop-color="#0056fe"/><stop offset="0.806" stop-color="#0061fe"/><stop offset="0.8141" stop-color="#0076fd"/><stop offset="0.8176" stop-color="#0069fd"/><stop offset="0.8247" stop-color="#002dff"/><stop offset="0.8283" stop-color="#0020ff"/><stop offset="0.8323" stop-color="#0028ff"/><stop offset="0.8389" stop-color="#0057fe"/><stop offset="0.845" stop-color="#0061fe"/><stop offset="0.846" stop-color="#0058fe"/><stop offset="0.85" stop-color="#0018ff"/><stop offset="0.8536" stop-color="#000cff"/><stop offset="0.8799" stop-color="#0024ff"/><stop offset="0.8849" stop-color="#0036ff"/><stop offset="0.894" stop-color="#0067fd"/><stop offset="0.8966" stop-color="#006ffd"/><stop offset="0.9042" stop-color="#005efe"/><stop offset="0.9082" stop-color="#001fff"/><stop offset="0.9097" stop-color="#0012ff"/><stop offset="0.9168" stop-color="#000dff"/><stop offset="0.9199" stop-color="#001cff"/><stop offset="0.9244" stop-color="#0058fe"/><stop offset="0.9325" stop-color="#0070fd"/><stop offset="0.9568" stop-color="#0063fe"/><stop offset="0.9624" stop-color="#004dff"/><stop offset="0.9669" stop-color="#001aff"/><stop offset="0.9694" stop-color="#000eff"/><stop offset="0.9998" stop-color="#000cff"/></linearGradient>
<linearGradient id="ah5" gradientUnits="userSpaceOnUse" x1="329.42" y1="0" x2="342.88" y2="0"><stop offset="0" stop-color="#fff" stop-opacity="0"/><stop offset="1" stop-color="#fff" stop-opacity="1"/></linearGradient>
<mask id="am5" maskUnits="userSpaceOnUse" x="328.42" y="75.5" width="37.01" height="998.2"><rect x="328.42" y="75.5" width="37.01" height="998.2" fill="url(#ah5)"/></mask>
<linearGradient id="ar6" gradientUnits="userSpaceOnUse" x1="0" y1="80.5" x2="0" y2="1068.7"><stop offset="0" stop-color="#000fff"/><stop offset="0.0319" stop-color="#0010ff"/><stop offset="0.0354" stop-color="#0017ff"/><stop offset="0.042" stop-color="#0034ff"/><stop offset="0.0511" stop-color="#0045ff"/><stop offset="0.0724" stop-color="#004dff"/><stop offset="0.0804" stop-color="#0043ff"/><stop offset="0.0875" stop-color="#001cff"/><stop offset="0.0916" stop-color="#0015ff"/><stop offset="0.0946" stop-color="#001eff"/><stop offset="0.1017" stop-color="#004cff"/><stop offset="0.1093" stop-color="#005dfe"/><stop offset="0.1422" stop-color="#0017ff"/><stop offset="0.1493" stop-color="#0011ff"/><stop offset="0.1533" stop-color="#001bff"/><stop offset="0.1609" stop-color="#004dff"/><stop offset="0.1675" stop-color="#005ffe"/><stop offset="0.1705" stop-color="#005afe"/><stop offset="0.1771" stop-color="#003cff"/><stop offset="0.1801" stop-color="#0036ff"/><stop offset="0.1832" stop-color="#003aff"/><stop offset="0.1902" stop-color="#0056fe"/><stop offset="0.1943" stop-color="#0055fe"/><stop offset="0.1988" stop-color="#0047ff"/><stop offset="0.2054" stop-color="#001bff"/><stop offset="0.2085" stop-color="#0014ff"/><stop offset="0.2125" stop-color="#001cff"/><stop offset="0.2201" stop-color="#004cff"/><stop offset="0.2252" stop-color="#0057fe"/><stop offset="0.2287" stop-color="#0051fe"/><stop offset="0.2398" stop-color="#0024ff"/><stop offset="0.254" stop-color="#001fff"/><stop offset="0.2646" stop-color="#0012ff"/><stop offset="0.2702" stop-color="#0016ff"/><stop offset="0.2783" stop-color="#003cff"/><stop offset="0.2838" stop-color="#0044ff"/><stop offset="0.2985" stop-color="#0032ff"/><stop offset="0.3152" stop-color="#0040ff"/><stop offset="0.3177" stop-color="#0039ff"/><stop offset="0.3233" stop-color="#001aff"/><stop offset="0.3269" stop-color="#0014ff"/><stop offset="0.3309" stop-color="#001eff"/><stop offset="0.339" stop-color="#0050fe"/><stop offset="0.3446" stop-color="#005dfe"/><stop offset="0.3592" stop-color="#002aff"/><stop offset="0.3704" stop-color="#0040ff"/><stop offset="0.3749" stop-color="#0042ff"/><stop offset="0.3825" stop-color="#0019ff"/><stop offset="0.3861" stop-color="#0012ff"/><stop offset="0.3906" stop-color="#0016ff"/><stop offset="0.4033" stop-color="#0038ff"/><stop offset="0.4098" stop-color="#003fff"/><stop offset="0.4301" stop-color="#003eff"/><stop offset="0.4336" stop-color="#0035ff"/><stop offset="0.4397" stop-color="#0017ff"/><stop offset="0.4442" stop-color="#0011ff"/><stop offset="0.4483" stop-color="#0017ff"/><stop offset="0.4589" stop-color="#0039ff"/><stop offset="0.463" stop-color="#0039ff"/><stop offset="0.4751" stop-color="#0021ff"/><stop offset="0.4857" stop-color="#0040ff"/><stop offset="0.4898" stop-color="#0045ff"/><stop offset="0.4933" stop-color="#003cff"/><stop offset="0.4994" stop-color="#0018ff"/><stop offset="0.5029" stop-color="#0013ff"/><stop offset="0.507" stop-color="#001dff"/><stop offset="0.5146" stop-color="#0051fe"/><stop offset="0.5222" stop-color="#0065fd"/><stop offset="0.5252" stop-color="#0060fe"/><stop offset="0.5353" stop-color="#0037ff"/><stop offset="0.5454" stop-color="#004aff"/><stop offset="0.55" stop-color="#0048ff"/><stop offset="0.5581" stop-color="#001aff"/><stop offset="0.5621" stop-color="#0013ff"/><stop offset="0.5662" stop-color="#001dff"/><stop offset="0.5738" stop-color="#0050fe"/><stop offset="0.5819" stop-color="#0066fd"/><stop offset="0.5935" stop-color="#0051fe"/><stop offset="0.6077" stop-color="#004cff"/><stop offset="0.6107" stop-color="#0040ff"/><stop offset="0.6163" stop-color="#001cff"/><stop offset="0.6203" stop-color="#0012ff"/><stop offset="0.6244" stop-color="#0018ff"/><stop offset="0.6325" stop-color="#004aff"/><stop offset="0.6385" stop-color="#005afe"/><stop offset="0.6502" stop-color="#0038ff"/><stop offset="0.6532" stop-color="#003cff"/><stop offset="0.6603" stop-color="#0055fe"/><stop offset="0.6648" stop-color="#0054fe"/><stop offset="0.6689" stop-color="#0047ff"/><stop offset="0.6755" stop-color="#001aff"/><stop offset="0.679" stop-color="#0012ff"/><stop offset="0.6831" stop-color="#0015ff"/><stop offset="0.6906" stop-color="#0033ff"/><stop offset="0.6957" stop-color="#003aff"/><stop offset="0.7094" stop-color="#0023ff"/><stop offset="0.7377" stop-color="#0011ff"/><stop offset="0.7423" stop-color="#001aff"/><stop offset="0.7504" stop-color="#004dff"/><stop offset="0.7564" stop-color="#005dfe"/><stop offset="0.7696" stop-color="#0038ff"/><stop offset="0.7797" stop-color="#004efe"/><stop offset="0.7843" stop-color="#004dff"/><stop offset="0.7873" stop-color="#0043ff"/><stop offset="0.7934" stop-color="#001aff"/><stop offset="0.7974" stop-color="#0013ff"/><stop offset="0.8015" stop-color="#001dff"/><stop offset="0.8085" stop-color="#004efe"/><stop offset="0.8151" stop-color="#0060fe"/><stop offset="0.8187" stop-color="#0059fe"/><stop offset="0.8257" stop-color="#0034ff"/><stop offset="0.8293" stop-color="#002bff"/><stop offset="0.8404" stop-color="#0044ff"/><stop offset="0.845" stop-color="#0045ff"/><stop offset="0.8526" stop-color="#0019ff"/><stop offset="0.8581" stop-color="#0010ff"/><stop offset="0.8799" stop-color="#0025ff"/><stop offset="0.894" stop-color="#0056fe"/><stop offset="0.8981" stop-color="#0059fe"/><stop offset="0.9037" stop-color="#004cff"/><stop offset="0.9107" stop-color="#001dff"/><stop offset="0.9153" stop-color="#0013ff"/><stop offset="0.9193" stop-color="#001bff"/><stop offset="0.9295" stop-color="#0056fe"/><stop offset="0.9371" stop-color="#0064fe"/><stop offset="0.9563" stop-color="#0058fe"/><stop offset="0.9629" stop-color="#0040ff"/><stop offset="0.9694" stop-color="#001aff"/><stop offset="0.973" stop-color="#0011ff"/><stop offset="0.9998" stop-color="#000fff"/></linearGradient>
<linearGradient id="ah6" gradientUnits="userSpaceOnUse" x1="342.88" y1="0" x2="364.43" y2="0"><stop offset="0" stop-color="#fff" stop-opacity="0"/><stop offset="1" stop-color="#fff" stop-opacity="1"/></linearGradient>
<mask id="am6" maskUnits="userSpaceOnUse" x="341.88" y="75.5" width="58.02" height="998.2"><rect x="341.88" y="75.5" width="58.02" height="998.2" fill="url(#ah6)"/></mask>
<linearGradient id="ar7" gradientUnits="userSpaceOnUse" x1="0" y1="80.5" x2="0" y2="1068.7"><stop offset="0" stop-color="#000fff"/><stop offset="0.0314" stop-color="#0012ff"/><stop offset="0.0526" stop-color="#0038ff"/><stop offset="0.0638" stop-color="#0041ff"/><stop offset="0.0754" stop-color="#003cff"/><stop offset="0.0931" stop-color="#0020ff"/><stop offset="0.1068" stop-color="#0040ff"/><stop offset="0.1133" stop-color="#0046ff"/><stop offset="0.1477" stop-color="#0017ff"/><stop offset="0.1533" stop-color="#001cff"/><stop offset="0.1639" stop-color="#003bff"/><stop offset="0.1705" stop-color="#0043ff"/><stop offset="0.1816" stop-color="#003bff"/><stop offset="0.1948" stop-color="#003dff"/><stop offset="0.2105" stop-color="#001fff"/><stop offset="0.2236" stop-color="#0039ff"/><stop offset="0.2292" stop-color="#003cff"/><stop offset="0.2454" stop-color="#0021ff"/><stop offset="0.2646" stop-color="#0016ff"/><stop offset="0.2879" stop-color="#0034ff"/><stop offset="0.3132" stop-color="#0030ff"/><stop offset="0.3289" stop-color="#001eff"/><stop offset="0.3415" stop-color="#003cff"/><stop offset="0.3471" stop-color="#0042ff"/><stop offset="0.3613" stop-color="#002fff"/><stop offset="0.3759" stop-color="#002dff"/><stop offset="0.3881" stop-color="#0019ff"/><stop offset="0.4093" stop-color="#0033ff"/><stop offset="0.4194" stop-color="#0038ff"/><stop offset="0.4291" stop-color="#0032ff"/><stop offset="0.4458" stop-color="#0019ff"/><stop offset="0.4614" stop-color="#002aff"/><stop offset="0.4761" stop-color="#0026ff"/><stop offset="0.4888" stop-color="#002eff"/><stop offset="0.505" stop-color="#001dff"/><stop offset="0.5191" stop-color="#0042ff"/><stop offset="0.5247" stop-color="#0049ff"/><stop offset="0.55" stop-color="#0033ff"/><stop offset="0.5631" stop-color="#001dff"/><stop offset="0.5677" stop-color="#0023ff"/><stop offset="0.5803" stop-color="#0048ff"/><stop offset="0.5869" stop-color="#004efe"/><stop offset="0.6051" stop-color="#003fff"/><stop offset="0.6218" stop-color="#001dff"/><stop offset="0.6264" stop-color="#0021ff"/><stop offset="0.637" stop-color="#003cff"/><stop offset="0.6426" stop-color="#0040ff"/><stop offset="0.6654" stop-color="#003dff"/><stop offset="0.6815" stop-color="#001aff"/><stop offset="0.6998" stop-color="#002bff"/><stop offset="0.7367" stop-color="#0015ff"/><stop offset="0.7428" stop-color="#001dff"/><stop offset="0.7544" stop-color="#003dff"/><stop offset="0.76" stop-color="#0043ff"/><stop offset="0.7837" stop-color="#0038ff"/><stop offset="0.7989" stop-color="#001eff"/><stop offset="0.8176" stop-color="#0043ff"/><stop offset="0.8313" stop-color="#0031ff"/><stop offset="0.8455" stop-color="#002fff"/><stop offset="0.8566" stop-color="#0019ff"/><stop offset="0.8632" stop-color="#0014ff"/><stop offset="0.8774" stop-color="#001fff"/><stop offset="0.8971" stop-color="#0040ff"/><stop offset="0.9032" stop-color="#003bff"/><stop offset="0.9138" stop-color="#0020ff"/><stop offset="0.9183" stop-color="#001eff"/><stop offset="0.935" stop-color="#004bff"/><stop offset="0.9441" stop-color="#0053fe"/><stop offset="0.9563" stop-color="#0048ff"/><stop offset="0.9765" stop-color="#0014ff"/><stop offset="0.9998" stop-color="#000fff"/></linearGradient>
<linearGradient id="ah7" gradientUnits="userSpaceOnUse" x1="364.43" y1="0" x2="398.90" y2="0"><stop offset="0" stop-color="#fff" stop-opacity="0"/><stop offset="1" stop-color="#fff" stop-opacity="1"/></linearGradient>
<mask id="am7" maskUnits="userSpaceOnUse" x="363.43" y="75.5" width="91.63" height="998.2"><rect x="363.43" y="75.5" width="91.63" height="998.2" fill="url(#ah7)"/></mask>
<linearGradient id="ar8" gradientUnits="userSpaceOnUse" x1="0" y1="80.5" x2="0" y2="1068.7"><stop offset="0" stop-color="#000fff"/><stop offset="0.0304" stop-color="#0012ff"/><stop offset="0.0673" stop-color="#0031ff"/><stop offset="0.0941" stop-color="#0025ff"/><stop offset="0.1204" stop-color="#0030ff"/><stop offset="0.1488" stop-color="#001dff"/><stop offset="0.1842" stop-color="#0031ff"/><stop offset="0.2115" stop-color="#0024ff"/><stop offset="0.2348" stop-color="#0028ff"/><stop offset="0.2646" stop-color="#0018ff"/><stop offset="0.294" stop-color="#0027ff"/><stop offset="0.3284" stop-color="#0022ff"/><stop offset="0.3522" stop-color="#002dff"/><stop offset="0.3911" stop-color="#001dff"/><stop offset="0.4205" stop-color="#002aff"/><stop offset="0.4493" stop-color="#001cff"/><stop offset="0.5034" stop-color="#0021ff"/><stop offset="0.5313" stop-color="#0032ff"/><stop offset="0.5642" stop-color="#0023ff"/><stop offset="0.5935" stop-color="#0038ff"/><stop offset="0.6244" stop-color="#0023ff"/><stop offset="0.6557" stop-color="#0030ff"/><stop offset="0.6851" stop-color="#001fff"/><stop offset="0.7337" stop-color="#0018ff"/><stop offset="0.7701" stop-color="#0030ff"/><stop offset="0.7994" stop-color="#0023ff"/><stop offset="0.8278" stop-color="#002dff"/><stop offset="0.8677" stop-color="#0018ff"/><stop offset="0.8976" stop-color="#002bff"/><stop offset="0.9219" stop-color="#0025ff"/><stop offset="0.9482" stop-color="#003bff"/><stop offset="0.9583" stop-color="#0035ff"/><stop offset="0.9821" stop-color="#0015ff"/><stop offset="0.9998" stop-color="#000fff"/></linearGradient>
<linearGradient id="ah8" gradientUnits="userSpaceOnUse" x1="398.90" y1="0" x2="454.05" y2="0"><stop offset="0" stop-color="#fff" stop-opacity="0"/><stop offset="1" stop-color="#fff" stop-opacity="1"/></linearGradient>
<mask id="am8" maskUnits="userSpaceOnUse" x="397.90" y="75.5" width="145.40" height="998.2"><rect x="397.90" y="75.5" width="145.40" height="998.2" fill="url(#ah8)"/></mask>
<linearGradient id="ar9" gradientUnits="userSpaceOnUse" x1="0" y1="80.5" x2="0" y2="1068.7"><stop offset="0" stop-color="#000fff"/><stop offset="0.0774" stop-color="#0021ff"/><stop offset="0.464" stop-color="#001aff"/><stop offset="0.5991" stop-color="#0024ff"/><stop offset="0.7286" stop-color="#0017ff"/><stop offset="0.7787" stop-color="#0021ff"/><stop offset="0.8748" stop-color="#0019ff"/><stop offset="0.9497" stop-color="#0025ff"/><stop offset="0.9998" stop-color="#0011ff"/></linearGradient>
<linearGradient id="ah9" gradientUnits="userSpaceOnUse" x1="454.05" y1="0" x2="542.30" y2="0"><stop offset="0" stop-color="#fff" stop-opacity="0"/><stop offset="1" stop-color="#fff" stop-opacity="1"/></linearGradient>
<mask id="am9" maskUnits="userSpaceOnUse" x="453.05" y="75.5" width="94.25" height="998.2"><rect x="453.05" y="75.5" width="94.25" height="998.2" fill="url(#ah9)"/></mask>
<clipPath id="clipa"><rect x="184.0" y="80.0" width="358.29999999999995" height="988.7"/></clipPath>
<linearGradient id="acb" x1="0" y1="0" x2="0" y2="1"><stop offset="0.000" stop-color="#ff0806"/><stop offset="0.100" stop-color="#ff582a"/><stop offset="0.200" stop-color="#ffa34e"/><stop offset="0.300" stop-color="#ffe078"/><stop offset="0.360" stop-color="#f6f68c"/><stop offset="0.400" stop-color="#c6ff96"/><stop offset="0.500" stop-color="#74ffc0"/><stop offset="0.600" stop-color="#20f7dd"/><stop offset="0.650" stop-color="#06e4ea"/><stop offset="0.700" stop-color="#00c8f2"/><stop offset="0.800" stop-color="#0087fc"/><stop offset="0.900" stop-color="#0042ff"/><stop offset="1.000" stop-color="#0000ff"/></linearGradient>
<linearGradient id="bw" gradientUnits="userSpaceOnUse" x1="0" y1="80.5" x2="0" y2="1068.7"><stop offset="0" stop-color="#0057fe"/><stop offset="0.0192" stop-color="#005efe"/><stop offset="0.0278" stop-color="#0069fd"/><stop offset="0.0405" stop-color="#0040ff"/><stop offset="0.042" stop-color="#0037ff"/><stop offset="0.0445" stop-color="#0018ff"/><stop offset="0.0455" stop-color="#0012ff"/><stop offset="0.0683" stop-color="#0011ff"/><stop offset="0.0698" stop-color="#0013ff"/><stop offset="0.0713" stop-color="#001eff"/><stop offset="0.0734" stop-color="#003aff"/><stop offset="0.0759" stop-color="#0069fd"/><stop offset="0.0774" stop-color="#0076fd"/><stop offset="0.0901" stop-color="#0078fd"/><stop offset="0.0926" stop-color="#0071fd"/><stop offset="0.1002" stop-color="#0040ff"/><stop offset="0.1052" stop-color="#0013ff"/><stop offset="0.1209" stop-color="#0011ff"/><stop offset="0.126" stop-color="#0027ff"/><stop offset="0.1295" stop-color="#0044ff"/><stop offset="0.131" stop-color="#005dfe"/><stop offset="0.1331" stop-color="#00a4f7"/><stop offset="0.1341" stop-color="#00bcf4"/><stop offset="0.1361" stop-color="#01cdf1"/><stop offset="0.1386" stop-color="#03d6ee"/><stop offset="0.1422" stop-color="#01ccf1"/><stop offset="0.1437" stop-color="#00c2f3"/><stop offset="0.1493" stop-color="#006bfd"/><stop offset="0.1528" stop-color="#0045ff"/><stop offset="0.1614" stop-color="#0035ff"/><stop offset="0.171" stop-color="#000dff"/><stop offset="0.1791" stop-color="#000bff"/><stop offset="0.1816" stop-color="#001aff"/><stop offset="0.1847" stop-color="#0048ff"/><stop offset="0.1882" stop-color="#00a1f8"/><stop offset="0.1897" stop-color="#02d2ef"/><stop offset="0.1902" stop-color="#06e2eb"/><stop offset="0.1913" stop-color="#1ef5de"/><stop offset="0.1923" stop-color="#35f9d6"/><stop offset="0.1933" stop-color="#41fad2"/><stop offset="0.1953" stop-color="#50fccc"/><stop offset="0.1968" stop-color="#51fccc"/><stop offset="0.2009" stop-color="#3cfad3"/><stop offset="0.2024" stop-color="#1ef6de"/><stop offset="0.2029" stop-color="#14eee3"/><stop offset="0.2034" stop-color="#07e5e9"/><stop offset="0.2044" stop-color="#00caf2"/><stop offset="0.2085" stop-color="#0049ff"/><stop offset="0.21" stop-color="#0031ff"/><stop offset="0.2115" stop-color="#002dff"/><stop offset="0.2125" stop-color="#0036ff"/><stop offset="0.2135" stop-color="#0050fe"/><stop offset="0.215" stop-color="#008bfb"/><stop offset="0.216" stop-color="#00a5f7"/><stop offset="0.2181" stop-color="#00c4f3"/><stop offset="0.2191" stop-color="#00c9f2"/><stop offset="0.2201" stop-color="#00c3f3"/><stop offset="0.2216" stop-color="#00adf6"/><stop offset="0.2267" stop-color="#0044ff"/><stop offset="0.2282" stop-color="#0030ff"/><stop offset="0.2327" stop-color="#0011ff"/><stop offset="0.2388" stop-color="#000dff"/><stop offset="0.2408" stop-color="#0019ff"/><stop offset="0.2434" stop-color="#003dff"/><stop offset="0.2464" stop-color="#0091fa"/><stop offset="0.2479" stop-color="#00c4f3"/><stop offset="0.2489" stop-color="#08e5e9"/><stop offset="0.2499" stop-color="#28f8da"/><stop offset="0.2515" stop-color="#62fdc6"/><stop offset="0.2535" stop-color="#9bffac"/><stop offset="0.2555" stop-color="#baff9c"/><stop offset="0.2575" stop-color="#c2ff98"/><stop offset="0.2596" stop-color="#bbff9c"/><stop offset="0.2611" stop-color="#a7ffa6"/><stop offset="0.2616" stop-color="#99ffad"/><stop offset="0.2626" stop-color="#71ffc1"/><stop offset="0.2641" stop-color="#1df5de"/><stop offset="0.2646" stop-color="#09e6e8"/><stop offset="0.2651" stop-color="#02d1ef"/><stop offset="0.2666" stop-color="#0087fc"/><stop offset="0.2677" stop-color="#0060fe"/><stop offset="0.2687" stop-color="#004dff"/><stop offset="0.2702" stop-color="#0047ff"/><stop offset="0.2712" stop-color="#004dff"/><stop offset="0.2722" stop-color="#0061fe"/><stop offset="0.2747" stop-color="#00bbf4"/><stop offset="0.2763" stop-color="#06e4ea"/><stop offset="0.2773" stop-color="#16f0e2"/><stop offset="0.2783" stop-color="#1df5de"/><stop offset="0.2798" stop-color="#17f1e1"/><stop offset="0.2808" stop-color="#09e6e8"/><stop offset="0.2823" stop-color="#00c5f2"/><stop offset="0.2844" stop-color="#0091fa"/><stop offset="0.2894" stop-color="#002eff"/><stop offset="0.2909" stop-color="#0018ff"/><stop offset="0.2925" stop-color="#0010ff"/><stop offset="0.297" stop-color="#000dff"/><stop offset="0.2985" stop-color="#0018ff"/><stop offset="0.3011" stop-color="#0049ff"/><stop offset="0.3046" stop-color="#00b9f4"/><stop offset="0.3056" stop-color="#04dcec"/><stop offset="0.3061" stop-color="#0feae6"/><stop offset="0.3066" stop-color="#20f7dd"/><stop offset="0.3076" stop-color="#5afdc9"/><stop offset="0.3091" stop-color="#b5ff9f"/><stop offset="0.3102" stop-color="#f7f48a"/><stop offset="0.3117" stop-color="#ffdc75"/><stop offset="0.3132" stop-color="#ffd470"/><stop offset="0.3162" stop-color="#ffd570"/><stop offset="0.3172" stop-color="#ffdb74"/><stop offset="0.3188" stop-color="#f8f187"/><stop offset="0.3193" stop-color="#e4f990"/><stop offset="0.3198" stop-color="#c0ff99"/><stop offset="0.3223" stop-color="#21f7dd"/><stop offset="0.3228" stop-color="#0be8e7"/><stop offset="0.3238" stop-color="#00bdf4"/><stop offset="0.3253" stop-color="#007efc"/><stop offset="0.3264" stop-color="#0065fd"/><stop offset="0.3274" stop-color="#005cfe"/><stop offset="0.3289" stop-color="#005cfe"/><stop offset="0.3299" stop-color="#0069fd"/><stop offset="0.3304" stop-color="#0075fd"/><stop offset="0.3329" stop-color="#02d1ef"/><stop offset="0.3334" stop-color="#05e1eb"/><stop offset="0.3344" stop-color="#1cf4df"/><stop offset="0.336" stop-color="#3bfad4"/><stop offset="0.3375" stop-color="#45fbd0"/><stop offset="0.339" stop-color="#37f9d5"/><stop offset="0.34" stop-color="#1ff6de"/><stop offset="0.341" stop-color="#08e5e9"/><stop offset="0.342" stop-color="#01cbf1"/><stop offset="0.3461" stop-color="#0065fd"/><stop offset="0.3491" stop-color="#0030ff"/><stop offset="0.3506" stop-color="#001bff"/><stop offset="0.3522" stop-color="#000eff"/><stop offset="0.3557" stop-color="#000bff"/><stop offset="0.3577" stop-color="#0012ff"/><stop offset="0.3597" stop-color="#0032ff"/><stop offset="0.3613" stop-color="#005bfe"/><stop offset="0.3643" stop-color="#01ccf1"/><stop offset="0.3648" stop-color="#05dfeb"/><stop offset="0.3653" stop-color="#15efe2"/><stop offset="0.3658" stop-color="#30f9d7"/><stop offset="0.3668" stop-color="#7bffbd"/><stop offset="0.3678" stop-color="#c8ff96"/><stop offset="0.3683" stop-color="#f7f48a"/><stop offset="0.3694" stop-color="#ffd671"/><stop offset="0.3699" stop-color="#ffc767"/><stop offset="0.3709" stop-color="#ffb85c"/><stop offset="0.3754" stop-color="#ffb258"/><stop offset="0.3769" stop-color="#ffc364"/><stop offset="0.3785" stop-color="#f9ef86"/><stop offset="0.379" stop-color="#ddfb91"/><stop offset="0.3795" stop-color="#b5ff9f"/><stop offset="0.3805" stop-color="#72ffc1"/><stop offset="0.3815" stop-color="#2df8d9"/><stop offset="0.382" stop-color="#12ede4"/><stop offset="0.3825" stop-color="#04daed"/><stop offset="0.383" stop-color="#00c3f3"/><stop offset="0.384" stop-color="#009cf9"/><stop offset="0.3845" stop-color="#0091fb"/><stop offset="0.3855" stop-color="#0087fc"/><stop offset="0.3871" stop-color="#0087fc"/><stop offset="0.3886" stop-color="#009af9"/><stop offset="0.3906" stop-color="#06e4ea"/><stop offset="0.3911" stop-color="#1af2e0"/><stop offset="0.3916" stop-color="#36f9d5"/><stop offset="0.3926" stop-color="#72ffc1"/><stop offset="0.3936" stop-color="#a0ffaa"/><stop offset="0.3947" stop-color="#b7ff9e"/><stop offset="0.3957" stop-color="#beff9a"/><stop offset="0.3967" stop-color="#b8ff9d"/><stop offset="0.3977" stop-color="#a4ffa7"/><stop offset="0.3987" stop-color="#7effbb"/><stop offset="0.4002" stop-color="#2cf8d9"/><stop offset="0.4012" stop-color="#06e4ea"/><stop offset="0.4038" stop-color="#0096fa"/><stop offset="0.4073" stop-color="#0046ff"/><stop offset="0.4108" stop-color="#0011ff"/><stop offset="0.4134" stop-color="#000bff"/><stop offset="0.4154" stop-color="#0012ff"/><stop offset="0.4174" stop-color="#0032ff"/><stop offset="0.4189" stop-color="#005bfe"/><stop offset="0.422" stop-color="#01caf1"/><stop offset="0.4225" stop-color="#04dcec"/><stop offset="0.4235" stop-color="#20f7dd"/><stop offset="0.425" stop-color="#80ffba"/><stop offset="0.426" stop-color="#cefe94"/><stop offset="0.4265" stop-color="#f8f188"/><stop offset="0.4275" stop-color="#ffcb69"/><stop offset="0.4286" stop-color="#ffae56"/><stop offset="0.4296" stop-color="#ffa54f"/><stop offset="0.4346" stop-color="#ffa54f"/><stop offset="0.4356" stop-color="#ffae55"/><stop offset="0.4361" stop-color="#ffb95d"/><stop offset="0.4377" stop-color="#f9ee84"/><stop offset="0.4382" stop-color="#e0fa91"/><stop offset="0.4387" stop-color="#b6ff9e"/><stop offset="0.4397" stop-color="#73ffc0"/><stop offset="0.4407" stop-color="#2df8d8"/><stop offset="0.4412" stop-color="#13eee3"/><stop offset="0.4417" stop-color="#04dcec"/><stop offset="0.4422" stop-color="#00c8f2"/><stop offset="0.4432" stop-color="#00a1f8"/><stop offset="0.4437" stop-color="#0095fa"/><stop offset="0.4447" stop-color="#0088fc"/><stop offset="0.4458" stop-color="#0087fc"/><stop offset="0.4468" stop-color="#0090fb"/><stop offset="0.4473" stop-color="#009bf9"/><stop offset="0.4488" stop-color="#04d9ed"/><stop offset="0.4493" stop-color="#12ece4"/><stop offset="0.4498" stop-color="#2df8d9"/><stop offset="0.4513" stop-color="#94ffb0"/><stop offset="0.4523" stop-color="#ccfe95"/><stop offset="0.4528" stop-color="#e7f98f"/><stop offset="0.4533" stop-color="#f6f58b"/><stop offset="0.4549" stop-color="#f9ef86"/><stop offset="0.4564" stop-color="#f2f78d"/><stop offset="0.4574" stop-color="#c1ff98"/><stop offset="0.4589" stop-color="#72ffc1"/><stop offset="0.4604" stop-color="#1af2e0"/><stop offset="0.4609" stop-color="#08e5e9"/><stop offset="0.462" stop-color="#00c4f3"/><stop offset="0.4635" stop-color="#0097fa"/><stop offset="0.466" stop-color="#0059fe"/><stop offset="0.4695" stop-color="#0019ff"/><stop offset="0.4716" stop-color="#000cff"/><stop offset="0.4746" stop-color="#0012ff"/><stop offset="0.4766" stop-color="#0032ff"/><stop offset="0.4781" stop-color="#005bfe"/><stop offset="0.4812" stop-color="#01caf1"/><stop offset="0.4817" stop-color="#04dcec"/><stop offset="0.4827" stop-color="#20f7dd"/><stop offset="0.4842" stop-color="#80ffba"/><stop offset="0.4852" stop-color="#cefe94"/><stop offset="0.4857" stop-color="#f8f188"/><stop offset="0.4867" stop-color="#ffcb69"/><stop offset="0.4878" stop-color="#ffae56"/><stop offset="0.4888" stop-color="#ffa54f"/><stop offset="0.4938" stop-color="#ffa54f"/><stop offset="0.4948" stop-color="#ffae55"/><stop offset="0.4953" stop-color="#ffb95d"/><stop offset="0.4969" stop-color="#f9ee84"/><stop offset="0.4974" stop-color="#e0fa91"/><stop offset="0.4979" stop-color="#b6ff9e"/><stop offset="0.4989" stop-color="#74ffc0"/><stop offset="0.4999" stop-color="#32f9d7"/><stop offset="0.5004" stop-color="#17f0e2"/><stop offset="0.5009" stop-color="#05e1eb"/><stop offset="0.5019" stop-color="#00bbf4"/><stop offset="0.5024" stop-color="#00acf6"/><stop offset="0.5034" stop-color="#009df9"/><stop offset="0.506" stop-color="#009ef9"/><stop offset="0.507" stop-color="#00aef6"/><stop offset="0.5085" stop-color="#06e2eb"/><stop offset="0.509" stop-color="#17f1e1"/><stop offset="0.5095" stop-color="#33f9d7"/><stop offset="0.5105" stop-color="#75ffbf"/><stop offset="0.5115" stop-color="#b1ffa1"/><stop offset="0.5125" stop-color="#e4f990"/><stop offset="0.5131" stop-color="#f4f68c"/><stop offset="0.5141" stop-color="#f7f38a"/><stop offset="0.5151" stop-color="#f2f78d"/><stop offset="0.5161" stop-color="#d1fd94"/><stop offset="0.5176" stop-color="#8cffb4"/><stop offset="0.5191" stop-color="#34f9d6"/><stop offset="0.5196" stop-color="#19f2e0"/><stop offset="0.5201" stop-color="#07e5e9"/><stop offset="0.5211" stop-color="#00c1f3"/><stop offset="0.5227" stop-color="#008efb"/><stop offset="0.5247" stop-color="#0056fe"/><stop offset="0.5277" stop-color="#001aff"/><stop offset="0.5298" stop-color="#000cff"/><stop offset="0.5333" stop-color="#000fff"/><stop offset="0.5353" stop-color="#0028ff"/><stop offset="0.5373" stop-color="#005bfe"/><stop offset="0.5404" stop-color="#01caf1"/><stop offset="0.5409" stop-color="#04dcec"/><stop offset="0.5419" stop-color="#20f7dd"/><stop offset="0.5434" stop-color="#80ffba"/><stop offset="0.5444" stop-color="#c8ff96"/><stop offset="0.5449" stop-color="#f7f58b"/><stop offset="0.5459" stop-color="#ffd973"/><stop offset="0.5464" stop-color="#ffcc6a"/><stop offset="0.5475" stop-color="#ffbf61"/><stop offset="0.5515" stop-color="#ffbc5f"/><stop offset="0.553" stop-color="#ffca69"/><stop offset="0.5545" stop-color="#faec83"/><stop offset="0.555" stop-color="#f0f78d"/><stop offset="0.5556" stop-color="#c8ff95"/><stop offset="0.5566" stop-color="#8bffb4"/><stop offset="0.5581" stop-color="#20f7dd"/><stop offset="0.5586" stop-color="#0be7e8"/><stop offset="0.5596" stop-color="#00c4f3"/><stop offset="0.5601" stop-color="#00b6f5"/><stop offset="0.5611" stop-color="#00a9f7"/><stop offset="0.5631" stop-color="#00a9f7"/><stop offset="0.5642" stop-color="#00b5f5"/><stop offset="0.5657" stop-color="#05deec"/><stop offset="0.5667" stop-color="#25f8db"/><stop offset="0.5687" stop-color="#9effab"/><stop offset="0.5697" stop-color="#cdfe95"/><stop offset="0.5702" stop-color="#e3fa90"/><stop offset="0.5707" stop-color="#f2f78d"/><stop offset="0.5723" stop-color="#f7f389"/><stop offset="0.5733" stop-color="#f5f68c"/><stop offset="0.5738" stop-color="#e7f98f"/><stop offset="0.5748" stop-color="#bcff9b"/><stop offset="0.5763" stop-color="#70ffc1"/><stop offset="0.5778" stop-color="#1af2e0"/><stop offset="0.5783" stop-color="#08e5e9"/><stop offset="0.5793" stop-color="#00c4f3"/><stop offset="0.5809" stop-color="#0097fa"/><stop offset="0.5834" stop-color="#0059fe"/><stop offset="0.5869" stop-color="#0019ff"/><stop offset="0.5889" stop-color="#000cff"/><stop offset="0.592" stop-color="#000dff"/><stop offset="0.593" stop-color="#0015ff"/><stop offset="0.594" stop-color="#0025ff"/><stop offset="0.596" stop-color="#005afe"/><stop offset="0.5991" stop-color="#01caf1"/><stop offset="0.5996" stop-color="#04dcec"/><stop offset="0.6006" stop-color="#20f7dd"/><stop offset="0.6021" stop-color="#7affbd"/><stop offset="0.6031" stop-color="#b8ff9d"/><stop offset="0.6036" stop-color="#dcfb91"/><stop offset="0.6041" stop-color="#f8f289"/><stop offset="0.6056" stop-color="#ffdb74"/><stop offset="0.6072" stop-color="#ffd470"/><stop offset="0.6107" stop-color="#ffd671"/><stop offset="0.6122" stop-color="#fde67d"/><stop offset="0.6132" stop-color="#f5f68c"/><stop offset="0.6142" stop-color="#b6ff9e"/><stop offset="0.6153" stop-color="#7fffbb"/><stop offset="0.6168" stop-color="#29f8da"/><stop offset="0.6178" stop-color="#06e3ea"/><stop offset="0.6188" stop-color="#00c6f2"/><stop offset="0.6203" stop-color="#00aff6"/><stop offset="0.6218" stop-color="#00aef6"/><stop offset="0.6228" stop-color="#00b6f5"/><stop offset="0.6244" stop-color="#04ddec"/><stop offset="0.6249" stop-color="#10ebe5"/><stop offset="0.6254" stop-color="#24f7dc"/><stop offset="0.6269" stop-color="#7effbb"/><stop offset="0.6279" stop-color="#adffa3"/><stop offset="0.6294" stop-color="#dbfb92"/><stop offset="0.6309" stop-color="#e9f88f"/><stop offset="0.632" stop-color="#dffa91"/><stop offset="0.6335" stop-color="#b7ff9d"/><stop offset="0.635" stop-color="#79ffbe"/><stop offset="0.6365" stop-color="#28f8da"/><stop offset="0.6375" stop-color="#06e2eb"/><stop offset="0.6411" stop-color="#0071fd"/><stop offset="0.6436" stop-color="#003cff"/><stop offset="0.6466" stop-color="#0011ff"/><stop offset="0.6497" stop-color="#000bff"/><stop offset="0.6517" stop-color="#0016ff"/><stop offset="0.6542" stop-color="#003fff"/><stop offset="0.6557" stop-color="#0069fd"/><stop offset="0.6593" stop-color="#05e0eb"/><stop offset="0.6603" stop-color="#22f7dc"/><stop offset="0.6623" stop-color="#84ffb8"/><stop offset="0.6638" stop-color="#baff9c"/><stop offset="0.6648" stop-color="#d4fc93"/><stop offset="0.6659" stop-color="#e4f990"/><stop offset="0.6679" stop-color="#eaf88f"/><stop offset="0.6694" stop-color="#e6f98f"/><stop offset="0.6704" stop-color="#d7fc92"/><stop offset="0.6714" stop-color="#b9ff9d"/><stop offset="0.6724" stop-color="#93ffb0"/><stop offset="0.6745" stop-color="#2cf8d9"/><stop offset="0.675" stop-color="#18f1e1"/><stop offset="0.6755" stop-color="#09e6e8"/><stop offset="0.677" stop-color="#00c0f3"/><stop offset="0.6785" stop-color="#00aaf7"/><stop offset="0.681" stop-color="#00a9f7"/><stop offset="0.682" stop-color="#00b5f5"/><stop offset="0.6836" stop-color="#05deec"/><stop offset="0.6846" stop-color="#23f7dc"/><stop offset="0.6861" stop-color="#6cfec3"/><stop offset="0.6871" stop-color="#8effb3"/><stop offset="0.6881" stop-color="#a3ffa8"/><stop offset="0.6896" stop-color="#aeffa2"/><stop offset="0.6906" stop-color="#abffa4"/><stop offset="0.6917" stop-color="#9affad"/><stop offset="0.6927" stop-color="#78ffbe"/><stop offset="0.6942" stop-color="#2cf8d9"/><stop offset="0.6952" stop-color="#0ae7e8"/><stop offset="0.6957" stop-color="#04d9ed"/><stop offset="0.6993" stop-color="#006bfd"/><stop offset="0.7008" stop-color="#0047ff"/><stop offset="0.7038" stop-color="#001aff"/><stop offset="0.7063" stop-color="#0011ff"/><stop offset="0.7099" stop-color="#0014ff"/><stop offset="0.7119" stop-color="#002bff"/><stop offset="0.7139" stop-color="#0059fe"/><stop offset="0.7154" stop-color="#008bfb"/><stop offset="0.718" stop-color="#05e0eb"/><stop offset="0.719" stop-color="#21f7dd"/><stop offset="0.72" stop-color="#4cfbce"/><stop offset="0.7215" stop-color="#7affbd"/><stop offset="0.723" stop-color="#92ffb0"/><stop offset="0.7245" stop-color="#99ffad"/><stop offset="0.7261" stop-color="#94ffb0"/><stop offset="0.7286" stop-color="#80ffba"/><stop offset="0.7301" stop-color="#68fec4"/><stop offset="0.7311" stop-color="#4afbce"/><stop offset="0.7321" stop-color="#24f7dc"/><stop offset="0.7332" stop-color="#08e6e9"/><stop offset="0.7342" stop-color="#01ccf1"/><stop offset="0.7352" stop-color="#00b6f5"/><stop offset="0.7362" stop-color="#00aaf7"/><stop offset="0.7392" stop-color="#00a6f7"/><stop offset="0.7407" stop-color="#00b0f6"/><stop offset="0.7433" stop-color="#06e4ea"/><stop offset="0.7448" stop-color="#25f7db"/><stop offset="0.7458" stop-color="#3afad4"/><stop offset="0.7478" stop-color="#4ffbcd"/><stop offset="0.7488" stop-color="#50fccd"/><stop offset="0.7498" stop-color="#48fbcf"/><stop offset="0.7514" stop-color="#28f8da"/><stop offset="0.7529" stop-color="#05e1eb"/><stop offset="0.7539" stop-color="#00c9f2"/><stop offset="0.7579" stop-color="#0066fd"/><stop offset="0.761" stop-color="#002dff"/><stop offset="0.763" stop-color="#0018ff"/><stop offset="0.7676" stop-color="#0012ff"/><stop offset="0.7701" stop-color="#0014ff"/><stop offset="0.7716" stop-color="#0023ff"/><stop offset="0.7736" stop-color="#004aff"/><stop offset="0.7757" stop-color="#0088fc"/><stop offset="0.7777" stop-color="#00caf1"/><stop offset="0.7787" stop-color="#07e5e9"/><stop offset="0.7797" stop-color="#1cf4df"/><stop offset="0.7807" stop-color="#2ef8d8"/><stop offset="0.7827" stop-color="#3efad3"/><stop offset="0.7863" stop-color="#2ff8d8"/><stop offset="0.7883" stop-color="#19f2e0"/><stop offset="0.7898" stop-color="#05e0eb"/><stop offset="0.7944" stop-color="#008afb"/><stop offset="0.7954" stop-color="#007ffc"/><stop offset="0.7969" stop-color="#0079fd"/><stop offset="0.7984" stop-color="#0080fc"/><stop offset="0.7994" stop-color="#008ffb"/><stop offset="0.803" stop-color="#05dfeb"/><stop offset="0.8045" stop-color="#1bf3e0"/><stop offset="0.8065" stop-color="#37f9d5"/><stop offset="0.8075" stop-color="#3bfad4"/><stop offset="0.8085" stop-color="#34f9d6"/><stop offset="0.8096" stop-color="#21f7dd"/><stop offset="0.8106" stop-color="#0ce8e7"/><stop offset="0.8116" stop-color="#02d0f0"/><stop offset="0.8146" stop-color="#007cfc"/><stop offset="0.8176" stop-color="#0041ff"/><stop offset="0.8212" stop-color="#0018ff"/><stop offset="0.8242" stop-color="#000fff"/><stop offset="0.8283" stop-color="#000dff"/><stop offset="0.8303" stop-color="#001bff"/><stop offset="0.8328" stop-color="#0045ff"/><stop offset="0.8374" stop-color="#00adf6"/><stop offset="0.8394" stop-color="#00caf1"/><stop offset="0.8424" stop-color="#01cdf1"/><stop offset="0.8445" stop-color="#00c8f2"/><stop offset="0.8465" stop-color="#00aef6"/><stop offset="0.85" stop-color="#006bfd"/><stop offset="0.8515" stop-color="#0056fe"/><stop offset="0.8531" stop-color="#004cff"/><stop offset="0.8556" stop-color="#004aff"/><stop offset="0.8571" stop-color="#0051fe"/><stop offset="0.8581" stop-color="#005efe"/><stop offset="0.8632" stop-color="#00caf1"/><stop offset="0.8647" stop-color="#04daed"/><stop offset="0.8662" stop-color="#05e1eb"/><stop offset="0.8677" stop-color="#04dcec"/><stop offset="0.8693" stop-color="#00caf1"/><stop offset="0.8733" stop-color="#0067fd"/><stop offset="0.8748" stop-color="#004dff"/><stop offset="0.8799" stop-color="#0017ff"/><stop offset="0.8819" stop-color="#000cff"/><stop offset="0.89" stop-color="#000fff"/><stop offset="0.893" stop-color="#002eff"/><stop offset="0.8976" stop-color="#006efd"/><stop offset="0.9001" stop-color="#007cfc"/><stop offset="0.9027" stop-color="#0079fd"/><stop offset="0.9042" stop-color="#0070fd"/><stop offset="0.9082" stop-color="#0029ff"/><stop offset="0.9097" stop-color="#0019ff"/><stop offset="0.9133" stop-color="#0015ff"/><stop offset="0.9153" stop-color="#0030ff"/><stop offset="0.9199" stop-color="#0092fa"/><stop offset="0.9214" stop-color="#00a0f8"/><stop offset="0.9229" stop-color="#00a4f8"/><stop offset="0.9264" stop-color="#009cf9"/><stop offset="0.9305" stop-color="#0062fe"/><stop offset="0.9335" stop-color="#0046ff"/><stop offset="0.9482" stop-color="#0021ff"/><stop offset="0.9532" stop-color="#0026ff"/><stop offset="0.9553" stop-color="#0035ff"/><stop offset="0.9578" stop-color="#0051fe"/><stop offset="0.9593" stop-color="#0057fe"/><stop offset="0.9684" stop-color="#0055fe"/><stop offset="0.975" stop-color="#001cff"/><stop offset="0.9791" stop-color="#0012ff"/><stop offset="0.9811" stop-color="#0018ff"/><stop offset="0.9887" stop-color="#0049ff"/><stop offset="0.9998" stop-color="#004aff"/></linearGradient>
<linearGradient id="br0" gradientUnits="userSpaceOnUse" x1="0" y1="80.5" x2="0" y2="1068.7"><stop offset="0" stop-color="#0000ff"/><stop offset="0.0385" stop-color="#0000ff"/><stop offset="0.04" stop-color="#0008ff"/><stop offset="0.042" stop-color="#0032ff"/><stop offset="0.0445" stop-color="#0010ff"/><stop offset="0.0683" stop-color="#0011ff"/><stop offset="0.0724" stop-color="#0017ff"/><stop offset="0.0729" stop-color="#001eff"/><stop offset="0.0744" stop-color="#0049ff"/><stop offset="0.0749" stop-color="#0045ff"/><stop offset="0.0764" stop-color="#0012ff"/><stop offset="0.0779" stop-color="#0001ff"/><stop offset="0.0977" stop-color="#0001ff"/><stop offset="0.0987" stop-color="#0009ff"/><stop offset="0.1007" stop-color="#0038ff"/><stop offset="0.1012" stop-color="#0036ff"/><stop offset="0.1027" stop-color="#001aff"/><stop offset="0.1063" stop-color="#0011ff"/><stop offset="0.1209" stop-color="#0011ff"/><stop offset="0.1255" stop-color="#0024ff"/><stop offset="0.1295" stop-color="#0044ff"/><stop offset="0.131" stop-color="#0043ff"/><stop offset="0.1316" stop-color="#004dff"/><stop offset="0.1326" stop-color="#0088fc"/><stop offset="0.1331" stop-color="#009ef8"/><stop offset="0.1336" stop-color="#0098f9"/><stop offset="0.1341" stop-color="#0077fd"/><stop offset="0.1351" stop-color="#0027ff"/><stop offset="0.1356" stop-color="#0010ff"/><stop offset="0.1366" stop-color="#0002ff"/><stop offset="0.1569" stop-color="#0001ff"/><stop offset="0.1579" stop-color="#0007ff"/><stop offset="0.1599" stop-color="#0035ff"/><stop offset="0.1604" stop-color="#0035ff"/><stop offset="0.1619" stop-color="#0021ff"/><stop offset="0.1639" stop-color="#0028ff"/><stop offset="0.1715" stop-color="#000dff"/><stop offset="0.1791" stop-color="#000cff"/><stop offset="0.1816" stop-color="#001bff"/><stop offset="0.1862" stop-color="#005bfe"/><stop offset="0.1882" stop-color="#005dfe"/><stop offset="0.1897" stop-color="#0055fe"/><stop offset="0.1902" stop-color="#005efe"/><stop offset="0.1908" stop-color="#0083fc"/><stop offset="0.1913" stop-color="#00bcf4"/><stop offset="0.1918" stop-color="#10ebe5"/><stop offset="0.1923" stop-color="#27f8da"/><stop offset="0.1928" stop-color="#13eee3"/><stop offset="0.1933" stop-color="#00bef4"/><stop offset="0.1938" stop-color="#0077fd"/><stop offset="0.1943" stop-color="#003bff"/><stop offset="0.1948" stop-color="#0019ff"/><stop offset="0.1953" stop-color="#0009ff"/><stop offset="0.1963" stop-color="#0001ff"/><stop offset="0.216" stop-color="#0005ff"/><stop offset="0.2166" stop-color="#000fff"/><stop offset="0.2171" stop-color="#0026ff"/><stop offset="0.2176" stop-color="#004dff"/><stop offset="0.2186" stop-color="#00aef6"/><stop offset="0.2191" stop-color="#00c1f3"/><stop offset="0.2196" stop-color="#00b3f5"/><stop offset="0.2206" stop-color="#006afd"/><stop offset="0.2211" stop-color="#0055fe"/><stop offset="0.2231" stop-color="#005dfe"/><stop offset="0.2252" stop-color="#0059fe"/><stop offset="0.2287" stop-color="#002cff"/><stop offset="0.2322" stop-color="#0014ff"/><stop offset="0.2393" stop-color="#000fff"/><stop offset="0.2413" stop-color="#001fff"/><stop offset="0.2454" stop-color="#005bfe"/><stop offset="0.2474" stop-color="#005cfe"/><stop offset="0.2489" stop-color="#0052fe"/><stop offset="0.2494" stop-color="#0068fd"/><stop offset="0.2499" stop-color="#009cf9"/><stop offset="0.2505" stop-color="#04dcec"/><stop offset="0.251" stop-color="#2df8d9"/><stop offset="0.2515" stop-color="#35f9d6"/><stop offset="0.252" stop-color="#0ae7e8"/><stop offset="0.253" stop-color="#005efe"/><stop offset="0.2535" stop-color="#002bff"/><stop offset="0.254" stop-color="#0011ff"/><stop offset="0.255" stop-color="#0001ff"/><stop offset="0.2747" stop-color="#0003ff"/><stop offset="0.2752" stop-color="#000aff"/><stop offset="0.2758" stop-color="#001cff"/><stop offset="0.2763" stop-color="#0041ff"/><stop offset="0.2773" stop-color="#00bff3"/><stop offset="0.2778" stop-color="#0ce8e7"/><stop offset="0.2783" stop-color="#12ede4"/><stop offset="0.2788" stop-color="#02d3ef"/><stop offset="0.2798" stop-color="#006ffd"/><stop offset="0.2803" stop-color="#0055fe"/><stop offset="0.2823" stop-color="#005dfe"/><stop offset="0.2864" stop-color="#005bfe"/><stop offset="0.2914" stop-color="#0015ff"/><stop offset="0.296" stop-color="#000dff"/><stop offset="0.2985" stop-color="#001aff"/><stop offset="0.3016" stop-color="#0051fe"/><stop offset="0.3026" stop-color="#005cfe"/><stop offset="0.3061" stop-color="#005dfe"/><stop offset="0.3076" stop-color="#0057fe"/><stop offset="0.3081" stop-color="#0064fe"/><stop offset="0.3086" stop-color="#0091fa"/><stop offset="0.3091" stop-color="#01cff0"/><stop offset="0.3097" stop-color="#20f7dd"/><stop offset="0.3102" stop-color="#3dfad3"/><stop offset="0.3107" stop-color="#1cf4df"/><stop offset="0.3112" stop-color="#00c3f3"/><stop offset="0.3117" stop-color="#0079fd"/><stop offset="0.3122" stop-color="#003cff"/><stop offset="0.3127" stop-color="#0019ff"/><stop offset="0.3132" stop-color="#0009ff"/><stop offset="0.3147" stop-color="#0000ff"/><stop offset="0.3324" stop-color="#0000ff"/><stop offset="0.3339" stop-color="#0008ff"/><stop offset="0.3344" stop-color="#0017ff"/><stop offset="0.335" stop-color="#0038ff"/><stop offset="0.3355" stop-color="#0073fd"/><stop offset="0.336" stop-color="#00bdf4"/><stop offset="0.3365" stop-color="#17f1e1"/><stop offset="0.337" stop-color="#36f9d5"/><stop offset="0.3375" stop-color="#1df4df"/><stop offset="0.338" stop-color="#01ccf1"/><stop offset="0.3385" stop-color="#008ffb"/><stop offset="0.339" stop-color="#0063fe"/><stop offset="0.3395" stop-color="#0056fe"/><stop offset="0.341" stop-color="#005dfe"/><stop offset="0.3461" stop-color="#005afe"/><stop offset="0.3511" stop-color="#0017ff"/><stop offset="0.3547" stop-color="#000bff"/><stop offset="0.3577" stop-color="#0015ff"/><stop offset="0.3618" stop-color="#0059fe"/><stop offset="0.3648" stop-color="#005dfe"/><stop offset="0.3663" stop-color="#0057fe"/><stop offset="0.3668" stop-color="#0064fe"/><stop offset="0.3673" stop-color="#0091fa"/><stop offset="0.3678" stop-color="#01cff0"/><stop offset="0.3683" stop-color="#20f7dd"/><stop offset="0.3689" stop-color="#3dfad3"/><stop offset="0.3694" stop-color="#1cf4df"/><stop offset="0.3699" stop-color="#00c3f3"/><stop offset="0.3704" stop-color="#0079fd"/><stop offset="0.3709" stop-color="#003cff"/><stop offset="0.3714" stop-color="#0019ff"/><stop offset="0.3719" stop-color="#0009ff"/><stop offset="0.3724" stop-color="#0002ff"/><stop offset="0.3754" stop-color="#0000ff"/><stop offset="0.3926" stop-color="#0005ff"/><stop offset="0.3931" stop-color="#0011ff"/><stop offset="0.3936" stop-color="#002bff"/><stop offset="0.3942" stop-color="#005efe"/><stop offset="0.3952" stop-color="#0ae7e8"/><stop offset="0.3957" stop-color="#36f9d5"/><stop offset="0.3962" stop-color="#30f9d7"/><stop offset="0.3967" stop-color="#05e1eb"/><stop offset="0.3977" stop-color="#0070fd"/><stop offset="0.3982" stop-color="#0055fe"/><stop offset="0.4002" stop-color="#005dfe"/><stop offset="0.4058" stop-color="#005afe"/><stop offset="0.4103" stop-color="#0018ff"/><stop offset="0.4129" stop-color="#000cff"/><stop offset="0.4159" stop-color="#001aff"/><stop offset="0.4194" stop-color="#0059fe"/><stop offset="0.4235" stop-color="#005dfe"/><stop offset="0.425" stop-color="#0054fe"/><stop offset="0.4255" stop-color="#005afe"/><stop offset="0.426" stop-color="#007afd"/><stop offset="0.4265" stop-color="#00b3f5"/><stop offset="0.427" stop-color="#0eeae6"/><stop offset="0.4275" stop-color="#37f9d5"/><stop offset="0.4281" stop-color="#2ff8d8"/><stop offset="0.4286" stop-color="#04ddec"/><stop offset="0.4296" stop-color="#0051fe"/><stop offset="0.4301" stop-color="#0024ff"/><stop offset="0.4306" stop-color="#000dff"/><stop offset="0.4316" stop-color="#0001ff"/><stop offset="0.4377" stop-color="#0000ff"/><stop offset="0.4513" stop-color="#0003ff"/><stop offset="0.4518" stop-color="#000bff"/><stop offset="0.4523" stop-color="#001eff"/><stop offset="0.4528" stop-color="#0046ff"/><stop offset="0.4539" stop-color="#02d1f0"/><stop offset="0.4544" stop-color="#26f8db"/><stop offset="0.4549" stop-color="#3cfad3"/><stop offset="0.4554" stop-color="#17f1e1"/><stop offset="0.4559" stop-color="#00c2f3"/><stop offset="0.4564" stop-color="#0086fc"/><stop offset="0.4569" stop-color="#005ffe"/><stop offset="0.4574" stop-color="#0055fe"/><stop offset="0.4589" stop-color="#005dfe"/><stop offset="0.465" stop-color="#005cfe"/><stop offset="0.466" stop-color="#0054fe"/><stop offset="0.47" stop-color="#0015ff"/><stop offset="0.4726" stop-color="#000cff"/><stop offset="0.4751" stop-color="#001aff"/><stop offset="0.4786" stop-color="#0059fe"/><stop offset="0.4822" stop-color="#005dfe"/><stop offset="0.4842" stop-color="#0055fe"/><stop offset="0.4847" stop-color="#0070fd"/><stop offset="0.4857" stop-color="#05e1eb"/><stop offset="0.4862" stop-color="#30f9d7"/><stop offset="0.4867" stop-color="#36f9d5"/><stop offset="0.4872" stop-color="#0ae7e8"/><stop offset="0.4883" stop-color="#005efe"/><stop offset="0.4888" stop-color="#002bff"/><stop offset="0.4893" stop-color="#0011ff"/><stop offset="0.4903" stop-color="#0001ff"/><stop offset="0.4923" stop-color="#0000ff"/><stop offset="0.51" stop-color="#0002ff"/><stop offset="0.5105" stop-color="#0009ff"/><stop offset="0.511" stop-color="#0019ff"/><stop offset="0.5115" stop-color="#003cff"/><stop offset="0.512" stop-color="#0079fd"/><stop offset="0.5125" stop-color="#00c3f3"/><stop offset="0.5131" stop-color="#1cf4df"/><stop offset="0.5136" stop-color="#3dfad3"/><stop offset="0.5141" stop-color="#20f7dd"/><stop offset="0.5146" stop-color="#01cff0"/><stop offset="0.5151" stop-color="#0091fa"/><stop offset="0.5156" stop-color="#0064fe"/><stop offset="0.5161" stop-color="#0057fe"/><stop offset="0.5176" stop-color="#005dfe"/><stop offset="0.5237" stop-color="#005cfe"/><stop offset="0.5247" stop-color="#0052fe"/><stop offset="0.5282" stop-color="#0016ff"/><stop offset="0.5313" stop-color="#000bff"/><stop offset="0.5343" stop-color="#001aff"/><stop offset="0.5373" stop-color="#0053fe"/><stop offset="0.5384" stop-color="#005cfe"/><stop offset="0.5414" stop-color="#005dfe"/><stop offset="0.5434" stop-color="#0055fe"/><stop offset="0.5439" stop-color="#0070fd"/><stop offset="0.5449" stop-color="#05e1eb"/><stop offset="0.5454" stop-color="#30f9d7"/><stop offset="0.5459" stop-color="#36f9d5"/><stop offset="0.5464" stop-color="#0ae7e8"/><stop offset="0.5475" stop-color="#005efe"/><stop offset="0.548" stop-color="#002bff"/><stop offset="0.5485" stop-color="#0011ff"/><stop offset="0.5495" stop-color="#0001ff"/><stop offset="0.5515" stop-color="#0000ff"/><stop offset="0.5677" stop-color="#0000ff"/><stop offset="0.5692" stop-color="#0007ff"/><stop offset="0.5697" stop-color="#0014ff"/><stop offset="0.5702" stop-color="#0033ff"/><stop offset="0.5707" stop-color="#006bfd"/><stop offset="0.5712" stop-color="#00b4f5"/><stop offset="0.5717" stop-color="#14eee3"/><stop offset="0.5723" stop-color="#3afad4"/><stop offset="0.5728" stop-color="#27f8db"/><stop offset="0.5733" stop-color="#03d5ee"/><stop offset="0.5738" stop-color="#0096fa"/><stop offset="0.5743" stop-color="#0066fd"/><stop offset="0.5748" stop-color="#0051fe"/><stop offset="0.5768" stop-color="#005dfe"/><stop offset="0.5824" stop-color="#005cfe"/><stop offset="0.5839" stop-color="#004dff"/><stop offset="0.5869" stop-color="#001bff"/><stop offset="0.5889" stop-color="#000dff"/><stop offset="0.5925" stop-color="#0012ff"/><stop offset="0.594" stop-color="#0027ff"/><stop offset="0.596" stop-color="#0052fe"/><stop offset="0.597" stop-color="#005cfe"/><stop offset="0.6006" stop-color="#005dfe"/><stop offset="0.6021" stop-color="#0057fe"/><stop offset="0.6026" stop-color="#0064fe"/><stop offset="0.6031" stop-color="#0091fa"/><stop offset="0.6036" stop-color="#01cff0"/><stop offset="0.6041" stop-color="#20f7dd"/><stop offset="0.6046" stop-color="#3dfad3"/><stop offset="0.6051" stop-color="#1cf4df"/><stop offset="0.6056" stop-color="#00c3f3"/><stop offset="0.6062" stop-color="#0079fd"/><stop offset="0.6067" stop-color="#003cff"/><stop offset="0.6072" stop-color="#0019ff"/><stop offset="0.6077" stop-color="#0009ff"/><stop offset="0.6082" stop-color="#0002ff"/><stop offset="0.6279" stop-color="#0004ff"/><stop offset="0.6284" stop-color="#000dff"/><stop offset="0.6289" stop-color="#0024ff"/><stop offset="0.6294" stop-color="#0051fe"/><stop offset="0.6304" stop-color="#04ddec"/><stop offset="0.6309" stop-color="#2ff8d8"/><stop offset="0.6315" stop-color="#37f9d5"/><stop offset="0.632" stop-color="#0eeae6"/><stop offset="0.6325" stop-color="#00b3f5"/><stop offset="0.633" stop-color="#007afd"/><stop offset="0.6335" stop-color="#005afe"/><stop offset="0.634" stop-color="#0054fe"/><stop offset="0.6355" stop-color="#005dfe"/><stop offset="0.6411" stop-color="#005cfe"/><stop offset="0.6421" stop-color="#0055fe"/><stop offset="0.6461" stop-color="#0017ff"/><stop offset="0.6476" stop-color="#000dff"/><stop offset="0.6497" stop-color="#000cff"/><stop offset="0.6522" stop-color="#001eff"/><stop offset="0.6552" stop-color="#0053fe"/><stop offset="0.6562" stop-color="#005cfe"/><stop offset="0.6593" stop-color="#005dfe"/><stop offset="0.6613" stop-color="#0055fe"/><stop offset="0.6618" stop-color="#0070fd"/><stop offset="0.6628" stop-color="#05e1eb"/><stop offset="0.6633" stop-color="#30f9d7"/><stop offset="0.6638" stop-color="#36f9d5"/><stop offset="0.6643" stop-color="#0ae7e8"/><stop offset="0.6654" stop-color="#005efe"/><stop offset="0.6659" stop-color="#002bff"/><stop offset="0.6664" stop-color="#0011ff"/><stop offset="0.6669" stop-color="#0005ff"/><stop offset="0.6846" stop-color="#0000ff"/><stop offset="0.6866" stop-color="#0001ff"/><stop offset="0.6876" stop-color="#000dff"/><stop offset="0.6881" stop-color="#0024ff"/><stop offset="0.6886" stop-color="#0051fe"/><stop offset="0.6896" stop-color="#04ddec"/><stop offset="0.6901" stop-color="#2ff8d8"/><stop offset="0.6906" stop-color="#37f9d5"/><stop offset="0.6912" stop-color="#0eeae6"/><stop offset="0.6917" stop-color="#00b3f5"/><stop offset="0.6922" stop-color="#007afd"/><stop offset="0.6927" stop-color="#005afe"/><stop offset="0.6932" stop-color="#0054fe"/><stop offset="0.6947" stop-color="#005dfe"/><stop offset="0.6993" stop-color="#005bfe"/><stop offset="0.7038" stop-color="#001cff"/><stop offset="0.7073" stop-color="#0011ff"/><stop offset="0.7104" stop-color="#0019ff"/><stop offset="0.7119" stop-color="#002cff"/><stop offset="0.7139" stop-color="#0052fe"/><stop offset="0.7149" stop-color="#005cfe"/><stop offset="0.7185" stop-color="#005dfe"/><stop offset="0.72" stop-color="#0057fe"/><stop offset="0.7205" stop-color="#0064fe"/><stop offset="0.721" stop-color="#0091fa"/><stop offset="0.7215" stop-color="#01cff0"/><stop offset="0.722" stop-color="#20f7dd"/><stop offset="0.7225" stop-color="#3dfad3"/><stop offset="0.723" stop-color="#1cf4df"/><stop offset="0.7235" stop-color="#00c3f3"/><stop offset="0.724" stop-color="#0079fd"/><stop offset="0.7245" stop-color="#003cff"/><stop offset="0.7251" stop-color="#0019ff"/><stop offset="0.7256" stop-color="#0009ff"/><stop offset="0.7266" stop-color="#0001ff"/><stop offset="0.7458" stop-color="#0004ff"/><stop offset="0.7463" stop-color="#000dff"/><stop offset="0.7468" stop-color="#0024ff"/><stop offset="0.7473" stop-color="#0051fe"/><stop offset="0.7483" stop-color="#04ddec"/><stop offset="0.7488" stop-color="#2ff8d8"/><stop offset="0.7493" stop-color="#37f9d5"/><stop offset="0.7498" stop-color="#0de9e7"/><stop offset="0.7504" stop-color="#00b0f6"/><stop offset="0.7509" stop-color="#0078fd"/><stop offset="0.7514" stop-color="#0059fe"/><stop offset="0.7579" stop-color="#005afe"/><stop offset="0.762" stop-color="#0022ff"/><stop offset="0.765" stop-color="#0014ff"/><stop offset="0.7691" stop-color="#0013ff"/><stop offset="0.7706" stop-color="#0019ff"/><stop offset="0.7721" stop-color="#002cff"/><stop offset="0.7741" stop-color="#0052fe"/><stop offset="0.7751" stop-color="#005cfe"/><stop offset="0.7772" stop-color="#005cfe"/><stop offset="0.7787" stop-color="#004efe"/><stop offset="0.7792" stop-color="#005dfe"/><stop offset="0.7797" stop-color="#0088fc"/><stop offset="0.7802" stop-color="#00c4f3"/><stop offset="0.7807" stop-color="#15efe3"/><stop offset="0.7812" stop-color="#24f7dc"/><stop offset="0.7817" stop-color="#0ae7e8"/><stop offset="0.7822" stop-color="#00adf6"/><stop offset="0.7827" stop-color="#0067fd"/><stop offset="0.7832" stop-color="#0031ff"/><stop offset="0.7837" stop-color="#0014ff"/><stop offset="0.7843" stop-color="#0007ff"/><stop offset="0.7858" stop-color="#0000ff"/><stop offset="0.804" stop-color="#0001ff"/><stop offset="0.805" stop-color="#000cff"/><stop offset="0.8055" stop-color="#0022ff"/><stop offset="0.806" stop-color="#004dff"/><stop offset="0.807" stop-color="#03d5ee"/><stop offset="0.8075" stop-color="#20f7dd"/><stop offset="0.808" stop-color="#26f8db"/><stop offset="0.8085" stop-color="#05e1eb"/><stop offset="0.8096" stop-color="#0073fd"/><stop offset="0.8101" stop-color="#0057fe"/><stop offset="0.8106" stop-color="#0053fe"/><stop offset="0.8121" stop-color="#005dfe"/><stop offset="0.8156" stop-color="#005bfe"/><stop offset="0.8207" stop-color="#001dff"/><stop offset="0.8237" stop-color="#000fff"/><stop offset="0.8293" stop-color="#0013ff"/><stop offset="0.8313" stop-color="#002aff"/><stop offset="0.8338" stop-color="#0055fe"/><stop offset="0.8349" stop-color="#005cfe"/><stop offset="0.8364" stop-color="#005cfe"/><stop offset="0.8379" stop-color="#004efe"/><stop offset="0.8384" stop-color="#005cfe"/><stop offset="0.8394" stop-color="#00a7f7"/><stop offset="0.8399" stop-color="#00c3f3"/><stop offset="0.8404" stop-color="#00bff3"/><stop offset="0.8409" stop-color="#009bf9"/><stop offset="0.8419" stop-color="#0037ff"/><stop offset="0.8424" stop-color="#0019ff"/><stop offset="0.8435" stop-color="#0003ff"/><stop offset="0.8632" stop-color="#0001ff"/><stop offset="0.8642" stop-color="#000cff"/><stop offset="0.8647" stop-color="#0020ff"/><stop offset="0.8652" stop-color="#0046ff"/><stop offset="0.8662" stop-color="#00b6f5"/><stop offset="0.8667" stop-color="#03d6ee"/><stop offset="0.8672" stop-color="#02d2ef"/><stop offset="0.8688" stop-color="#005afe"/><stop offset="0.8693" stop-color="#004dff"/><stop offset="0.8708" stop-color="#005cfe"/><stop offset="0.8733" stop-color="#005bfe"/><stop offset="0.8799" stop-color="#0018ff"/><stop offset="0.8824" stop-color="#000cff"/><stop offset="0.89" stop-color="#0010ff"/><stop offset="0.8956" stop-color="#004cff"/><stop offset="0.8971" stop-color="#0039ff"/><stop offset="0.8976" stop-color="#0041ff"/><stop offset="0.8986" stop-color="#006dfd"/><stop offset="0.8991" stop-color="#0074fd"/><stop offset="0.8996" stop-color="#0066fd"/><stop offset="0.9011" stop-color="#0015ff"/><stop offset="0.9021" stop-color="#0003ff"/><stop offset="0.9224" stop-color="#0002ff"/><stop offset="0.9234" stop-color="#0010ff"/><stop offset="0.9239" stop-color="#0026ff"/><stop offset="0.9254" stop-color="#0092fa"/><stop offset="0.9259" stop-color="#009af9"/><stop offset="0.9264" stop-color="#0089fc"/><stop offset="0.9274" stop-color="#0053fe"/><stop offset="0.9279" stop-color="#004cff"/><stop offset="0.9295" stop-color="#005cfe"/><stop offset="0.9305" stop-color="#005cfe"/><stop offset="0.935" stop-color="#0041ff"/><stop offset="0.9502" stop-color="#0021ff"/><stop offset="0.9563" stop-color="#002bff"/><stop offset="0.9578" stop-color="#004dff"/><stop offset="0.9583" stop-color="#004bff"/><stop offset="0.9598" stop-color="#0014ff"/><stop offset="0.9603" stop-color="#0009ff"/><stop offset="0.9613" stop-color="#0001ff"/><stop offset="0.9998" stop-color="#0000ff"/></linearGradient>
<linearGradient id="br1" gradientUnits="userSpaceOnUse" x1="0" y1="80.5" x2="0" y2="1068.7"><stop offset="0" stop-color="#0000ff"/><stop offset="0.0385" stop-color="#0000ff"/><stop offset="0.04" stop-color="#0008ff"/><stop offset="0.042" stop-color="#002cff"/><stop offset="0.0425" stop-color="#002bff"/><stop offset="0.044" stop-color="#0014ff"/><stop offset="0.045" stop-color="#0011ff"/><stop offset="0.0683" stop-color="#0011ff"/><stop offset="0.0724" stop-color="#0019ff"/><stop offset="0.0744" stop-color="#0040ff"/><stop offset="0.0749" stop-color="#003fff"/><stop offset="0.0769" stop-color="#000aff"/><stop offset="0.0784" stop-color="#0000ff"/><stop offset="0.0977" stop-color="#0001ff"/><stop offset="0.0987" stop-color="#0009ff"/><stop offset="0.1007" stop-color="#0031ff"/><stop offset="0.1012" stop-color="#0032ff"/><stop offset="0.1032" stop-color="#0018ff"/><stop offset="0.1063" stop-color="#0011ff"/><stop offset="0.1209" stop-color="#0011ff"/><stop offset="0.124" stop-color="#001bff"/><stop offset="0.1295" stop-color="#0041ff"/><stop offset="0.131" stop-color="#0044ff"/><stop offset="0.1316" stop-color="#004efe"/><stop offset="0.1331" stop-color="#008dfb"/><stop offset="0.1336" stop-color="#008afb"/><stop offset="0.1341" stop-color="#0072fd"/><stop offset="0.1351" stop-color="#002dff"/><stop offset="0.1356" stop-color="#0016ff"/><stop offset="0.1361" stop-color="#0009ff"/><stop offset="0.1371" stop-color="#0001ff"/><stop offset="0.1569" stop-color="#0001ff"/><stop offset="0.1579" stop-color="#0008ff"/><stop offset="0.1599" stop-color="#002fff"/><stop offset="0.1604" stop-color="#0031ff"/><stop offset="0.1619" stop-color="#0023ff"/><stop offset="0.1639" stop-color="#0027ff"/><stop offset="0.171" stop-color="#000eff"/><stop offset="0.1786" stop-color="#000bff"/><stop offset="0.1816" stop-color="#001bff"/><stop offset="0.1862" stop-color="#0058fe"/><stop offset="0.1897" stop-color="#0056fe"/><stop offset="0.1902" stop-color="#0062fe"/><stop offset="0.1908" stop-color="#0082fc"/><stop offset="0.1918" stop-color="#04daed"/><stop offset="0.1923" stop-color="#0eeae6"/><stop offset="0.1928" stop-color="#05e1eb"/><stop offset="0.1933" stop-color="#00b8f4"/><stop offset="0.1943" stop-color="#0047ff"/><stop offset="0.1948" stop-color="#0022ff"/><stop offset="0.1953" stop-color="#000eff"/><stop offset="0.1963" stop-color="#0001ff"/><stop offset="0.2155" stop-color="#0002ff"/><stop offset="0.2166" stop-color="#0011ff"/><stop offset="0.2171" stop-color="#0027ff"/><stop offset="0.2186" stop-color="#009bf9"/><stop offset="0.2191" stop-color="#00adf6"/><stop offset="0.2196" stop-color="#00a7f7"/><stop offset="0.2211" stop-color="#005bfe"/><stop offset="0.2216" stop-color="#0053fe"/><stop offset="0.2247" stop-color="#005afe"/><stop offset="0.2287" stop-color="#002cff"/><stop offset="0.2312" stop-color="#0019ff"/><stop offset="0.2338" stop-color="#0010ff"/><stop offset="0.2383" stop-color="#000dff"/><stop offset="0.2413" stop-color="#001eff"/><stop offset="0.2454" stop-color="#0058fe"/><stop offset="0.2489" stop-color="#0056fe"/><stop offset="0.2494" stop-color="#006cfd"/><stop offset="0.2505" stop-color="#01cbf1"/><stop offset="0.251" stop-color="#10ebe5"/><stop offset="0.2515" stop-color="#16f0e2"/><stop offset="0.252" stop-color="#04dcec"/><stop offset="0.253" stop-color="#0069fd"/><stop offset="0.2535" stop-color="#0037ff"/><stop offset="0.254" stop-color="#0019ff"/><stop offset="0.255" stop-color="#0003ff"/><stop offset="0.2747" stop-color="#0004ff"/><stop offset="0.2752" stop-color="#000cff"/><stop offset="0.2758" stop-color="#001fff"/><stop offset="0.2763" stop-color="#0041ff"/><stop offset="0.2773" stop-color="#00abf6"/><stop offset="0.2778" stop-color="#02d2ef"/><stop offset="0.2783" stop-color="#04dcec"/><stop offset="0.2788" stop-color="#00caf2"/><stop offset="0.2798" stop-color="#0078fd"/><stop offset="0.2803" stop-color="#005dfe"/><stop offset="0.2808" stop-color="#0054fe"/><stop offset="0.2828" stop-color="#005cfe"/><stop offset="0.2864" stop-color="#0059fe"/><stop offset="0.2914" stop-color="#0016ff"/><stop offset="0.296" stop-color="#000dff"/><stop offset="0.2985" stop-color="#001aff"/><stop offset="0.3026" stop-color="#0058fe"/><stop offset="0.3076" stop-color="#0059fe"/><stop offset="0.3081" stop-color="#0069fd"/><stop offset="0.3086" stop-color="#008efb"/><stop offset="0.3091" stop-color="#00c0f3"/><stop offset="0.3097" stop-color="#0be7e8"/><stop offset="0.3102" stop-color="#1af3e0"/><stop offset="0.3107" stop-color="#0ce9e7"/><stop offset="0.3112" stop-color="#00bff3"/><stop offset="0.3122" stop-color="#0048ff"/><stop offset="0.3127" stop-color="#0023ff"/><stop offset="0.3132" stop-color="#000eff"/><stop offset="0.3137" stop-color="#0005ff"/><stop offset="0.3152" stop-color="#0000ff"/><stop offset="0.3334" stop-color="#0003ff"/><stop offset="0.3344" stop-color="#001aff"/><stop offset="0.335" stop-color="#0039ff"/><stop offset="0.3365" stop-color="#05deec"/><stop offset="0.337" stop-color="#16efe2"/><stop offset="0.3375" stop-color="#0de9e6"/><stop offset="0.338" stop-color="#00c9f2"/><stop offset="0.339" stop-color="#006ffd"/><stop offset="0.3395" stop-color="#005bfe"/><stop offset="0.3461" stop-color="#0058fe"/><stop offset="0.3511" stop-color="#0017ff"/><stop offset="0.3547" stop-color="#000bff"/><stop offset="0.3577" stop-color="#0014ff"/><stop offset="0.3613" stop-color="#004ffe"/><stop offset="0.3623" stop-color="#0059fe"/><stop offset="0.3663" stop-color="#0059fe"/><stop offset="0.3668" stop-color="#0069fd"/><stop offset="0.3673" stop-color="#008efb"/><stop offset="0.3678" stop-color="#00c0f3"/><stop offset="0.3683" stop-color="#0be7e8"/><stop offset="0.3689" stop-color="#1af3e0"/><stop offset="0.3694" stop-color="#0ce9e7"/><stop offset="0.3699" stop-color="#00bff3"/><stop offset="0.3709" stop-color="#0048ff"/><stop offset="0.3714" stop-color="#0023ff"/><stop offset="0.3719" stop-color="#000eff"/><stop offset="0.3729" stop-color="#0001ff"/><stop offset="0.3749" stop-color="#0000ff"/><stop offset="0.3911" stop-color="#0000ff"/><stop offset="0.3926" stop-color="#0007ff"/><stop offset="0.3931" stop-color="#0014ff"/><stop offset="0.3936" stop-color="#002eff"/><stop offset="0.3942" stop-color="#005bfe"/><stop offset="0.3952" stop-color="#02d2ef"/><stop offset="0.3957" stop-color="#14eee3"/><stop offset="0.3962" stop-color="#16f0e2"/><stop offset="0.3967" stop-color="#04d9ed"/><stop offset="0.3977" stop-color="#007bfd"/><stop offset="0.3982" stop-color="#005efe"/><stop offset="0.3987" stop-color="#0054fe"/><stop offset="0.4007" stop-color="#005cfe"/><stop offset="0.4053" stop-color="#005afe"/><stop offset="0.4068" stop-color="#004dff"/><stop offset="0.4108" stop-color="#0014ff"/><stop offset="0.4144" stop-color="#000eff"/><stop offset="0.4164" stop-color="#0021ff"/><stop offset="0.4189" stop-color="#004ffe"/><stop offset="0.42" stop-color="#0059fe"/><stop offset="0.423" stop-color="#005cfe"/><stop offset="0.425" stop-color="#0055fe"/><stop offset="0.4255" stop-color="#005efe"/><stop offset="0.426" stop-color="#007bfd"/><stop offset="0.427" stop-color="#04d9ed"/><stop offset="0.4275" stop-color="#16f0e2"/><stop offset="0.4281" stop-color="#15efe3"/><stop offset="0.4286" stop-color="#02d3ef"/><stop offset="0.4296" stop-color="#005dfe"/><stop offset="0.4301" stop-color="#002fff"/><stop offset="0.4306" stop-color="#0015ff"/><stop offset="0.4311" stop-color="#0008ff"/><stop offset="0.4326" stop-color="#0000ff"/><stop offset="0.4488" stop-color="#0000ff"/><stop offset="0.4513" stop-color="#0004ff"/><stop offset="0.4518" stop-color="#000dff"/><stop offset="0.4523" stop-color="#0021ff"/><stop offset="0.4528" stop-color="#0046ff"/><stop offset="0.4539" stop-color="#00bdf4"/><stop offset="0.4544" stop-color="#0be8e8"/><stop offset="0.4549" stop-color="#1af3e0"/><stop offset="0.4554" stop-color="#0be7e8"/><stop offset="0.4559" stop-color="#00c1f3"/><stop offset="0.4564" stop-color="#008ffb"/><stop offset="0.4569" stop-color="#006afd"/><stop offset="0.4574" stop-color="#0059fe"/><stop offset="0.465" stop-color="#005afe"/><stop offset="0.4665" stop-color="#004cff"/><stop offset="0.47" stop-color="#0016ff"/><stop offset="0.4726" stop-color="#000cff"/><stop offset="0.4751" stop-color="#001aff"/><stop offset="0.4781" stop-color="#004ffe"/><stop offset="0.4792" stop-color="#0059fe"/><stop offset="0.4822" stop-color="#005bfe"/><stop offset="0.4837" stop-color="#0053fe"/><stop offset="0.4842" stop-color="#0059fe"/><stop offset="0.4847" stop-color="#0072fd"/><stop offset="0.4857" stop-color="#02d0f0"/><stop offset="0.4862" stop-color="#12ede4"/><stop offset="0.4867" stop-color="#18f1e1"/><stop offset="0.4872" stop-color="#04dcec"/><stop offset="0.4883" stop-color="#0069fd"/><stop offset="0.4888" stop-color="#0037ff"/><stop offset="0.4893" stop-color="#0019ff"/><stop offset="0.4903" stop-color="#0003ff"/><stop offset="0.5075" stop-color="#0000ff"/><stop offset="0.51" stop-color="#0004ff"/><stop offset="0.511" stop-color="#001cff"/><stop offset="0.5115" stop-color="#003dff"/><stop offset="0.5125" stop-color="#00b1f6"/><stop offset="0.5131" stop-color="#06e3ea"/><stop offset="0.5136" stop-color="#1af2e0"/><stop offset="0.5141" stop-color="#11ece5"/><stop offset="0.5146" stop-color="#01ccf1"/><stop offset="0.5156" stop-color="#0070fd"/><stop offset="0.5161" stop-color="#005bfe"/><stop offset="0.5237" stop-color="#0059fe"/><stop offset="0.5247" stop-color="#0050fe"/><stop offset="0.5282" stop-color="#0017ff"/><stop offset="0.5313" stop-color="#000bff"/><stop offset="0.5343" stop-color="#001aff"/><stop offset="0.5373" stop-color="#004ffe"/><stop offset="0.5384" stop-color="#0059fe"/><stop offset="0.5414" stop-color="#005bfe"/><stop offset="0.5429" stop-color="#0053fe"/><stop offset="0.5434" stop-color="#0059fe"/><stop offset="0.5439" stop-color="#0072fd"/><stop offset="0.5449" stop-color="#02d0f0"/><stop offset="0.5454" stop-color="#12ede4"/><stop offset="0.5459" stop-color="#18f1e1"/><stop offset="0.5464" stop-color="#04dcec"/><stop offset="0.5475" stop-color="#0069fd"/><stop offset="0.548" stop-color="#0037ff"/><stop offset="0.5485" stop-color="#0019ff"/><stop offset="0.5495" stop-color="#0003ff"/><stop offset="0.5667" stop-color="#0000ff"/><stop offset="0.5687" stop-color="#0003ff"/><stop offset="0.5697" stop-color="#0017ff"/><stop offset="0.5702" stop-color="#0035ff"/><stop offset="0.5707" stop-color="#0066fd"/><stop offset="0.5717" stop-color="#04daed"/><stop offset="0.5723" stop-color="#17f0e2"/><stop offset="0.5728" stop-color="#12ede4"/><stop offset="0.5733" stop-color="#02d0f0"/><stop offset="0.5743" stop-color="#0072fd"/><stop offset="0.5748" stop-color="#0058fe"/><stop offset="0.5753" stop-color="#0052fe"/><stop offset="0.5773" stop-color="#005cfe"/><stop offset="0.5824" stop-color="#005afe"/><stop offset="0.5839" stop-color="#004cff"/><stop offset="0.5874" stop-color="#0016ff"/><stop offset="0.5905" stop-color="#000bff"/><stop offset="0.593" stop-color="#0017ff"/><stop offset="0.596" stop-color="#004efe"/><stop offset="0.597" stop-color="#0059fe"/><stop offset="0.6021" stop-color="#0059fe"/><stop offset="0.6026" stop-color="#0069fd"/><stop offset="0.6031" stop-color="#008efb"/><stop offset="0.6036" stop-color="#00c0f3"/><stop offset="0.6041" stop-color="#0be7e8"/><stop offset="0.6046" stop-color="#1af3e0"/><stop offset="0.6051" stop-color="#0ce9e7"/><stop offset="0.6056" stop-color="#00bff3"/><stop offset="0.6067" stop-color="#0048ff"/><stop offset="0.6072" stop-color="#0023ff"/><stop offset="0.6077" stop-color="#000eff"/><stop offset="0.6082" stop-color="#0005ff"/><stop offset="0.6254" stop-color="#0000ff"/><stop offset="0.6274" stop-color="#0002ff"/><stop offset="0.6284" stop-color="#0010ff"/><stop offset="0.6289" stop-color="#0027ff"/><stop offset="0.6294" stop-color="#0050fe"/><stop offset="0.6304" stop-color="#00c8f2"/><stop offset="0.6309" stop-color="#10ebe5"/><stop offset="0.6315" stop-color="#19f2e1"/><stop offset="0.632" stop-color="#05e2eb"/><stop offset="0.633" stop-color="#0085fc"/><stop offset="0.6335" stop-color="#0063fe"/><stop offset="0.634" stop-color="#0056fe"/><stop offset="0.6411" stop-color="#005afe"/><stop offset="0.6426" stop-color="#004cff"/><stop offset="0.6461" stop-color="#0018ff"/><stop offset="0.6492" stop-color="#000cff"/><stop offset="0.6517" stop-color="#0017ff"/><stop offset="0.6562" stop-color="#0059fe"/><stop offset="0.6593" stop-color="#005bfe"/><stop offset="0.6608" stop-color="#0053fe"/><stop offset="0.6613" stop-color="#0059fe"/><stop offset="0.6618" stop-color="#0072fd"/><stop offset="0.6628" stop-color="#02d0f0"/><stop offset="0.6633" stop-color="#12ede4"/><stop offset="0.6638" stop-color="#18f1e1"/><stop offset="0.6643" stop-color="#04dcec"/><stop offset="0.6654" stop-color="#0069fd"/><stop offset="0.6659" stop-color="#0037ff"/><stop offset="0.6664" stop-color="#0019ff"/><stop offset="0.6674" stop-color="#0003ff"/><stop offset="0.6846" stop-color="#0000ff"/><stop offset="0.6866" stop-color="#0002ff"/><stop offset="0.6876" stop-color="#0010ff"/><stop offset="0.6881" stop-color="#0027ff"/><stop offset="0.6886" stop-color="#0050fe"/><stop offset="0.6896" stop-color="#00c8f2"/><stop offset="0.6901" stop-color="#10ebe5"/><stop offset="0.6906" stop-color="#19f2e1"/><stop offset="0.6912" stop-color="#05e2eb"/><stop offset="0.6922" stop-color="#0085fc"/><stop offset="0.6927" stop-color="#0063fe"/><stop offset="0.6932" stop-color="#0056fe"/><stop offset="0.6993" stop-color="#0058fe"/><stop offset="0.7038" stop-color="#001cff"/><stop offset="0.7073" stop-color="#0010ff"/><stop offset="0.7109" stop-color="#001eff"/><stop offset="0.7149" stop-color="#0059fe"/><stop offset="0.72" stop-color="#0059fe"/><stop offset="0.7205" stop-color="#0069fd"/><stop offset="0.721" stop-color="#008efb"/><stop offset="0.7215" stop-color="#00c0f3"/><stop offset="0.722" stop-color="#0be7e8"/><stop offset="0.7225" stop-color="#1af3e0"/><stop offset="0.723" stop-color="#0ce9e7"/><stop offset="0.7235" stop-color="#00bff3"/><stop offset="0.7245" stop-color="#0048ff"/><stop offset="0.7251" stop-color="#0023ff"/><stop offset="0.7256" stop-color="#000eff"/><stop offset="0.7261" stop-color="#0005ff"/><stop offset="0.7271" stop-color="#0000ff"/><stop offset="0.7443" stop-color="#0000ff"/><stop offset="0.7458" stop-color="#0006ff"/><stop offset="0.7463" stop-color="#0010ff"/><stop offset="0.7468" stop-color="#0027ff"/><stop offset="0.7473" stop-color="#0050fe"/><stop offset="0.7483" stop-color="#00c8f2"/><stop offset="0.7488" stop-color="#10ebe5"/><stop offset="0.7493" stop-color="#18f1e1"/><stop offset="0.7498" stop-color="#05e0eb"/><stop offset="0.7509" stop-color="#0083fc"/><stop offset="0.7514" stop-color="#0062fe"/><stop offset="0.7519" stop-color="#0056fe"/><stop offset="0.7574" stop-color="#005afe"/><stop offset="0.7584" stop-color="#0053fe"/><stop offset="0.7625" stop-color="#001eff"/><stop offset="0.7655" stop-color="#0014ff"/><stop offset="0.7706" stop-color="#0019ff"/><stop offset="0.7751" stop-color="#0058fe"/><stop offset="0.7767" stop-color="#005bfe"/><stop offset="0.7787" stop-color="#0051fe"/><stop offset="0.7792" stop-color="#0061fe"/><stop offset="0.7807" stop-color="#04ddec"/><stop offset="0.7812" stop-color="#0ce8e7"/><stop offset="0.7817" stop-color="#04d9ed"/><stop offset="0.7822" stop-color="#00abf7"/><stop offset="0.7832" stop-color="#003dff"/><stop offset="0.7837" stop-color="#001cff"/><stop offset="0.7848" stop-color="#0004ff"/><stop offset="0.804" stop-color="#0002ff"/><stop offset="0.805" stop-color="#000fff"/><stop offset="0.8055" stop-color="#0025ff"/><stop offset="0.806" stop-color="#004cff"/><stop offset="0.807" stop-color="#00c0f3"/><stop offset="0.8075" stop-color="#08e5e9"/><stop offset="0.808" stop-color="#0febe5"/><stop offset="0.8085" stop-color="#03d8ee"/><stop offset="0.8096" stop-color="#007efc"/><stop offset="0.8101" stop-color="#0060fe"/><stop offset="0.8106" stop-color="#0055fe"/><stop offset="0.8126" stop-color="#005cfe"/><stop offset="0.8156" stop-color="#0058fe"/><stop offset="0.8207" stop-color="#001dff"/><stop offset="0.8242" stop-color="#000fff"/><stop offset="0.8293" stop-color="#0013ff"/><stop offset="0.8349" stop-color="#005afe"/><stop offset="0.8379" stop-color="#0051fe"/><stop offset="0.8384" stop-color="#005efe"/><stop offset="0.8394" stop-color="#0099f9"/><stop offset="0.8399" stop-color="#00aff6"/><stop offset="0.8404" stop-color="#00adf6"/><stop offset="0.8409" stop-color="#0094fa"/><stop offset="0.8419" stop-color="#003fff"/><stop offset="0.8424" stop-color="#0020ff"/><stop offset="0.8435" stop-color="#0005ff"/><stop offset="0.8632" stop-color="#0002ff"/><stop offset="0.8642" stop-color="#000fff"/><stop offset="0.8647" stop-color="#0022ff"/><stop offset="0.8652" stop-color="#0044ff"/><stop offset="0.8662" stop-color="#00a2f8"/><stop offset="0.8667" stop-color="#00bff3"/><stop offset="0.8672" stop-color="#00c1f3"/><stop offset="0.8677" stop-color="#00a8f7"/><stop offset="0.8688" stop-color="#0063fe"/><stop offset="0.8693" stop-color="#0052fe"/><stop offset="0.8713" stop-color="#005bfe"/><stop offset="0.8733" stop-color="#0059fe"/><stop offset="0.8799" stop-color="#0018ff"/><stop offset="0.8824" stop-color="#000cff"/><stop offset="0.89" stop-color="#0010ff"/><stop offset="0.8951" stop-color="#0045ff"/><stop offset="0.8971" stop-color="#003cff"/><stop offset="0.8991" stop-color="#0068fd"/><stop offset="0.8996" stop-color="#005efe"/><stop offset="0.9011" stop-color="#001aff"/><stop offset="0.9016" stop-color="#000cff"/><stop offset="0.9027" stop-color="#0002ff"/><stop offset="0.9219" stop-color="#0001ff"/><stop offset="0.9234" stop-color="#0012ff"/><stop offset="0.9239" stop-color="#0026ff"/><stop offset="0.9254" stop-color="#0081fc"/><stop offset="0.9259" stop-color="#008bfb"/><stop offset="0.9264" stop-color="#0082fc"/><stop offset="0.9274" stop-color="#0059fe"/><stop offset="0.9279" stop-color="#004ffe"/><stop offset="0.9305" stop-color="#005afe"/><stop offset="0.9345" stop-color="#0042ff"/><stop offset="0.9467" stop-color="#0024ff"/><stop offset="0.9507" stop-color="#0021ff"/><stop offset="0.9558" stop-color="#0029ff"/><stop offset="0.9578" stop-color="#0045ff"/><stop offset="0.9583" stop-color="#0044ff"/><stop offset="0.9603" stop-color="#000cff"/><stop offset="0.9618" stop-color="#0001ff"/><stop offset="0.9998" stop-color="#0000ff"/></linearGradient>
<linearGradient id="bh1" gradientUnits="userSpaceOnUse" x1="309.90" y1="0" x2="311.96" y2="0"><stop offset="0" stop-color="#fff" stop-opacity="0"/><stop offset="1" stop-color="#fff" stop-opacity="1"/></linearGradient>
<mask id="bm1" maskUnits="userSpaceOnUse" x="308.90" y="75.5" width="7.35" height="998.2"><rect x="308.90" y="75.5" width="7.35" height="998.2" fill="url(#bh1)"/></mask>
<linearGradient id="br2" gradientUnits="userSpaceOnUse" x1="0" y1="80.5" x2="0" y2="1068.7"><stop offset="0" stop-color="#0000ff"/><stop offset="0.0379" stop-color="#0000ff"/><stop offset="0.0395" stop-color="#0004ff"/><stop offset="0.0425" stop-color="#0025ff"/><stop offset="0.0455" stop-color="#0010ff"/><stop offset="0.0683" stop-color="#0010ff"/><stop offset="0.0724" stop-color="#001aff"/><stop offset="0.0744" stop-color="#0036ff"/><stop offset="0.0754" stop-color="#002fff"/><stop offset="0.0774" stop-color="#0007ff"/><stop offset="0.0789" stop-color="#0000ff"/><stop offset="0.0971" stop-color="#0001ff"/><stop offset="0.0987" stop-color="#000aff"/><stop offset="0.1002" stop-color="#0023ff"/><stop offset="0.1012" stop-color="#002bff"/><stop offset="0.1032" stop-color="#0019ff"/><stop offset="0.1068" stop-color="#0011ff"/><stop offset="0.1204" stop-color="#0010ff"/><stop offset="0.124" stop-color="#001aff"/><stop offset="0.1305" stop-color="#0040ff"/><stop offset="0.1316" stop-color="#004efe"/><stop offset="0.1331" stop-color="#0078fd"/><stop offset="0.1336" stop-color="#0076fd"/><stop offset="0.1341" stop-color="#0067fd"/><stop offset="0.1351" stop-color="#0035ff"/><stop offset="0.1361" stop-color="#0010ff"/><stop offset="0.1376" stop-color="#0001ff"/><stop offset="0.1563" stop-color="#0001ff"/><stop offset="0.1579" stop-color="#0008ff"/><stop offset="0.1604" stop-color="#002aff"/><stop offset="0.1715" stop-color="#000dff"/><stop offset="0.1786" stop-color="#000bff"/><stop offset="0.1816" stop-color="#001aff"/><stop offset="0.1862" stop-color="#0052fe"/><stop offset="0.1897" stop-color="#0059fe"/><stop offset="0.1902" stop-color="#0066fd"/><stop offset="0.1918" stop-color="#00bcf4"/><stop offset="0.1923" stop-color="#01ccf1"/><stop offset="0.1928" stop-color="#00c6f2"/><stop offset="0.1933" stop-color="#00abf7"/><stop offset="0.1943" stop-color="#0054fe"/><stop offset="0.1948" stop-color="#0030ff"/><stop offset="0.1953" stop-color="#0019ff"/><stop offset="0.1958" stop-color="#000bff"/><stop offset="0.1968" stop-color="#0001ff"/><stop offset="0.2155" stop-color="#0004ff"/><stop offset="0.2166" stop-color="#0014ff"/><stop offset="0.2176" stop-color="#0042ff"/><stop offset="0.2186" stop-color="#0080fc"/><stop offset="0.2191" stop-color="#0092fa"/><stop offset="0.2196" stop-color="#0093fa"/><stop offset="0.2216" stop-color="#0057fe"/><stop offset="0.2252" stop-color="#0053fe"/><stop offset="0.2292" stop-color="#0028ff"/><stop offset="0.2322" stop-color="#0014ff"/><stop offset="0.2383" stop-color="#000dff"/><stop offset="0.2413" stop-color="#001dff"/><stop offset="0.2454" stop-color="#0053fe"/><stop offset="0.2484" stop-color="#0053fe"/><stop offset="0.2489" stop-color="#005bfe"/><stop offset="0.2494" stop-color="#006ffd"/><stop offset="0.251" stop-color="#01ccf1"/><stop offset="0.2515" stop-color="#02d4ef"/><stop offset="0.252" stop-color="#00c5f2"/><stop offset="0.2525" stop-color="#00a1f8"/><stop offset="0.2535" stop-color="#0046ff"/><stop offset="0.254" stop-color="#0026ff"/><stop offset="0.2545" stop-color="#0012ff"/><stop offset="0.2555" stop-color="#0003ff"/><stop offset="0.2742" stop-color="#0002ff"/><stop offset="0.2752" stop-color="#0010ff"/><stop offset="0.2758" stop-color="#0022ff"/><stop offset="0.2763" stop-color="#003fff"/><stop offset="0.2773" stop-color="#0090fb"/><stop offset="0.2778" stop-color="#00aff6"/><stop offset="0.2783" stop-color="#00bdf4"/><stop offset="0.2788" stop-color="#00b5f5"/><stop offset="0.2803" stop-color="#0067fd"/><stop offset="0.2813" stop-color="#0054fe"/><stop offset="0.2864" stop-color="#0055fe"/><stop offset="0.2914" stop-color="#0018ff"/><stop offset="0.296" stop-color="#000dff"/><stop offset="0.2985" stop-color="#001aff"/><stop offset="0.3026" stop-color="#0053fe"/><stop offset="0.3076" stop-color="#005cfe"/><stop offset="0.3081" stop-color="#006cfd"/><stop offset="0.3097" stop-color="#00caf1"/><stop offset="0.3102" stop-color="#03d7ee"/><stop offset="0.3107" stop-color="#02d0f0"/><stop offset="0.3112" stop-color="#00b2f5"/><stop offset="0.3122" stop-color="#0057fe"/><stop offset="0.3127" stop-color="#0032ff"/><stop offset="0.3132" stop-color="#0019ff"/><stop offset="0.3142" stop-color="#0004ff"/><stop offset="0.3152" stop-color="#0000ff"/><stop offset="0.3334" stop-color="#0005ff"/><stop offset="0.3344" stop-color="#001eff"/><stop offset="0.335" stop-color="#003aff"/><stop offset="0.3365" stop-color="#00bbf4"/><stop offset="0.337" stop-color="#02d1ef"/><stop offset="0.3375" stop-color="#02d1ef"/><stop offset="0.338" stop-color="#00bdf4"/><stop offset="0.339" stop-color="#007bfd"/><stop offset="0.3395" stop-color="#0064fe"/><stop offset="0.34" stop-color="#0059fe"/><stop offset="0.3456" stop-color="#0056fe"/><stop offset="0.3471" stop-color="#004cff"/><stop offset="0.3522" stop-color="#0011ff"/><stop offset="0.3567" stop-color="#000eff"/><stop offset="0.3587" stop-color="#0020ff"/><stop offset="0.3623" stop-color="#0053fe"/><stop offset="0.3663" stop-color="#005cfe"/><stop offset="0.3668" stop-color="#006cfd"/><stop offset="0.3683" stop-color="#00caf1"/><stop offset="0.3689" stop-color="#03d7ee"/><stop offset="0.3694" stop-color="#02d0f0"/><stop offset="0.3699" stop-color="#00b2f5"/><stop offset="0.3709" stop-color="#0057fe"/><stop offset="0.3714" stop-color="#0032ff"/><stop offset="0.3719" stop-color="#0019ff"/><stop offset="0.3729" stop-color="#0004ff"/><stop offset="0.3739" stop-color="#0000ff"/><stop offset="0.3921" stop-color="#0004ff"/><stop offset="0.3931" stop-color="#0018ff"/><stop offset="0.3936" stop-color="#0030ff"/><stop offset="0.3942" stop-color="#0055fe"/><stop offset="0.3952" stop-color="#00b0f6"/><stop offset="0.3957" stop-color="#01cef0"/><stop offset="0.3962" stop-color="#03d6ee"/><stop offset="0.3967" stop-color="#00c8f2"/><stop offset="0.3982" stop-color="#006afd"/><stop offset="0.3987" stop-color="#005afe"/><stop offset="0.3992" stop-color="#0054fe"/><stop offset="0.4028" stop-color="#0059fe"/><stop offset="0.4058" stop-color="#0054fe"/><stop offset="0.4103" stop-color="#001aff"/><stop offset="0.4119" stop-color="#000fff"/><stop offset="0.4139" stop-color="#000dff"/><stop offset="0.4154" stop-color="#0014ff"/><stop offset="0.4189" stop-color="#0049ff"/><stop offset="0.4205" stop-color="#0056fe"/><stop offset="0.425" stop-color="#0057fe"/><stop offset="0.4255" stop-color="#0062fe"/><stop offset="0.426" stop-color="#007afd"/><stop offset="0.427" stop-color="#00bdf4"/><stop offset="0.4275" stop-color="#02d3ef"/><stop offset="0.4281" stop-color="#03d5ee"/><stop offset="0.4286" stop-color="#00c0f3"/><stop offset="0.4301" stop-color="#003fff"/><stop offset="0.4306" stop-color="#0021ff"/><stop offset="0.4316" stop-color="#0006ff"/><stop offset="0.4331" stop-color="#0000ff"/><stop offset="0.4503" stop-color="#0001ff"/><stop offset="0.4513" stop-color="#0007ff"/><stop offset="0.4523" stop-color="#0025ff"/><stop offset="0.4528" stop-color="#0045ff"/><stop offset="0.4539" stop-color="#00a0f8"/><stop offset="0.4544" stop-color="#00c6f2"/><stop offset="0.4549" stop-color="#03d6ee"/><stop offset="0.4554" stop-color="#02d1ef"/><stop offset="0.4559" stop-color="#00b9f4"/><stop offset="0.4569" stop-color="#0077fd"/><stop offset="0.4574" stop-color="#0061fe"/><stop offset="0.4579" stop-color="#0057fe"/><stop offset="0.465" stop-color="#0056fe"/><stop offset="0.4665" stop-color="#0049ff"/><stop offset="0.47" stop-color="#0018ff"/><stop offset="0.4726" stop-color="#000cff"/><stop offset="0.4751" stop-color="#0019ff"/><stop offset="0.4792" stop-color="#0053fe"/><stop offset="0.4837" stop-color="#0055fe"/><stop offset="0.4842" stop-color="#005efe"/><stop offset="0.4847" stop-color="#0073fd"/><stop offset="0.4857" stop-color="#00b6f5"/><stop offset="0.4862" stop-color="#02cff0"/><stop offset="0.4867" stop-color="#03d5ee"/><stop offset="0.4872" stop-color="#00c6f2"/><stop offset="0.4878" stop-color="#00a1f8"/><stop offset="0.4888" stop-color="#0046ff"/><stop offset="0.4893" stop-color="#0026ff"/><stop offset="0.4898" stop-color="#0012ff"/><stop offset="0.4908" stop-color="#0003ff"/><stop offset="0.4933" stop-color="#0000ff"/><stop offset="0.5085" stop-color="#0000ff"/><stop offset="0.51" stop-color="#0006ff"/><stop offset="0.511" stop-color="#0020ff"/><stop offset="0.5115" stop-color="#003dff"/><stop offset="0.5131" stop-color="#00c0f3"/><stop offset="0.5136" stop-color="#03d5ee"/><stop offset="0.5141" stop-color="#03d5ee"/><stop offset="0.5146" stop-color="#00c0f3"/><stop offset="0.5156" stop-color="#007dfc"/><stop offset="0.5161" stop-color="#0065fd"/><stop offset="0.5166" stop-color="#0059fe"/><stop offset="0.5237" stop-color="#0055fe"/><stop offset="0.5287" stop-color="#0014ff"/><stop offset="0.5308" stop-color="#000cff"/><stop offset="0.5328" stop-color="#000eff"/><stop offset="0.5348" stop-color="#0020ff"/><stop offset="0.5384" stop-color="#0053fe"/><stop offset="0.5429" stop-color="#0055fe"/><stop offset="0.5434" stop-color="#005efe"/><stop offset="0.5439" stop-color="#0073fd"/><stop offset="0.5449" stop-color="#00b6f5"/><stop offset="0.5454" stop-color="#02cff0"/><stop offset="0.5459" stop-color="#03d5ee"/><stop offset="0.5464" stop-color="#00c6f2"/><stop offset="0.547" stop-color="#00a1f8"/><stop offset="0.548" stop-color="#0046ff"/><stop offset="0.5485" stop-color="#0026ff"/><stop offset="0.5495" stop-color="#0008ff"/><stop offset="0.551" stop-color="#0000ff"/><stop offset="0.5672" stop-color="#0000ff"/><stop offset="0.5687" stop-color="#0005ff"/><stop offset="0.5697" stop-color="#001cff"/><stop offset="0.5702" stop-color="#0036ff"/><stop offset="0.5717" stop-color="#00b8f5"/><stop offset="0.5723" stop-color="#02d1ef"/><stop offset="0.5728" stop-color="#03d4ef"/><stop offset="0.5733" stop-color="#00c2f3"/><stop offset="0.5743" stop-color="#007efc"/><stop offset="0.5748" stop-color="#0064fe"/><stop offset="0.5753" stop-color="#0056fe"/><stop offset="0.5824" stop-color="#0056fe"/><stop offset="0.5839" stop-color="#0049ff"/><stop offset="0.5874" stop-color="#0018ff"/><stop offset="0.5905" stop-color="#000cff"/><stop offset="0.593" stop-color="#0017ff"/><stop offset="0.597" stop-color="#0053fe"/><stop offset="0.6021" stop-color="#005cfe"/><stop offset="0.6026" stop-color="#006cfd"/><stop offset="0.6041" stop-color="#00caf1"/><stop offset="0.6046" stop-color="#03d7ee"/><stop offset="0.6051" stop-color="#02d0f0"/><stop offset="0.6056" stop-color="#00b2f5"/><stop offset="0.6067" stop-color="#0057fe"/><stop offset="0.6072" stop-color="#0032ff"/><stop offset="0.6077" stop-color="#0019ff"/><stop offset="0.6087" stop-color="#0004ff"/><stop offset="0.6102" stop-color="#0000ff"/><stop offset="0.6274" stop-color="#0003ff"/><stop offset="0.6284" stop-color="#0015ff"/><stop offset="0.6289" stop-color="#002aff"/><stop offset="0.6294" stop-color="#004dff"/><stop offset="0.6304" stop-color="#00a8f7"/><stop offset="0.6309" stop-color="#01cbf1"/><stop offset="0.6315" stop-color="#03d6ee"/><stop offset="0.632" stop-color="#01cdf0"/><stop offset="0.6335" stop-color="#0070fd"/><stop offset="0.634" stop-color="#005dfe"/><stop offset="0.6345" stop-color="#0056fe"/><stop offset="0.6411" stop-color="#0056fe"/><stop offset="0.6426" stop-color="#004aff"/><stop offset="0.6461" stop-color="#0019ff"/><stop offset="0.6476" stop-color="#000fff"/><stop offset="0.6512" stop-color="#0013ff"/><stop offset="0.6552" stop-color="#0049ff"/><stop offset="0.6567" stop-color="#0056fe"/><stop offset="0.6608" stop-color="#0055fe"/><stop offset="0.6613" stop-color="#005efe"/><stop offset="0.6618" stop-color="#0073fd"/><stop offset="0.6628" stop-color="#00b6f5"/><stop offset="0.6633" stop-color="#02cff0"/><stop offset="0.6638" stop-color="#03d5ee"/><stop offset="0.6643" stop-color="#00c6f2"/><stop offset="0.6648" stop-color="#00a1f8"/><stop offset="0.6659" stop-color="#0046ff"/><stop offset="0.6664" stop-color="#0026ff"/><stop offset="0.6674" stop-color="#0008ff"/><stop offset="0.6689" stop-color="#0000ff"/><stop offset="0.6841" stop-color="#0000ff"/><stop offset="0.6866" stop-color="#0003ff"/><stop offset="0.6876" stop-color="#0015ff"/><stop offset="0.6881" stop-color="#002aff"/><stop offset="0.6886" stop-color="#004dff"/><stop offset="0.6896" stop-color="#00a8f7"/><stop offset="0.6901" stop-color="#01cbf1"/><stop offset="0.6906" stop-color="#03d6ee"/><stop offset="0.6912" stop-color="#01cdf0"/><stop offset="0.6927" stop-color="#0070fd"/><stop offset="0.6932" stop-color="#005dfe"/><stop offset="0.6937" stop-color="#0056fe"/><stop offset="0.6993" stop-color="#0054fe"/><stop offset="0.7038" stop-color="#001dff"/><stop offset="0.7073" stop-color="#0010ff"/><stop offset="0.7109" stop-color="#001dff"/><stop offset="0.7149" stop-color="#0053fe"/><stop offset="0.72" stop-color="#005cfe"/><stop offset="0.7205" stop-color="#006cfd"/><stop offset="0.722" stop-color="#00caf1"/><stop offset="0.7225" stop-color="#03d7ee"/><stop offset="0.723" stop-color="#02d0f0"/><stop offset="0.7235" stop-color="#00b2f5"/><stop offset="0.7245" stop-color="#0057fe"/><stop offset="0.7251" stop-color="#0032ff"/><stop offset="0.7256" stop-color="#0019ff"/><stop offset="0.7266" stop-color="#0004ff"/><stop offset="0.7276" stop-color="#0000ff"/><stop offset="0.7453" stop-color="#0003ff"/><stop offset="0.7463" stop-color="#0015ff"/><stop offset="0.7468" stop-color="#002aff"/><stop offset="0.7473" stop-color="#004dff"/><stop offset="0.7483" stop-color="#00a8f7"/><stop offset="0.7488" stop-color="#00caf1"/><stop offset="0.7493" stop-color="#03d6ee"/><stop offset="0.7498" stop-color="#01ccf1"/><stop offset="0.7514" stop-color="#006ffd"/><stop offset="0.7519" stop-color="#005cfe"/><stop offset="0.7524" stop-color="#0055fe"/><stop offset="0.7574" stop-color="#0056fe"/><stop offset="0.763" stop-color="#001bff"/><stop offset="0.7676" stop-color="#0012ff"/><stop offset="0.7711" stop-color="#001dff"/><stop offset="0.7751" stop-color="#0053fe"/><stop offset="0.7787" stop-color="#0056fe"/><stop offset="0.7792" stop-color="#0065fd"/><stop offset="0.7807" stop-color="#00bdf4"/><stop offset="0.7812" stop-color="#00caf2"/><stop offset="0.7817" stop-color="#00c0f3"/><stop offset="0.7822" stop-color="#00a1f8"/><stop offset="0.7832" stop-color="#004bff"/><stop offset="0.7837" stop-color="#002aff"/><stop offset="0.7843" stop-color="#0015ff"/><stop offset="0.7853" stop-color="#0003ff"/><stop offset="0.7863" stop-color="#0000ff"/><stop offset="0.804" stop-color="#0003ff"/><stop offset="0.805" stop-color="#0013ff"/><stop offset="0.8055" stop-color="#0028ff"/><stop offset="0.806" stop-color="#0049ff"/><stop offset="0.807" stop-color="#00a1f8"/><stop offset="0.8075" stop-color="#00c2f3"/><stop offset="0.808" stop-color="#01cef0"/><stop offset="0.8085" stop-color="#00c4f3"/><stop offset="0.8101" stop-color="#006bfd"/><stop offset="0.8106" stop-color="#005bfe"/><stop offset="0.8111" stop-color="#0054fe"/><stop offset="0.8156" stop-color="#0055fe"/><stop offset="0.8212" stop-color="#001aff"/><stop offset="0.8247" stop-color="#000eff"/><stop offset="0.8293" stop-color="#0013ff"/><stop offset="0.8343" stop-color="#0051fe"/><stop offset="0.8379" stop-color="#0054fe"/><stop offset="0.8384" stop-color="#005ffe"/><stop offset="0.8399" stop-color="#0095fa"/><stop offset="0.8404" stop-color="#0095fa"/><stop offset="0.8409" stop-color="#0085fc"/><stop offset="0.8424" stop-color="#002bff"/><stop offset="0.8429" stop-color="#0017ff"/><stop offset="0.844" stop-color="#0004ff"/><stop offset="0.8627" stop-color="#0001ff"/><stop offset="0.8642" stop-color="#0012ff"/><stop offset="0.8652" stop-color="#0040ff"/><stop offset="0.8662" stop-color="#0087fc"/><stop offset="0.8667" stop-color="#009ff8"/><stop offset="0.8672" stop-color="#00a5f7"/><stop offset="0.8677" stop-color="#009bf9"/><stop offset="0.8693" stop-color="#005afe"/><stop offset="0.8698" stop-color="#0052fe"/><stop offset="0.8723" stop-color="#0058fe"/><stop offset="0.8738" stop-color="#0053fe"/><stop offset="0.8799" stop-color="#0019ff"/><stop offset="0.8829" stop-color="#000bff"/><stop offset="0.89" stop-color="#0010ff"/><stop offset="0.8951" stop-color="#003fff"/><stop offset="0.8971" stop-color="#003eff"/><stop offset="0.8991" stop-color="#0058fe"/><stop offset="0.8996" stop-color="#0052fe"/><stop offset="0.9016" stop-color="#0012ff"/><stop offset="0.9032" stop-color="#0001ff"/><stop offset="0.9219" stop-color="#0001ff"/><stop offset="0.9234" stop-color="#0014ff"/><stop offset="0.9254" stop-color="#006afd"/><stop offset="0.9259" stop-color="#0076fd"/><stop offset="0.9264" stop-color="#0074fd"/><stop offset="0.9279" stop-color="#0053fe"/><stop offset="0.9285" stop-color="#004ffe"/><stop offset="0.931" stop-color="#0054fe"/><stop offset="0.935" stop-color="#003fff"/><stop offset="0.9472" stop-color="#0022ff"/><stop offset="0.9512" stop-color="#0020ff"/><stop offset="0.9558" stop-color="#0029ff"/><stop offset="0.9583" stop-color="#003aff"/><stop offset="0.9608" stop-color="#0008ff"/><stop offset="0.9624" stop-color="#0001ff"/><stop offset="0.9998" stop-color="#0000ff"/></linearGradient>
<linearGradient id="bh2" gradientUnits="userSpaceOnUse" x1="311.96" y1="0" x2="315.25" y2="0"><stop offset="0" stop-color="#fff" stop-opacity="0"/><stop offset="1" stop-color="#fff" stop-opacity="1"/></linearGradient>
<mask id="bm2" maskUnits="userSpaceOnUse" x="310.96" y="75.5" width="10.57" height="998.2"><rect x="310.96" y="75.5" width="10.57" height="998.2" fill="url(#bh2)"/></mask>
<linearGradient id="br3" gradientUnits="userSpaceOnUse" x1="0" y1="80.5" x2="0" y2="1068.7"><stop offset="0" stop-color="#0000ff"/><stop offset="0.0374" stop-color="#0000ff"/><stop offset="0.0395" stop-color="#0005ff"/><stop offset="0.0425" stop-color="#001dff"/><stop offset="0.0465" stop-color="#000fff"/><stop offset="0.0678" stop-color="#000fff"/><stop offset="0.0718" stop-color="#0016ff"/><stop offset="0.0749" stop-color="#002aff"/><stop offset="0.0779" stop-color="#0007ff"/><stop offset="0.0799" stop-color="#0000ff"/><stop offset="0.0966" stop-color="#0001ff"/><stop offset="0.0982" stop-color="#0006ff"/><stop offset="0.1012" stop-color="#0021ff"/><stop offset="0.1073" stop-color="#0010ff"/><stop offset="0.1204" stop-color="#0010ff"/><stop offset="0.124" stop-color="#0018ff"/><stop offset="0.13" stop-color="#0039ff"/><stop offset="0.1331" stop-color="#005efe"/><stop offset="0.1341" stop-color="#0056fe"/><stop offset="0.1366" stop-color="#000fff"/><stop offset="0.1386" stop-color="#0001ff"/><stop offset="0.1563" stop-color="#0001ff"/><stop offset="0.1609" stop-color="#0023ff"/><stop offset="0.172" stop-color="#000cff"/><stop offset="0.1781" stop-color="#000bff"/><stop offset="0.1816" stop-color="#0019ff"/><stop offset="0.1862" stop-color="#004bff"/><stop offset="0.1892" stop-color="#0055fe"/><stop offset="0.1902" stop-color="#0065fd"/><stop offset="0.1918" stop-color="#0097fa"/><stop offset="0.1923" stop-color="#00a0f8"/><stop offset="0.1928" stop-color="#009ef8"/><stop offset="0.1933" stop-color="#0091fb"/><stop offset="0.1948" stop-color="#0040ff"/><stop offset="0.1958" stop-color="#0018ff"/><stop offset="0.1973" stop-color="#0003ff"/><stop offset="0.215" stop-color="#0003ff"/><stop offset="0.2166" stop-color="#0018ff"/><stop offset="0.2186" stop-color="#0061fe"/><stop offset="0.2196" stop-color="#0076fd"/><stop offset="0.2201" stop-color="#0074fd"/><stop offset="0.2221" stop-color="#0054fe"/><stop offset="0.2257" stop-color="#004aff"/><stop offset="0.2312" stop-color="#001aff"/><stop offset="0.2378" stop-color="#000dff"/><stop offset="0.2408" stop-color="#0018ff"/><stop offset="0.2454" stop-color="#004aff"/><stop offset="0.2484" stop-color="#0055fe"/><stop offset="0.2494" stop-color="#006cfd"/><stop offset="0.251" stop-color="#00a0f8"/><stop offset="0.2515" stop-color="#00a6f7"/><stop offset="0.252" stop-color="#009ff8"/><stop offset="0.2525" stop-color="#008dfb"/><stop offset="0.254" stop-color="#0038ff"/><stop offset="0.2545" stop-color="#0022ff"/><stop offset="0.255" stop-color="#0013ff"/><stop offset="0.256" stop-color="#0005ff"/><stop offset="0.2727" stop-color="#0000ff"/><stop offset="0.2742" stop-color="#0005ff"/><stop offset="0.2752" stop-color="#0015ff"/><stop offset="0.2763" stop-color="#003aff"/><stop offset="0.2778" stop-color="#0085fc"/><stop offset="0.2783" stop-color="#0092fa"/><stop offset="0.2793" stop-color="#008cfb"/><stop offset="0.2808" stop-color="#0060fe"/><stop offset="0.2818" stop-color="#0053fe"/><stop offset="0.2864" stop-color="#004ffe"/><stop offset="0.2919" stop-color="#0016ff"/><stop offset="0.296" stop-color="#000dff"/><stop offset="0.2985" stop-color="#0019ff"/><stop offset="0.3031" stop-color="#004efe"/><stop offset="0.3071" stop-color="#0057fe"/><stop offset="0.3081" stop-color="#006bfd"/><stop offset="0.3097" stop-color="#00a1f8"/><stop offset="0.3102" stop-color="#00aaf7"/><stop offset="0.3107" stop-color="#00a7f7"/><stop offset="0.3112" stop-color="#0098f9"/><stop offset="0.3127" stop-color="#0042ff"/><stop offset="0.3137" stop-color="#0018ff"/><stop offset="0.3147" stop-color="#0006ff"/><stop offset="0.3162" stop-color="#0000ff"/><stop offset="0.3329" stop-color="#0005ff"/><stop offset="0.3339" stop-color="#0014ff"/><stop offset="0.3344" stop-color="#0023ff"/><stop offset="0.335" stop-color="#0038ff"/><stop offset="0.3365" stop-color="#008efb"/><stop offset="0.337" stop-color="#00a0f8"/><stop offset="0.3375" stop-color="#00a7f7"/><stop offset="0.338" stop-color="#00a2f8"/><stop offset="0.3395" stop-color="#006efd"/><stop offset="0.3405" stop-color="#0058fe"/><stop offset="0.3461" stop-color="#004ffe"/><stop offset="0.3522" stop-color="#0013ff"/><stop offset="0.3562" stop-color="#000dff"/><stop offset="0.3582" stop-color="#0019ff"/><stop offset="0.3623" stop-color="#004bff"/><stop offset="0.3658" stop-color="#0057fe"/><stop offset="0.3668" stop-color="#006bfd"/><stop offset="0.3683" stop-color="#00a1f8"/><stop offset="0.3689" stop-color="#00aaf7"/><stop offset="0.3694" stop-color="#00a7f7"/><stop offset="0.3699" stop-color="#0098f9"/><stop offset="0.3714" stop-color="#0042ff"/><stop offset="0.3724" stop-color="#0018ff"/><stop offset="0.3734" stop-color="#0006ff"/><stop offset="0.3749" stop-color="#0000ff"/><stop offset="0.3916" stop-color="#0004ff"/><stop offset="0.3931" stop-color="#001dff"/><stop offset="0.3942" stop-color="#004bff"/><stop offset="0.3952" stop-color="#0087fc"/><stop offset="0.3957" stop-color="#009df9"/><stop offset="0.3962" stop-color="#00a8f7"/><stop offset="0.3967" stop-color="#00a6f7"/><stop offset="0.3987" stop-color="#0063fe"/><stop offset="0.3997" stop-color="#0053fe"/><stop offset="0.4053" stop-color="#0051fe"/><stop offset="0.4114" stop-color="#0014ff"/><stop offset="0.4144" stop-color="#000fff"/><stop offset="0.4159" stop-color="#0019ff"/><stop offset="0.4205" stop-color="#004ffe"/><stop offset="0.425" stop-color="#0059fe"/><stop offset="0.426" stop-color="#0073fd"/><stop offset="0.427" stop-color="#009af9"/><stop offset="0.4275" stop-color="#00a6f7"/><stop offset="0.4281" stop-color="#00a9f7"/><stop offset="0.4286" stop-color="#009ef8"/><stop offset="0.4291" stop-color="#0089fc"/><stop offset="0.4301" stop-color="#004dff"/><stop offset="0.4311" stop-color="#001fff"/><stop offset="0.4326" stop-color="#0004ff"/><stop offset="0.4498" stop-color="#0001ff"/><stop offset="0.4508" stop-color="#0006ff"/><stop offset="0.4518" stop-color="#0017ff"/><stop offset="0.4528" stop-color="#0040ff"/><stop offset="0.4544" stop-color="#0096fa"/><stop offset="0.4549" stop-color="#00a6f7"/><stop offset="0.4554" stop-color="#00aaf7"/><stop offset="0.4559" stop-color="#00a1f8"/><stop offset="0.4574" stop-color="#006bfd"/><stop offset="0.4584" stop-color="#0056fe"/><stop offset="0.465" stop-color="#0050fe"/><stop offset="0.4706" stop-color="#0016ff"/><stop offset="0.4726" stop-color="#000eff"/><stop offset="0.4751" stop-color="#0019ff"/><stop offset="0.4797" stop-color="#004ffe"/><stop offset="0.4837" stop-color="#0057fe"/><stop offset="0.4847" stop-color="#006ffd"/><stop offset="0.4862" stop-color="#00a3f8"/><stop offset="0.4867" stop-color="#00a8f7"/><stop offset="0.4872" stop-color="#00a1f8"/><stop offset="0.4878" stop-color="#008efb"/><stop offset="0.4893" stop-color="#0038ff"/><stop offset="0.4898" stop-color="#0022ff"/><stop offset="0.4903" stop-color="#0013ff"/><stop offset="0.4913" stop-color="#0005ff"/><stop offset="0.5075" stop-color="#0000ff"/><stop offset="0.5095" stop-color="#0005ff"/><stop offset="0.5105" stop-color="#0015ff"/><stop offset="0.5115" stop-color="#003bff"/><stop offset="0.5131" stop-color="#0092fa"/><stop offset="0.5136" stop-color="#00a4f8"/><stop offset="0.5141" stop-color="#00aaf7"/><stop offset="0.5146" stop-color="#00a4f7"/><stop offset="0.5161" stop-color="#006ffd"/><stop offset="0.5171" stop-color="#0058fe"/><stop offset="0.5237" stop-color="#004ffe"/><stop offset="0.5287" stop-color="#0017ff"/><stop offset="0.5313" stop-color="#000cff"/><stop offset="0.5343" stop-color="#0019ff"/><stop offset="0.5389" stop-color="#004ffe"/><stop offset="0.5429" stop-color="#0057fe"/><stop offset="0.5439" stop-color="#006ffd"/><stop offset="0.5454" stop-color="#00a3f8"/><stop offset="0.5459" stop-color="#00a8f7"/><stop offset="0.5464" stop-color="#00a1f8"/><stop offset="0.547" stop-color="#008efb"/><stop offset="0.5485" stop-color="#0038ff"/><stop offset="0.5495" stop-color="#0013ff"/><stop offset="0.5505" stop-color="#0005ff"/><stop offset="0.5525" stop-color="#0000ff"/><stop offset="0.5682" stop-color="#0004ff"/><stop offset="0.5692" stop-color="#0012ff"/><stop offset="0.5697" stop-color="#0021ff"/><stop offset="0.5702" stop-color="#0036ff"/><stop offset="0.5717" stop-color="#008cfb"/><stop offset="0.5723" stop-color="#009ff8"/><stop offset="0.5728" stop-color="#00a8f7"/><stop offset="0.5733" stop-color="#00a3f8"/><stop offset="0.5748" stop-color="#006ffd"/><stop offset="0.5758" stop-color="#0056fe"/><stop offset="0.5824" stop-color="#0050fe"/><stop offset="0.5879" stop-color="#0016ff"/><stop offset="0.5905" stop-color="#000cff"/><stop offset="0.593" stop-color="#0017ff"/><stop offset="0.5976" stop-color="#004efe"/><stop offset="0.6016" stop-color="#0057fe"/><stop offset="0.6026" stop-color="#006bfd"/><stop offset="0.6041" stop-color="#00a1f8"/><stop offset="0.6046" stop-color="#00aaf7"/><stop offset="0.6051" stop-color="#00a7f7"/><stop offset="0.6056" stop-color="#0098f9"/><stop offset="0.6077" stop-color="#002aff"/><stop offset="0.6082" stop-color="#0018ff"/><stop offset="0.6092" stop-color="#0006ff"/><stop offset="0.6112" stop-color="#0000ff"/><stop offset="0.6239" stop-color="#0000ff"/><stop offset="0.6264" stop-color="#0001ff"/><stop offset="0.6279" stop-color="#000eff"/><stop offset="0.6289" stop-color="#002dff"/><stop offset="0.6304" stop-color="#0082fc"/><stop offset="0.6309" stop-color="#009af9"/><stop offset="0.6315" stop-color="#00a7f7"/><stop offset="0.632" stop-color="#00a8f7"/><stop offset="0.6325" stop-color="#009ef8"/><stop offset="0.634" stop-color="#0067fd"/><stop offset="0.635" stop-color="#0055fe"/><stop offset="0.6411" stop-color="#0050fe"/><stop offset="0.6466" stop-color="#0017ff"/><stop offset="0.6492" stop-color="#000dff"/><stop offset="0.6517" stop-color="#0017ff"/><stop offset="0.6567" stop-color="#004ffe"/><stop offset="0.6608" stop-color="#0057fe"/><stop offset="0.6618" stop-color="#006ffd"/><stop offset="0.6633" stop-color="#00a3f8"/><stop offset="0.6638" stop-color="#00a8f7"/><stop offset="0.6643" stop-color="#00a1f8"/><stop offset="0.6648" stop-color="#008efb"/><stop offset="0.6664" stop-color="#0038ff"/><stop offset="0.6669" stop-color="#0022ff"/><stop offset="0.6674" stop-color="#0013ff"/><stop offset="0.6684" stop-color="#0005ff"/><stop offset="0.6831" stop-color="#0000ff"/><stop offset="0.6856" stop-color="#0001ff"/><stop offset="0.6871" stop-color="#000eff"/><stop offset="0.6881" stop-color="#002dff"/><stop offset="0.6896" stop-color="#0082fc"/><stop offset="0.6901" stop-color="#009af9"/><stop offset="0.6906" stop-color="#00a7f7"/><stop offset="0.6912" stop-color="#00a8f7"/><stop offset="0.6917" stop-color="#009ef8"/><stop offset="0.6932" stop-color="#0067fd"/><stop offset="0.6942" stop-color="#0055fe"/><stop offset="0.6993" stop-color="#004ffe"/><stop offset="0.7043" stop-color="#001bff"/><stop offset="0.7079" stop-color="#0010ff"/><stop offset="0.7109" stop-color="#001dff"/><stop offset="0.7154" stop-color="#004ffe"/><stop offset="0.7195" stop-color="#0057fe"/><stop offset="0.7205" stop-color="#006bfd"/><stop offset="0.722" stop-color="#00a1f8"/><stop offset="0.7225" stop-color="#00aaf7"/><stop offset="0.723" stop-color="#00a7f7"/><stop offset="0.7235" stop-color="#0098f9"/><stop offset="0.7251" stop-color="#0042ff"/><stop offset="0.7261" stop-color="#0018ff"/><stop offset="0.7271" stop-color="#0006ff"/><stop offset="0.7286" stop-color="#0000ff"/><stop offset="0.7433" stop-color="#0000ff"/><stop offset="0.7453" stop-color="#0007ff"/><stop offset="0.7463" stop-color="#001aff"/><stop offset="0.7468" stop-color="#002dff"/><stop offset="0.7488" stop-color="#0099f9"/><stop offset="0.7493" stop-color="#00a6f7"/><stop offset="0.7498" stop-color="#00a7f7"/><stop offset="0.7504" stop-color="#009df9"/><stop offset="0.7519" stop-color="#0066fd"/><stop offset="0.7529" stop-color="#0054fe"/><stop offset="0.7574" stop-color="#0051fe"/><stop offset="0.763" stop-color="#001dff"/><stop offset="0.7671" stop-color="#0012ff"/><stop offset="0.7706" stop-color="#0019ff"/><stop offset="0.7751" stop-color="#004aff"/><stop offset="0.7782" stop-color="#0052fe"/><stop offset="0.7792" stop-color="#0064fe"/><stop offset="0.7807" stop-color="#0096fa"/><stop offset="0.7812" stop-color="#009df9"/><stop offset="0.7817" stop-color="#0099f9"/><stop offset="0.7822" stop-color="#008afc"/><stop offset="0.7837" stop-color="#003aff"/><stop offset="0.7848" stop-color="#0015ff"/><stop offset="0.7858" stop-color="#0005ff"/><stop offset="0.7873" stop-color="#0000ff"/><stop offset="0.802" stop-color="#0000ff"/><stop offset="0.804" stop-color="#0006ff"/><stop offset="0.805" stop-color="#0019ff"/><stop offset="0.8055" stop-color="#002aff"/><stop offset="0.8075" stop-color="#0093fa"/><stop offset="0.808" stop-color="#009ff8"/><stop offset="0.8085" stop-color="#00a0f8"/><stop offset="0.809" stop-color="#0097fa"/><stop offset="0.8106" stop-color="#0064fe"/><stop offset="0.8116" stop-color="#0054fe"/><stop offset="0.8156" stop-color="#004ffe"/><stop offset="0.8212" stop-color="#001bff"/><stop offset="0.8252" stop-color="#000dff"/><stop offset="0.8298" stop-color="#0016ff"/><stop offset="0.8343" stop-color="#0049ff"/><stop offset="0.8379" stop-color="#0054fe"/><stop offset="0.8394" stop-color="#006ffd"/><stop offset="0.8404" stop-color="#0076fd"/><stop offset="0.8414" stop-color="#005efe"/><stop offset="0.8435" stop-color="#0015ff"/><stop offset="0.845" stop-color="#0003ff"/><stop offset="0.8622" stop-color="#0001ff"/><stop offset="0.8632" stop-color="#0006ff"/><stop offset="0.8642" stop-color="#0016ff"/><stop offset="0.8652" stop-color="#0039ff"/><stop offset="0.8662" stop-color="#0066fd"/><stop offset="0.8672" stop-color="#0081fc"/><stop offset="0.8677" stop-color="#0081fc"/><stop offset="0.8703" stop-color="#0051fe"/><stop offset="0.8738" stop-color="#004efe"/><stop offset="0.8804" stop-color="#0016ff"/><stop offset="0.8834" stop-color="#000bff"/><stop offset="0.8895" stop-color="#000eff"/><stop offset="0.8946" stop-color="#0034ff"/><stop offset="0.8991" stop-color="#0047ff"/><stop offset="0.9001" stop-color="#003bff"/><stop offset="0.9021" stop-color="#000fff"/><stop offset="0.9037" stop-color="#0002ff"/><stop offset="0.9214" stop-color="#0001ff"/><stop offset="0.9234" stop-color="#0016ff"/><stop offset="0.9254" stop-color="#0051fe"/><stop offset="0.9264" stop-color="#005ffe"/><stop offset="0.929" stop-color="#004dff"/><stop offset="0.9315" stop-color="#004dff"/><stop offset="0.9355" stop-color="#003cff"/><stop offset="0.9477" stop-color="#0020ff"/><stop offset="0.9517" stop-color="#0020ff"/><stop offset="0.9583" stop-color="#002fff"/><stop offset="0.9613" stop-color="#0008ff"/><stop offset="0.9629" stop-color="#0001ff"/><stop offset="0.9998" stop-color="#0000ff"/></linearGradient>
<linearGradient id="bh3" gradientUnits="userSpaceOnUse" x1="315.25" y1="0" x2="320.52" y2="0"><stop offset="0" stop-color="#fff" stop-opacity="0"/><stop offset="1" stop-color="#fff" stop-opacity="1"/></linearGradient>
<mask id="bm3" maskUnits="userSpaceOnUse" x="314.25" y="75.5" width="15.71" height="998.2"><rect x="314.25" y="75.5" width="15.71" height="998.2" fill="url(#bh3)"/></mask>
<linearGradient id="br4" gradientUnits="userSpaceOnUse" x1="0" y1="80.5" x2="0" y2="1068.7"><stop offset="0" stop-color="#0000ff"/><stop offset="0.0364" stop-color="#0000ff"/><stop offset="0.043" stop-color="#0014ff"/><stop offset="0.0476" stop-color="#000eff"/><stop offset="0.0668" stop-color="#000eff"/><stop offset="0.0744" stop-color="#001dff"/><stop offset="0.0804" stop-color="#0001ff"/><stop offset="0.0956" stop-color="#0001ff"/><stop offset="0.1017" stop-color="#0018ff"/><stop offset="0.1093" stop-color="#000eff"/><stop offset="0.1219" stop-color="#0011ff"/><stop offset="0.1331" stop-color="#0045ff"/><stop offset="0.1346" stop-color="#003aff"/><stop offset="0.1376" stop-color="#000cff"/><stop offset="0.1396" stop-color="#0001ff"/><stop offset="0.1553" stop-color="#0001ff"/><stop offset="0.1624" stop-color="#001dff"/><stop offset="0.1771" stop-color="#000aff"/><stop offset="0.1816" stop-color="#0018ff"/><stop offset="0.1857" stop-color="#003bff"/><stop offset="0.1892" stop-color="#0050fe"/><stop offset="0.1923" stop-color="#0072fd"/><stop offset="0.1938" stop-color="#0061fe"/><stop offset="0.1958" stop-color="#0027ff"/><stop offset="0.1968" stop-color="#0013ff"/><stop offset="0.1983" stop-color="#0004ff"/><stop offset="0.2125" stop-color="#0000ff"/><stop offset="0.2155" stop-color="#000bff"/><stop offset="0.2191" stop-color="#004cff"/><stop offset="0.2206" stop-color="#0057fe"/><stop offset="0.2262" stop-color="#003fff"/><stop offset="0.2327" stop-color="#0014ff"/><stop offset="0.2363" stop-color="#000dff"/><stop offset="0.2393" stop-color="#0010ff"/><stop offset="0.2479" stop-color="#004dff"/><stop offset="0.2515" stop-color="#0075fd"/><stop offset="0.2525" stop-color="#006afd"/><stop offset="0.2555" stop-color="#0018ff"/><stop offset="0.257" stop-color="#0006ff"/><stop offset="0.2712" stop-color="#0000ff"/><stop offset="0.2732" stop-color="#0004ff"/><stop offset="0.2747" stop-color="#0011ff"/><stop offset="0.2778" stop-color="#0059fe"/><stop offset="0.2793" stop-color="#006afd"/><stop offset="0.2823" stop-color="#0050fe"/><stop offset="0.2869" stop-color="#0044ff"/><stop offset="0.2925" stop-color="#0016ff"/><stop offset="0.2955" stop-color="#000eff"/><stop offset="0.298" stop-color="#0016ff"/><stop offset="0.3031" stop-color="#0042ff"/><stop offset="0.3066" stop-color="#0050fe"/><stop offset="0.3102" stop-color="#0079fd"/><stop offset="0.3117" stop-color="#0066fd"/><stop offset="0.3137" stop-color="#0029ff"/><stop offset="0.3147" stop-color="#0013ff"/><stop offset="0.3162" stop-color="#0004ff"/><stop offset="0.3177" stop-color="#0001ff"/><stop offset="0.3324" stop-color="#0006ff"/><stop offset="0.3339" stop-color="#0019ff"/><stop offset="0.337" stop-color="#006cfd"/><stop offset="0.338" stop-color="#0076fd"/><stop offset="0.3415" stop-color="#0051fe"/><stop offset="0.3466" stop-color="#0044ff"/><stop offset="0.3532" stop-color="#0011ff"/><stop offset="0.3562" stop-color="#000eff"/><stop offset="0.3658" stop-color="#0053fe"/><stop offset="0.3689" stop-color="#0079fd"/><stop offset="0.3704" stop-color="#0066fd"/><stop offset="0.3724" stop-color="#0029ff"/><stop offset="0.3734" stop-color="#0013ff"/><stop offset="0.3749" stop-color="#0004ff"/><stop offset="0.3764" stop-color="#0001ff"/><stop offset="0.3911" stop-color="#0005ff"/><stop offset="0.3926" stop-color="#0016ff"/><stop offset="0.3957" stop-color="#0069fd"/><stop offset="0.3967" stop-color="#0077fd"/><stop offset="0.3977" stop-color="#0072fd"/><stop offset="0.4002" stop-color="#0051fe"/><stop offset="0.4058" stop-color="#0046ff"/><stop offset="0.4108" stop-color="#001bff"/><stop offset="0.4134" stop-color="#0010ff"/><stop offset="0.4159" stop-color="#0019ff"/><stop offset="0.4205" stop-color="#0043ff"/><stop offset="0.4245" stop-color="#0051fe"/><stop offset="0.427" stop-color="#0073fd"/><stop offset="0.4281" stop-color="#0077fd"/><stop offset="0.4291" stop-color="#006afd"/><stop offset="0.4321" stop-color="#0017ff"/><stop offset="0.4336" stop-color="#0005ff"/><stop offset="0.4488" stop-color="#0001ff"/><stop offset="0.4513" stop-color="#0012ff"/><stop offset="0.4523" stop-color="#0028ff"/><stop offset="0.4544" stop-color="#0065fd"/><stop offset="0.4559" stop-color="#0078fd"/><stop offset="0.4594" stop-color="#0051fe"/><stop offset="0.465" stop-color="#0048ff"/><stop offset="0.4706" stop-color="#001aff"/><stop offset="0.4731" stop-color="#0011ff"/><stop offset="0.4751" stop-color="#0019ff"/><stop offset="0.4797" stop-color="#0042ff"/><stop offset="0.4832" stop-color="#0050fe"/><stop offset="0.4867" stop-color="#0077fd"/><stop offset="0.4878" stop-color="#006cfd"/><stop offset="0.4908" stop-color="#0018ff"/><stop offset="0.4923" stop-color="#0006ff"/><stop offset="0.5065" stop-color="#0000ff"/><stop offset="0.5085" stop-color="#0003ff"/><stop offset="0.51" stop-color="#0011ff"/><stop offset="0.511" stop-color="#0025ff"/><stop offset="0.5136" stop-color="#006efd"/><stop offset="0.5146" stop-color="#0079fd"/><stop offset="0.5181" stop-color="#0052fe"/><stop offset="0.5237" stop-color="#0047ff"/><stop offset="0.5292" stop-color="#0017ff"/><stop offset="0.5318" stop-color="#000fff"/><stop offset="0.5343" stop-color="#0019ff"/><stop offset="0.5389" stop-color="#0042ff"/><stop offset="0.5424" stop-color="#0050fe"/><stop offset="0.5459" stop-color="#0077fd"/><stop offset="0.547" stop-color="#006cfd"/><stop offset="0.5495" stop-color="#0024ff"/><stop offset="0.5505" stop-color="#0010ff"/><stop offset="0.552" stop-color="#0003ff"/><stop offset="0.554" stop-color="#0000ff"/><stop offset="0.5677" stop-color="#0005ff"/><stop offset="0.5692" stop-color="#0018ff"/><stop offset="0.5723" stop-color="#006afd"/><stop offset="0.5733" stop-color="#0076fd"/><stop offset="0.5743" stop-color="#0070fd"/><stop offset="0.5768" stop-color="#0050fe"/><stop offset="0.5824" stop-color="#0048ff"/><stop offset="0.5879" stop-color="#001aff"/><stop offset="0.5905" stop-color="#000fff"/><stop offset="0.593" stop-color="#0018ff"/><stop offset="0.5981" stop-color="#0045ff"/><stop offset="0.6011" stop-color="#0050fe"/><stop offset="0.6046" stop-color="#0079fd"/><stop offset="0.6056" stop-color="#0071fd"/><stop offset="0.6087" stop-color="#001dff"/><stop offset="0.6102" stop-color="#0007ff"/><stop offset="0.6122" stop-color="#0001ff"/><stop offset="0.6223" stop-color="#0000ff"/><stop offset="0.6259" stop-color="#0002ff"/><stop offset="0.6274" stop-color="#000dff"/><stop offset="0.6289" stop-color="#002aff"/><stop offset="0.6309" stop-color="#0067fd"/><stop offset="0.632" stop-color="#0077fd"/><stop offset="0.633" stop-color="#0074fd"/><stop offset="0.636" stop-color="#004ffe"/><stop offset="0.6411" stop-color="#0048ff"/><stop offset="0.6471" stop-color="#0017ff"/><stop offset="0.6497" stop-color="#0010ff"/><stop offset="0.6522" stop-color="#001aff"/><stop offset="0.6567" stop-color="#0043ff"/><stop offset="0.6603" stop-color="#0050fe"/><stop offset="0.6638" stop-color="#0077fd"/><stop offset="0.6648" stop-color="#006cfd"/><stop offset="0.6679" stop-color="#0018ff"/><stop offset="0.6694" stop-color="#0006ff"/><stop offset="0.6815" stop-color="#0000ff"/><stop offset="0.6851" stop-color="#0002ff"/><stop offset="0.6866" stop-color="#000dff"/><stop offset="0.6881" stop-color="#002aff"/><stop offset="0.6901" stop-color="#0067fd"/><stop offset="0.6912" stop-color="#0077fd"/><stop offset="0.6922" stop-color="#0074fd"/><stop offset="0.6952" stop-color="#004ffe"/><stop offset="0.6993" stop-color="#0046ff"/><stop offset="0.7048" stop-color="#001aff"/><stop offset="0.7079" stop-color="#0011ff"/><stop offset="0.7104" stop-color="#0019ff"/><stop offset="0.7154" stop-color="#0043ff"/><stop offset="0.719" stop-color="#0050fe"/><stop offset="0.7225" stop-color="#0079fd"/><stop offset="0.724" stop-color="#0066fd"/><stop offset="0.7261" stop-color="#0029ff"/><stop offset="0.7271" stop-color="#0013ff"/><stop offset="0.7286" stop-color="#0004ff"/><stop offset="0.7306" stop-color="#0000ff"/><stop offset="0.7443" stop-color="#0004ff"/><stop offset="0.7458" stop-color="#0014ff"/><stop offset="0.7468" stop-color="#002aff"/><stop offset="0.7488" stop-color="#0066fd"/><stop offset="0.7504" stop-color="#0077fd"/><stop offset="0.7539" stop-color="#004ffe"/><stop offset="0.7579" stop-color="#0046ff"/><stop offset="0.7635" stop-color="#001cff"/><stop offset="0.7671" stop-color="#0012ff"/><stop offset="0.7711" stop-color="#001cff"/><stop offset="0.7746" stop-color="#003bff"/><stop offset="0.7782" stop-color="#004ffe"/><stop offset="0.7812" stop-color="#006ffd"/><stop offset="0.7822" stop-color="#0066fd"/><stop offset="0.7848" stop-color="#0024ff"/><stop offset="0.7858" stop-color="#0011ff"/><stop offset="0.7873" stop-color="#0003ff"/><stop offset="0.7888" stop-color="#0000ff"/><stop offset="0.803" stop-color="#0004ff"/><stop offset="0.8045" stop-color="#0013ff"/><stop offset="0.8075" stop-color="#0062fe"/><stop offset="0.809" stop-color="#0072fd"/><stop offset="0.8121" stop-color="#0051fe"/><stop offset="0.8166" stop-color="#0042ff"/><stop offset="0.8222" stop-color="#0017ff"/><stop offset="0.8257" stop-color="#000dff"/><stop offset="0.8293" stop-color="#0013ff"/><stop offset="0.8343" stop-color="#003dff"/><stop offset="0.8399" stop-color="#0057fe"/><stop offset="0.8414" stop-color="#004aff"/><stop offset="0.8445" stop-color="#0010ff"/><stop offset="0.846" stop-color="#0004ff"/><stop offset="0.8612" stop-color="#0001ff"/><stop offset="0.8637" stop-color="#0011ff"/><stop offset="0.8667" stop-color="#0050fe"/><stop offset="0.8682" stop-color="#005efe"/><stop offset="0.8713" stop-color="#004bff"/><stop offset="0.8748" stop-color="#0041ff"/><stop offset="0.8809" stop-color="#0015ff"/><stop offset="0.8849" stop-color="#000aff"/><stop offset="0.8895" stop-color="#000eff"/><stop offset="0.8951" stop-color="#002eff"/><stop offset="0.8986" stop-color="#0037ff"/><stop offset="0.9047" stop-color="#0003ff"/><stop offset="0.9204" stop-color="#0001ff"/><stop offset="0.9224" stop-color="#000aff"/><stop offset="0.9259" stop-color="#003fff"/><stop offset="0.9279" stop-color="#004aff"/><stop offset="0.9482" stop-color="#001eff"/><stop offset="0.9578" stop-color="#0025ff"/><stop offset="0.9624" stop-color="#0006ff"/><stop offset="0.9644" stop-color="#0001ff"/><stop offset="0.9998" stop-color="#0000ff"/></linearGradient>
<linearGradient id="bh4" gradientUnits="userSpaceOnUse" x1="320.52" y1="0" x2="328.96" y2="0"><stop offset="0" stop-color="#fff" stop-opacity="0"/><stop offset="1" stop-color="#fff" stop-opacity="1"/></linearGradient>
<mask id="bm4" maskUnits="userSpaceOnUse" x="319.52" y="75.5" width="23.93" height="998.2"><rect x="319.52" y="75.5" width="23.93" height="998.2" fill="url(#bh4)"/></mask>
<linearGradient id="br5" gradientUnits="userSpaceOnUse" x1="0" y1="80.5" x2="0" y2="1068.7"><stop offset="0" stop-color="#0000ff"/><stop offset="0.0349" stop-color="#0000ff"/><stop offset="0.044" stop-color="#000eff"/><stop offset="0.0744" stop-color="#0013ff"/><stop offset="0.082" stop-color="#0001ff"/><stop offset="0.0941" stop-color="#0000ff"/><stop offset="0.1027" stop-color="#0010ff"/><stop offset="0.1209" stop-color="#000fff"/><stop offset="0.1326" stop-color="#002eff"/><stop offset="0.1346" stop-color="#0029ff"/><stop offset="0.1407" stop-color="#0003ff"/><stop offset="0.1533" stop-color="#0000ff"/><stop offset="0.1639" stop-color="#0016ff"/><stop offset="0.1741" stop-color="#000aff"/><stop offset="0.1786" stop-color="#000cff"/><stop offset="0.1918" stop-color="#004aff"/><stop offset="0.1938" stop-color="#0042ff"/><stop offset="0.1978" stop-color="#0012ff"/><stop offset="0.1999" stop-color="#0005ff"/><stop offset="0.2105" stop-color="#0000ff"/><stop offset="0.215" stop-color="#000aff"/><stop offset="0.2196" stop-color="#0033ff"/><stop offset="0.2216" stop-color="#003dff"/><stop offset="0.2252" stop-color="#0039ff"/><stop offset="0.2327" stop-color="#0016ff"/><stop offset="0.2373" stop-color="#000eff"/><stop offset="0.2408" stop-color="#0017ff"/><stop offset="0.251" stop-color="#004bff"/><stop offset="0.253" stop-color="#0041ff"/><stop offset="0.2565" stop-color="#0016ff"/><stop offset="0.2586" stop-color="#0007ff"/><stop offset="0.2692" stop-color="#0000ff"/><stop offset="0.2737" stop-color="#000bff"/><stop offset="0.2783" stop-color="#003aff"/><stop offset="0.2803" stop-color="#0047ff"/><stop offset="0.2864" stop-color="#003bff"/><stop offset="0.293" stop-color="#0017ff"/><stop offset="0.296" stop-color="#0012ff"/><stop offset="0.3097" stop-color="#004ffe"/><stop offset="0.3117" stop-color="#0045ff"/><stop offset="0.3167" stop-color="#000bff"/><stop offset="0.3208" stop-color="#0000ff"/><stop offset="0.3314" stop-color="#0005ff"/><stop offset="0.3334" stop-color="#0013ff"/><stop offset="0.337" stop-color="#003fff"/><stop offset="0.339" stop-color="#004dff"/><stop offset="0.3461" stop-color="#003bff"/><stop offset="0.3527" stop-color="#0017ff"/><stop offset="0.3552" stop-color="#0011ff"/><stop offset="0.3582" stop-color="#0018ff"/><stop offset="0.3683" stop-color="#004efe"/><stop offset="0.3704" stop-color="#0045ff"/><stop offset="0.3749" stop-color="#000fff"/><stop offset="0.3785" stop-color="#0001ff"/><stop offset="0.3901" stop-color="#0005ff"/><stop offset="0.3926" stop-color="#0017ff"/><stop offset="0.3962" stop-color="#0043ff"/><stop offset="0.3982" stop-color="#004dff"/><stop offset="0.4058" stop-color="#003bff"/><stop offset="0.4114" stop-color="#001cff"/><stop offset="0.4139" stop-color="#0015ff"/><stop offset="0.427" stop-color="#004efe"/><stop offset="0.4291" stop-color="#0046ff"/><stop offset="0.4331" stop-color="#0015ff"/><stop offset="0.4351" stop-color="#0006ff"/><stop offset="0.4468" stop-color="#0001ff"/><stop offset="0.4503" stop-color="#000cff"/><stop offset="0.4554" stop-color="#0046ff"/><stop offset="0.4574" stop-color="#004ffe"/><stop offset="0.465" stop-color="#003dff"/><stop offset="0.4731" stop-color="#0017ff"/><stop offset="0.4862" stop-color="#004dff"/><stop offset="0.4883" stop-color="#0042ff"/><stop offset="0.4918" stop-color="#0016ff"/><stop offset="0.4938" stop-color="#0007ff"/><stop offset="0.5039" stop-color="#0000ff"/><stop offset="0.509" stop-color="#000bff"/><stop offset="0.5141" stop-color="#0046ff"/><stop offset="0.5161" stop-color="#004ffe"/><stop offset="0.5237" stop-color="#003cff"/><stop offset="0.5318" stop-color="#0014ff"/><stop offset="0.5343" stop-color="#0019ff"/><stop offset="0.5434" stop-color="#0048ff"/><stop offset="0.5459" stop-color="#004cff"/><stop offset="0.5475" stop-color="#0042ff"/><stop offset="0.552" stop-color="#000dff"/><stop offset="0.5571" stop-color="#0000ff"/><stop offset="0.5667" stop-color="#0005ff"/><stop offset="0.5687" stop-color="#0012ff"/><stop offset="0.5728" stop-color="#0043ff"/><stop offset="0.5748" stop-color="#004dff"/><stop offset="0.5824" stop-color="#003cff"/><stop offset="0.5884" stop-color="#001bff"/><stop offset="0.591" stop-color="#0014ff"/><stop offset="0.5935" stop-color="#001bff"/><stop offset="0.6026" stop-color="#004bff"/><stop offset="0.6046" stop-color="#004efe"/><stop offset="0.6062" stop-color="#0045ff"/><stop offset="0.6097" stop-color="#0019ff"/><stop offset="0.6117" stop-color="#0008ff"/><stop offset="0.6193" stop-color="#0000ff"/><stop offset="0.6264" stop-color="#0009ff"/><stop offset="0.6315" stop-color="#0042ff"/><stop offset="0.6335" stop-color="#004efe"/><stop offset="0.6416" stop-color="#003bff"/><stop offset="0.6471" stop-color="#001bff"/><stop offset="0.6497" stop-color="#0014ff"/><stop offset="0.6522" stop-color="#001aff"/><stop offset="0.6578" stop-color="#0039ff"/><stop offset="0.6633" stop-color="#004dff"/><stop offset="0.6654" stop-color="#0042ff"/><stop offset="0.6689" stop-color="#0016ff"/><stop offset="0.6709" stop-color="#0007ff"/><stop offset="0.679" stop-color="#0000ff"/><stop offset="0.6856" stop-color="#0009ff"/><stop offset="0.6906" stop-color="#0042ff"/><stop offset="0.6927" stop-color="#004efe"/><stop offset="0.6993" stop-color="#003bff"/><stop offset="0.7053" stop-color="#001bff"/><stop offset="0.7084" stop-color="#0015ff"/><stop offset="0.722" stop-color="#004ffe"/><stop offset="0.724" stop-color="#0045ff"/><stop offset="0.7291" stop-color="#000bff"/><stop offset="0.7337" stop-color="#0000ff"/><stop offset="0.7438" stop-color="#0006ff"/><stop offset="0.7458" stop-color="#0016ff"/><stop offset="0.7498" stop-color="#0046ff"/><stop offset="0.7519" stop-color="#004efe"/><stop offset="0.7676" stop-color="#0013ff"/><stop offset="0.7706" stop-color="#0019ff"/><stop offset="0.7787" stop-color="#0043ff"/><stop offset="0.7812" stop-color="#0047ff"/><stop offset="0.7832" stop-color="#003aff"/><stop offset="0.7873" stop-color="#000dff"/><stop offset="0.7918" stop-color="#0000ff"/><stop offset="0.8025" stop-color="#0006ff"/><stop offset="0.8045" stop-color="#0015ff"/><stop offset="0.8085" stop-color="#0044ff"/><stop offset="0.8106" stop-color="#004bff"/><stop offset="0.8166" stop-color="#0038ff"/><stop offset="0.8232" stop-color="#0015ff"/><stop offset="0.8262" stop-color="#000fff"/><stop offset="0.8293" stop-color="#0014ff"/><stop offset="0.8359" stop-color="#0036ff"/><stop offset="0.8394" stop-color="#003dff"/><stop offset="0.8414" stop-color="#0035ff"/><stop offset="0.8465" stop-color="#0009ff"/><stop offset="0.8505" stop-color="#0000ff"/><stop offset="0.8617" stop-color="#0005ff"/><stop offset="0.8637" stop-color="#0012ff"/><stop offset="0.8677" stop-color="#0039ff"/><stop offset="0.8703" stop-color="#0041ff"/><stop offset="0.8753" stop-color="#0035ff"/><stop offset="0.8824" stop-color="#0011ff"/><stop offset="0.886" stop-color="#000bff"/><stop offset="0.8981" stop-color="#0028ff"/><stop offset="0.9062" stop-color="#0003ff"/><stop offset="0.9188" stop-color="#0001ff"/><stop offset="0.9224" stop-color="#000cff"/><stop offset="0.9274" stop-color="#0033ff"/><stop offset="0.931" stop-color="#0039ff"/><stop offset="0.9482" stop-color="#001cff"/><stop offset="0.9578" stop-color="#001aff"/><stop offset="0.9659" stop-color="#0001ff"/><stop offset="0.9998" stop-color="#0000ff"/></linearGradient>
<linearGradient id="bh5" gradientUnits="userSpaceOnUse" x1="328.96" y1="0" x2="342.45" y2="0"><stop offset="0" stop-color="#fff" stop-opacity="0"/><stop offset="1" stop-color="#fff" stop-opacity="1"/></linearGradient>
<mask id="bm5" maskUnits="userSpaceOnUse" x="327.96" y="75.5" width="37.09" height="998.2"><rect x="327.96" y="75.5" width="37.09" height="998.2" fill="url(#bh5)"/></mask>
<linearGradient id="br6" gradientUnits="userSpaceOnUse" x1="0" y1="80.5" x2="0" y2="1068.7"><stop offset="0" stop-color="#0000ff"/><stop offset="0.0724" stop-color="#000cff"/><stop offset="0.0921" stop-color="#0000ff"/><stop offset="0.1194" stop-color="#000cff"/><stop offset="0.1321" stop-color="#001cff"/><stop offset="0.1427" stop-color="#0004ff"/><stop offset="0.1513" stop-color="#0000ff"/><stop offset="0.1649" stop-color="#000eff"/><stop offset="0.1776" stop-color="#000cff"/><stop offset="0.1913" stop-color="#002cff"/><stop offset="0.1943" stop-color="#0026ff"/><stop offset="0.2009" stop-color="#0009ff"/><stop offset="0.2054" stop-color="#0001ff"/><stop offset="0.213" stop-color="#0005ff"/><stop offset="0.2236" stop-color="#0028ff"/><stop offset="0.2373" stop-color="#0011ff"/><stop offset="0.2499" stop-color="#002cff"/><stop offset="0.253" stop-color="#0027ff"/><stop offset="0.2606" stop-color="#0007ff"/><stop offset="0.2672" stop-color="#0001ff"/><stop offset="0.2727" stop-color="#0008ff"/><stop offset="0.2828" stop-color="#002eff"/><stop offset="0.2965" stop-color="#0016ff"/><stop offset="0.3086" stop-color="#0030ff"/><stop offset="0.3117" stop-color="#002aff"/><stop offset="0.3193" stop-color="#0008ff"/><stop offset="0.3258" stop-color="#0001ff"/><stop offset="0.3314" stop-color="#0008ff"/><stop offset="0.339" stop-color="#002bff"/><stop offset="0.3425" stop-color="#0032ff"/><stop offset="0.3557" stop-color="#0016ff"/><stop offset="0.3683" stop-color="#002eff"/><stop offset="0.378" stop-color="#0008ff"/><stop offset="0.3845" stop-color="#0001ff"/><stop offset="0.3901" stop-color="#0008ff"/><stop offset="0.3977" stop-color="#002aff"/><stop offset="0.4017" stop-color="#0032ff"/><stop offset="0.4144" stop-color="#001aff"/><stop offset="0.427" stop-color="#002fff"/><stop offset="0.4367" stop-color="#0008ff"/><stop offset="0.4432" stop-color="#0001ff"/><stop offset="0.4488" stop-color="#0007ff"/><stop offset="0.4569" stop-color="#002cff"/><stop offset="0.4609" stop-color="#0033ff"/><stop offset="0.4736" stop-color="#001bff"/><stop offset="0.4862" stop-color="#002eff"/><stop offset="0.4953" stop-color="#0008ff"/><stop offset="0.5014" stop-color="#0001ff"/><stop offset="0.5075" stop-color="#0007ff"/><stop offset="0.5156" stop-color="#002cff"/><stop offset="0.5196" stop-color="#0033ff"/><stop offset="0.5328" stop-color="#0019ff"/><stop offset="0.5454" stop-color="#002eff"/><stop offset="0.5545" stop-color="#0008ff"/><stop offset="0.5601" stop-color="#0001ff"/><stop offset="0.5662" stop-color="#0006ff"/><stop offset="0.5743" stop-color="#002bff"/><stop offset="0.5783" stop-color="#0032ff"/><stop offset="0.5915" stop-color="#0019ff"/><stop offset="0.6041" stop-color="#002fff"/><stop offset="0.6142" stop-color="#0006ff"/><stop offset="0.6218" stop-color="#0001ff"/><stop offset="0.6264" stop-color="#000bff"/><stop offset="0.634" stop-color="#002eff"/><stop offset="0.6375" stop-color="#0033ff"/><stop offset="0.6502" stop-color="#0019ff"/><stop offset="0.6633" stop-color="#002eff"/><stop offset="0.6724" stop-color="#0008ff"/><stop offset="0.678" stop-color="#0001ff"/><stop offset="0.6846" stop-color="#0007ff"/><stop offset="0.6922" stop-color="#002aff"/><stop offset="0.6957" stop-color="#0031ff"/><stop offset="0.7089" stop-color="#0018ff"/><stop offset="0.722" stop-color="#002fff"/><stop offset="0.7321" stop-color="#0006ff"/><stop offset="0.7397" stop-color="#0001ff"/><stop offset="0.7443" stop-color="#000bff"/><stop offset="0.7514" stop-color="#002cff"/><stop offset="0.7549" stop-color="#0031ff"/><stop offset="0.7681" stop-color="#0016ff"/><stop offset="0.7807" stop-color="#002aff"/><stop offset="0.7898" stop-color="#0008ff"/><stop offset="0.7954" stop-color="#0001ff"/><stop offset="0.802" stop-color="#0007ff"/><stop offset="0.8096" stop-color="#0029ff"/><stop offset="0.8131" stop-color="#002fff"/><stop offset="0.8268" stop-color="#0012ff"/><stop offset="0.8394" stop-color="#0026ff"/><stop offset="0.8485" stop-color="#0007ff"/><stop offset="0.8541" stop-color="#0001ff"/><stop offset="0.8612" stop-color="#0006ff"/><stop offset="0.8693" stop-color="#0025ff"/><stop offset="0.8728" stop-color="#002aff"/><stop offset="0.8854" stop-color="#000eff"/><stop offset="0.8981" stop-color="#0018ff"/><stop offset="0.9118" stop-color="#0001ff"/><stop offset="0.9199" stop-color="#0004ff"/><stop offset="0.9295" stop-color="#0024ff"/><stop offset="0.934" stop-color="#0029ff"/><stop offset="0.9684" stop-color="#0001ff"/><stop offset="0.9998" stop-color="#0000ff"/></linearGradient>
<linearGradient id="bh6" gradientUnits="userSpaceOnUse" x1="342.45" y1="0" x2="364.04" y2="0"><stop offset="0" stop-color="#fff" stop-opacity="0"/><stop offset="1" stop-color="#fff" stop-opacity="1"/></linearGradient>
<mask id="bm6" maskUnits="userSpaceOnUse" x="341.45" y="75.5" width="58.14" height="998.2"><rect x="341.45" y="75.5" width="58.14" height="998.2" fill="url(#bh6)"/></mask>
<linearGradient id="br7" gradientUnits="userSpaceOnUse" x1="0" y1="80.5" x2="0" y2="1068.7"><stop offset="0" stop-color="#0000ff"/><stop offset="0.0632" stop-color="#0007ff"/><stop offset="0.0926" stop-color="#0001ff"/><stop offset="0.1305" stop-color="#000eff"/><stop offset="0.1523" stop-color="#0002ff"/><stop offset="0.1908" stop-color="#0016ff"/><stop offset="0.208" stop-color="#0004ff"/><stop offset="0.2257" stop-color="#0015ff"/><stop offset="0.2494" stop-color="#0015ff"/><stop offset="0.2677" stop-color="#0004ff"/><stop offset="0.2869" stop-color="#0019ff"/><stop offset="0.3091" stop-color="#0018ff"/><stop offset="0.3264" stop-color="#0004ff"/><stop offset="0.3456" stop-color="#001bff"/><stop offset="0.3689" stop-color="#0017ff"/><stop offset="0.3855" stop-color="#0004ff"/><stop offset="0.4053" stop-color="#001cff"/><stop offset="0.427" stop-color="#0018ff"/><stop offset="0.4442" stop-color="#0004ff"/><stop offset="0.4645" stop-color="#001dff"/><stop offset="0.4857" stop-color="#0018ff"/><stop offset="0.5024" stop-color="#0004ff"/><stop offset="0.5222" stop-color="#001cff"/><stop offset="0.5449" stop-color="#0018ff"/><stop offset="0.5616" stop-color="#0004ff"/><stop offset="0.5809" stop-color="#001cff"/><stop offset="0.6036" stop-color="#0019ff"/><stop offset="0.6208" stop-color="#0004ff"/><stop offset="0.6411" stop-color="#001cff"/><stop offset="0.6628" stop-color="#0018ff"/><stop offset="0.6795" stop-color="#0004ff"/><stop offset="0.6982" stop-color="#001aff"/><stop offset="0.7215" stop-color="#0019ff"/><stop offset="0.7387" stop-color="#0004ff"/><stop offset="0.7579" stop-color="#001aff"/><stop offset="0.7807" stop-color="#0015ff"/><stop offset="0.7964" stop-color="#0004ff"/><stop offset="0.8161" stop-color="#0019ff"/><stop offset="0.8399" stop-color="#0013ff"/><stop offset="0.8551" stop-color="#0003ff"/><stop offset="0.8753" stop-color="#0016ff"/><stop offset="0.9148" stop-color="#0002ff"/><stop offset="0.9376" stop-color="#0019ff"/><stop offset="0.971" stop-color="#0002ff"/><stop offset="0.9998" stop-color="#0000ff"/></linearGradient>
<linearGradient id="bh7" gradientUnits="userSpaceOnUse" x1="364.04" y1="0" x2="398.59" y2="0"><stop offset="0" stop-color="#fff" stop-opacity="0"/><stop offset="1" stop-color="#fff" stop-opacity="1"/></linearGradient>
<mask id="bm7" maskUnits="userSpaceOnUse" x="363.04" y="75.5" width="91.82" height="998.2"><rect x="363.04" y="75.5" width="91.82" height="998.2" fill="url(#bh7)"/></mask>
<linearGradient id="br8" gradientUnits="userSpaceOnUse" x1="0" y1="80.5" x2="0" y2="1068.7"><stop offset="0" stop-color="#0000ff"/><stop offset="0.2378" stop-color="#000aff"/><stop offset="0.2692" stop-color="#0005ff"/><stop offset="0.2975" stop-color="#000dff"/><stop offset="0.3279" stop-color="#0005ff"/><stop offset="0.3582" stop-color="#000dff"/><stop offset="0.3861" stop-color="#0005ff"/><stop offset="0.4164" stop-color="#000eff"/><stop offset="0.4458" stop-color="#0005ff"/><stop offset="0.4731" stop-color="#000eff"/><stop offset="0.5034" stop-color="#0005ff"/><stop offset="0.5298" stop-color="#000eff"/><stop offset="0.5631" stop-color="#0005ff"/><stop offset="0.5884" stop-color="#000eff"/><stop offset="0.6218" stop-color="#0006ff"/><stop offset="0.6497" stop-color="#000eff"/><stop offset="0.6805" stop-color="#0005ff"/><stop offset="0.7104" stop-color="#000dff"/><stop offset="0.7392" stop-color="#0006ff"/><stop offset="0.7665" stop-color="#000cff"/><stop offset="0.7969" stop-color="#0005ff"/><stop offset="0.8247" stop-color="#000bff"/><stop offset="0.9133" stop-color="#0004ff"/><stop offset="0.9426" stop-color="#000cff"/><stop offset="0.9998" stop-color="#0000ff"/></linearGradient>
<linearGradient id="bh8" gradientUnits="userSpaceOnUse" x1="398.59" y1="0" x2="453.86" y2="0"><stop offset="0" stop-color="#fff" stop-opacity="0"/><stop offset="1" stop-color="#fff" stop-opacity="1"/></linearGradient>
<mask id="bm8" maskUnits="userSpaceOnUse" x="397.59" y="75.5" width="145.71" height="998.2"><rect x="397.59" y="75.5" width="145.71" height="998.2" fill="url(#bh8)"/></mask>
<linearGradient id="br9" gradientUnits="userSpaceOnUse" x1="0" y1="80.5" x2="0" y2="1068.7"><stop offset="0" stop-color="#0000ff"/><stop offset="0.9998" stop-color="#0000ff"/></linearGradient>
<linearGradient id="bh9" gradientUnits="userSpaceOnUse" x1="453.86" y1="0" x2="542.30" y2="0"><stop offset="0" stop-color="#fff" stop-opacity="0"/><stop offset="1" stop-color="#fff" stop-opacity="1"/></linearGradient>
<mask id="bm9" maskUnits="userSpaceOnUse" x="452.86" y="75.5" width="94.44" height="998.2"><rect x="452.86" y="75.5" width="94.44" height="998.2" fill="url(#bh9)"/></mask>
<clipPath id="clipb"><rect x="184.0" y="80.0" width="358.29999999999995" height="988.7"/></clipPath>
<linearGradient id="bcb" x1="0" y1="0" x2="0" y2="1"><stop offset="0.000" stop-color="#ff0806"/><stop offset="0.100" stop-color="#ff582a"/><stop offset="0.200" stop-color="#ffa34e"/><stop offset="0.300" stop-color="#ffe078"/><stop offset="0.360" stop-color="#f6f68c"/><stop offset="0.400" stop-color="#c6ff96"/><stop offset="0.500" stop-color="#74ffc0"/><stop offset="0.600" stop-color="#20f7dd"/><stop offset="0.650" stop-color="#06e4ea"/><stop offset="0.700" stop-color="#00c8f2"/><stop offset="0.800" stop-color="#0087fc"/><stop offset="0.900" stop-color="#0042ff"/><stop offset="1.000" stop-color="#0000ff"/></linearGradient>
</defs>
<rect width="1500" height="1278" fill="#fff"/>
<g id="panelA">
<g clip-path="url(#clipa)"><g>
<rect x="180.0" y="76.5" width="366.29999999999995" height="996.2" fill="#0000ff"/>
<rect x="310.40" y="76.5" width="2.05" height="996.2" fill="url(#ar0)"/>
<rect x="310.40" y="76.5" width="5.34" height="996.2" fill="url(#ar1)" mask="url(#am1)"/>
<rect x="312.45" y="76.5" width="8.55" height="996.2" fill="url(#ar2)" mask="url(#am2)"/>
<rect x="315.74" y="76.5" width="13.68" height="996.2" fill="url(#ar3)" mask="url(#am3)"/>
<rect x="321.00" y="76.5" width="21.88" height="996.2" fill="url(#ar4)" mask="url(#am4)"/>
<rect x="329.42" y="76.5" width="35.01" height="996.2" fill="url(#ar5)" mask="url(#am5)"/>
<rect x="342.88" y="76.5" width="56.02" height="996.2" fill="url(#ar6)" mask="url(#am6)"/>
<rect x="364.43" y="76.5" width="89.63" height="996.2" fill="url(#ar7)" mask="url(#am7)"/>
<rect x="398.90" y="76.5" width="143.40" height="996.2" fill="url(#ar8)" mask="url(#am8)"/>
<rect x="454.05" y="76.5" width="92.25" height="996.2" fill="url(#ar9)" mask="url(#am9)"/>
<rect x="235.0" y="76.5" width="76.7" height="996.2" fill="url(#aw)"/>
<path d="M225.7 76.5v996.2" stroke="#fff" stroke-width="3.1" stroke-opacity="0.22" fill="none"/>
<path d="M225.7 76.5v996.2" stroke="#fff" stroke-width="1.6" stroke-opacity="0.72" fill="none"/>
<path d="M234.8 76.5v996.2" stroke="#fff" stroke-width="3.3" stroke-opacity="0.26" fill="none"/>
<path d="M234.8 76.5v996.2" stroke="#fff" stroke-width="1.8" stroke-opacity="0.88" fill="none"/>
<path d="M311.0 72.5H316.3V118.2H311.0zM311.0 159.2H316.3V176.1H311.0zM311.0 217.2H316.3V234.6H311.0zM311.0 275.4H316.3V292.9H311.0zM311.0 333.7H316.3V351.0H311.0zM311.0 391.9H316.3V409.3H311.0zM311.0 450.1H316.3V467.6H311.0zM311.0 506.6H316.3V526.0H311.0zM311.0 565.2H316.3V583.9H311.0zM311.0 623.7H316.3V642.1H311.0zM311.0 681.5H316.3V700.6H311.0zM311.0 739.6H316.3V758.7H311.0zM311.0 798.0H316.3V816.7H311.0zM311.0 856.2H316.3V874.8H311.0zM311.0 914.6H316.3V933.2H311.0zM311.0 972.8H316.3V991.5H311.0zM311.0 1030.8H316.3V1076.7H311.0z" fill="#fff" fill-opacity="0.42" stroke="#fff" stroke-opacity="0.88" stroke-width="1.5"/>
<path d="M243.6 116.2h4v4h-4zM254.8 116.2h4v4h-4zM266.0 116.2h4v4h-4zM277.2 116.2h4v4h-4zM288.4 116.2h4v4h-4zM299.6 116.2h4v4h-4zM232.2 116.2h4v4h-4zM243.6 157.2h4v4h-4zM254.8 157.2h4v4h-4zM266.0 157.2h4v4h-4zM277.2 157.2h4v4h-4zM288.4 157.2h4v4h-4zM299.6 157.2h4v4h-4zM232.2 157.2h4v4h-4zM243.6 174.1h4v4h-4zM254.8 174.1h4v4h-4zM266.0 174.1h4v4h-4zM277.2 174.1h4v4h-4zM288.4 174.1h4v4h-4zM299.6 174.1h4v4h-4zM232.2 174.1h4v4h-4zM243.6 215.2h4v4h-4zM254.8 215.2h4v4h-4zM266.0 215.2h4v4h-4zM277.2 215.2h4v4h-4zM288.4 215.2h4v4h-4zM299.6 215.2h4v4h-4zM232.2 215.2h4v4h-4zM243.6 232.6h4v4h-4zM254.8 232.6h4v4h-4zM266.0 232.6h4v4h-4zM277.2 232.6h4v4h-4zM288.4 232.6h4v4h-4zM299.6 232.6h4v4h-4zM232.2 232.6h4v4h-4zM243.6 273.4h4v4h-4zM254.8 273.4h4v4h-4zM266.0 273.4h4v4h-4zM277.2 273.4h4v4h-4zM288.4 273.4h4v4h-4zM299.6 273.4h4v4h-4zM232.2 273.4h4v4h-4zM243.6 290.9h4v4h-4zM254.8 290.9h4v4h-4zM266.0 290.9h4v4h-4zM277.2 290.9h4v4h-4zM288.4 290.9h4v4h-4zM299.6 290.9h4v4h-4zM232.2 290.9h4v4h-4zM243.6 331.7h4v4h-4zM254.8 331.7h4v4h-4zM266.0 331.7h4v4h-4zM277.2 331.7h4v4h-4zM288.4 331.7h4v4h-4zM299.6 331.7h4v4h-4zM232.2 331.7h4v4h-4zM243.6 349.0h4v4h-4zM254.8 349.0h4v4h-4zM266.0 349.0h4v4h-4zM277.2 349.0h4v4h-4zM288.4 349.0h4v4h-4zM299.6 349.0h4v4h-4zM232.2 349.0h4v4h-4zM243.6 389.9h4v4h-4zM254.8 389.9h4v4h-4zM266.0 389.9h4v4h-4zM277.2 389.9h4v4h-4zM288.4 389.9h4v4h-4zM299.6 389.9h4v4h-4zM232.2 389.9h4v4h-4zM243.6 407.3h4v4h-4zM254.8 407.3h4v4h-4zM266.0 407.3h4v4h-4zM277.2 407.3h4v4h-4zM288.4 407.3h4v4h-4zM299.6 407.3h4v4h-4zM232.2 407.3h4v4h-4zM243.6 448.1h4v4h-4zM254.8 448.1h4v4h-4zM266.0 448.1h4v4h-4zM277.2 448.1h4v4h-4zM288.4 448.1h4v4h-4zM299.6 448.1h4v4h-4zM232.2 448.1h4v4h-4zM243.6 465.6h4v4h-4zM254.8 465.6h4v4h-4zM266.0 465.6h4v4h-4zM277.2 465.6h4v4h-4zM288.4 465.6h4v4h-4zM299.6 465.6h4v4h-4zM232.2 465.6h4v4h-4zM243.6 504.6h4v4h-4zM254.8 504.6h4v4h-4zM266.0 504.6h4v4h-4zM277.2 504.6h4v4h-4zM288.4 504.6h4v4h-4zM299.6 504.6h4v4h-4zM232.2 504.6h4v4h-4zM243.6 524.0h4v4h-4zM254.8 524.0h4v4h-4zM266.0 524.0h4v4h-4zM277.2 524.0h4v4h-4zM288.4 524.0h4v4h-4zM299.6 524.0h4v4h-4zM232.2 524.0h4v4h-4zM243.6 563.2h4v4h-4zM254.8 563.2h4v4h-4zM266.0 563.2h4v4h-4zM277.2 563.2h4v4h-4zM288.4 563.2h4v4h-4zM299.6 563.2h4v4h-4zM232.2 563.2h4v4h-4zM243.6 581.9h4v4h-4zM254.8 581.9h4v4h-4zM266.0 581.9h4v4h-4zM277.2 581.9h4v4h-4zM288.4 581.9h4v4h-4zM299.6 581.9h4v4h-4zM232.2 581.9h4v4h-4zM243.6 621.7h4v4h-4zM254.8 621.7h4v4h-4zM266.0 621.7h4v4h-4zM277.2 621.7h4v4h-4zM288.4 621.7h4v4h-4zM299.6 621.7h4v4h-4zM232.2 621.7h4v4h-4zM243.6 640.1h4v4h-4zM254.8 640.1h4v4h-4zM266.0 640.1h4v4h-4zM277.2 640.1h4v4h-4zM288.4 640.1h4v4h-4zM299.6 640.1h4v4h-4zM232.2 640.1h4v4h-4zM243.6 679.5h4v4h-4zM254.8 679.5h4v4h-4zM266.0 679.5h4v4h-4zM277.2 679.5h4v4h-4zM288.4 679.5h4v4h-4zM299.6 679.5h4v4h-4zM232.2 679.5h4v4h-4zM243.6 698.6h4v4h-4zM254.8 698.6h4v4h-4zM266.0 698.6h4v4h-4zM277.2 698.6h4v4h-4zM288.4 698.6h4v4h-4zM299.6 698.6h4v4h-4zM232.2 698.6h4v4h-4zM243.6 737.6h4v4h-4zM254.8 737.6h4v4h-4zM266.0 737.6h4v4h-4zM277.2 737.6h4v4h-4zM288.4 737.6h4v4h-4zM299.6 737.6h4v4h-4zM232.2 737.6h4v4h-4zM243.6 756.7h4v4h-4zM254.8 756.7h4v4h-4zM266.0 756.7h4v4h-4zM277.2 756.7h4v4h-4zM288.4 756.7h4v4h-4zM299.6 756.7h4v4h-4zM232.2 756.7h4v4h-4zM243.6 796.0h4v4h-4zM254.8 796.0h4v4h-4zM266.0 796.0h4v4h-4zM277.2 796.0h4v4h-4zM288.4 796.0h4v4h-4zM299.6 796.0h4v4h-4zM232.2 796.0h4v4h-4zM243.6 814.7h4v4h-4zM254.8 814.7h4v4h-4zM266.0 814.7h4v4h-4zM277.2 814.7h4v4h-4zM288.4 814.7h4v4h-4zM299.6 814.7h4v4h-4zM232.2 814.7h4v4h-4zM243.6 854.2h4v4h-4zM254.8 854.2h4v4h-4zM266.0 854.2h4v4h-4zM277.2 854.2h4v4h-4zM288.4 854.2h4v4h-4zM299.6 854.2h4v4h-4zM232.2 854.2h4v4h-4zM243.6 872.8h4v4h-4zM254.8 872.8h4v4h-4zM266.0 872.8h4v4h-4zM277.2 872.8h4v4h-4zM288.4 872.8h4v4h-4zM299.6 872.8h4v4h-4zM232.2 872.8h4v4h-4zM243.6 912.6h4v4h-4zM254.8 912.6h4v4h-4zM266.0 912.6h4v4h-4zM277.2 912.6h4v4h-4zM288.4 912.6h4v4h-4zM299.6 912.6h4v4h-4zM232.2 912.6h4v4h-4zM243.6 931.2h4v4h-4zM254.8 931.2h4v4h-4zM266.0 931.2h4v4h-4zM277.2 931.2h4v4h-4zM288.4 931.2h4v4h-4zM299.6 931.2h4v4h-4zM232.2 931.2h4v4h-4zM243.6 970.8h4v4h-4zM254.8 970.8h4v4h-4zM266.0 970.8h4v4h-4zM277.2 970.8h4v4h-4zM288.4 970.8h4v4h-4zM299.6 970.8h4v4h-4zM232.2 970.8h4v4h-4zM243.6 989.5h4v4h-4zM254.8 989.5h4v4h-4zM266.0 989.5h4v4h-4zM277.2 989.5h4v4h-4zM288.4 989.5h4v4h-4zM299.6 989.5h4v4h-4zM232.2 989.5h4v4h-4zM243.6 1028.8h4v4h-4zM254.8 1028.8h4v4h-4zM266.0 1028.8h4v4h-4zM277.2 1028.8h4v4h-4zM288.4 1028.8h4v4h-4zM299.6 1028.8h4v4h-4zM232.2 1028.8h4v4h-4z" fill="#fff" fill-opacity=".3"/>
<path d="M244.4 117.0h2.4v2.4h-2.4zM255.6 117.0h2.4v2.4h-2.4zM266.8 117.0h2.4v2.4h-2.4zM278.0 117.0h2.4v2.4h-2.4zM289.2 117.0h2.4v2.4h-2.4zM300.4 117.0h2.4v2.4h-2.4zM233.0 117.0h2.6v2.4h-2.6zM244.4 158.0h2.4v2.4h-2.4zM255.6 158.0h2.4v2.4h-2.4zM266.8 158.0h2.4v2.4h-2.4zM278.0 158.0h2.4v2.4h-2.4zM289.2 158.0h2.4v2.4h-2.4zM300.4 158.0h2.4v2.4h-2.4zM233.0 158.0h2.6v2.4h-2.6zM244.4 174.9h2.4v2.4h-2.4zM255.6 174.9h2.4v2.4h-2.4zM266.8 174.9h2.4v2.4h-2.4zM278.0 174.9h2.4v2.4h-2.4zM289.2 174.9h2.4v2.4h-2.4zM300.4 174.9h2.4v2.4h-2.4zM233.0 174.9h2.6v2.4h-2.6zM244.4 216.0h2.4v2.4h-2.4zM255.6 216.0h2.4v2.4h-2.4zM266.8 216.0h2.4v2.4h-2.4zM278.0 216.0h2.4v2.4h-2.4zM289.2 216.0h2.4v2.4h-2.4zM300.4 216.0h2.4v2.4h-2.4zM233.0 216.0h2.6v2.4h-2.6zM244.4 233.4h2.4v2.4h-2.4zM255.6 233.4h2.4v2.4h-2.4zM266.8 233.4h2.4v2.4h-2.4zM278.0 233.4h2.4v2.4h-2.4zM289.2 233.4h2.4v2.4h-2.4zM300.4 233.4h2.4v2.4h-2.4zM233.0 233.4h2.6v2.4h-2.6zM244.4 274.2h2.4v2.4h-2.4zM255.6 274.2h2.4v2.4h-2.4zM266.8 274.2h2.4v2.4h-2.4zM278.0 274.2h2.4v2.4h-2.4zM289.2 274.2h2.4v2.4h-2.4zM300.4 274.2h2.4v2.4h-2.4zM233.0 274.2h2.6v2.4h-2.6zM244.4 291.7h2.4v2.4h-2.4zM255.6 291.7h2.4v2.4h-2.4zM266.8 291.7h2.4v2.4h-2.4zM278.0 291.7h2.4v2.4h-2.4zM289.2 291.7h2.4v2.4h-2.4zM300.4 291.7h2.4v2.4h-2.4zM233.0 291.7h2.6v2.4h-2.6zM244.4 332.5h2.4v2.4h-2.4zM255.6 332.5h2.4v2.4h-2.4zM266.8 332.5h2.4v2.4h-2.4zM278.0 332.5h2.4v2.4h-2.4zM289.2 332.5h2.4v2.4h-2.4zM300.4 332.5h2.4v2.4h-2.4zM233.0 332.5h2.6v2.4h-2.6zM244.4 349.8h2.4v2.4h-2.4zM255.6 349.8h2.4v2.4h-2.4zM266.8 349.8h2.4v2.4h-2.4zM278.0 349.8h2.4v2.4h-2.4zM289.2 349.8h2.4v2.4h-2.4zM300.4 349.8h2.4v2.4h-2.4zM233.0 349.8h2.6v2.4h-2.6zM244.4 390.7h2.4v2.4h-2.4zM255.6 390.7h2.4v2.4h-2.4zM266.8 390.7h2.4v2.4h-2.4zM278.0 390.7h2.4v2.4h-2.4zM289.2 390.7h2.4v2.4h-2.4zM300.4 390.7h2.4v2.4h-2.4zM233.0 390.7h2.6v2.4h-2.6zM244.4 408.1h2.4v2.4h-2.4zM255.6 408.1h2.4v2.4h-2.4zM266.8 408.1h2.4v2.4h-2.4zM278.0 408.1h2.4v2.4h-2.4zM289.2 408.1h2.4v2.4h-2.4zM300.4 408.1h2.4v2.4h-2.4zM233.0 408.1h2.6v2.4h-2.6zM244.4 448.9h2.4v2.4h-2.4zM255.6 448.9h2.4v2.4h-2.4zM266.8 448.9h2.4v2.4h-2.4zM278.0 448.9h2.4v2.4h-2.4zM289.2 448.9h2.4v2.4h-2.4zM300.4 448.9h2.4v2.4h-2.4zM233.0 448.9h2.6v2.4h-2.6zM244.4 466.4h2.4v2.4h-2.4zM255.6 466.4h2.4v2.4h-2.4zM266.8 466.4h2.4v2.4h-2.4zM278.0 466.4h2.4v2.4h-2.4zM289.2 466.4h2.4v2.4h-2.4zM300.4 466.4h2.4v2.4h-2.4zM233.0 466.4h2.6v2.4h-2.6zM244.4 505.4h2.4v2.4h-2.4zM255.6 505.4h2.4v2.4h-2.4zM266.8 505.4h2.4v2.4h-2.4zM278.0 505.4h2.4v2.4h-2.4zM289.2 505.4h2.4v2.4h-2.4zM300.4 505.4h2.4v2.4h-2.4zM233.0 505.4h2.6v2.4h-2.6zM244.4 524.8h2.4v2.4h-2.4zM255.6 524.8h2.4v2.4h-2.4zM266.8 524.8h2.4v2.4h-2.4zM278.0 524.8h2.4v2.4h-2.4zM289.2 524.8h2.4v2.4h-2.4zM300.4 524.8h2.4v2.4h-2.4zM233.0 524.8h2.6v2.4h-2.6zM244.4 564.0h2.4v2.4h-2.4zM255.6 564.0h2.4v2.4h-2.4zM266.8 564.0h2.4v2.4h-2.4zM278.0 564.0h2.4v2.4h-2.4zM289.2 564.0h2.4v2.4h-2.4zM300.4 564.0h2.4v2.4h-2.4zM233.0 564.0h2.6v2.4h-2.6zM244.4 582.7h2.4v2.4h-2.4zM255.6 582.7h2.4v2.4h-2.4zM266.8 582.7h2.4v2.4h-2.4zM278.0 582.7h2.4v2.4h-2.4zM289.2 582.7h2.4v2.4h-2.4zM300.4 582.7h2.4v2.4h-2.4zM233.0 582.7h2.6v2.4h-2.6zM244.4 622.5h2.4v2.4h-2.4zM255.6 622.5h2.4v2.4h-2.4zM266.8 622.5h2.4v2.4h-2.4zM278.0 622.5h2.4v2.4h-2.4zM289.2 622.5h2.4v2.4h-2.4zM300.4 622.5h2.4v2.4h-2.4zM233.0 622.5h2.6v2.4h-2.6zM244.4 640.9h2.4v2.4h-2.4zM255.6 640.9h2.4v2.4h-2.4zM266.8 640.9h2.4v2.4h-2.4zM278.0 640.9h2.4v2.4h-2.4zM289.2 640.9h2.4v2.4h-2.4zM300.4 640.9h2.4v2.4h-2.4zM233.0 640.9h2.6v2.4h-2.6zM244.4 680.3h2.4v2.4h-2.4zM255.6 680.3h2.4v2.4h-2.4zM266.8 680.3h2.4v2.4h-2.4zM278.0 680.3h2.4v2.4h-2.4zM289.2 680.3h2.4v2.4h-2.4zM300.4 680.3h2.4v2.4h-2.4zM233.0 680.3h2.6v2.4h-2.6zM244.4 699.4h2.4v2.4h-2.4zM255.6 699.4h2.4v2.4h-2.4zM266.8 699.4h2.4v2.4h-2.4zM278.0 699.4h2.4v2.4h-2.4zM289.2 699.4h2.4v2.4h-2.4zM300.4 699.4h2.4v2.4h-2.4zM233.0 699.4h2.6v2.4h-2.6zM244.4 738.4h2.4v2.4h-2.4zM255.6 738.4h2.4v2.4h-2.4zM266.8 738.4h2.4v2.4h-2.4zM278.0 738.4h2.4v2.4h-2.4zM289.2 738.4h2.4v2.4h-2.4zM300.4 738.4h2.4v2.4h-2.4zM233.0 738.4h2.6v2.4h-2.6zM244.4 757.5h2.4v2.4h-2.4zM255.6 757.5h2.4v2.4h-2.4zM266.8 757.5h2.4v2.4h-2.4zM278.0 757.5h2.4v2.4h-2.4zM289.2 757.5h2.4v2.4h-2.4zM300.4 757.5h2.4v2.4h-2.4zM233.0 757.5h2.6v2.4h-2.6zM244.4 796.8h2.4v2.4h-2.4zM255.6 796.8h2.4v2.4h-2.4zM266.8 796.8h2.4v2.4h-2.4zM278.0 796.8h2.4v2.4h-2.4zM289.2 796.8h2.4v2.4h-2.4zM300.4 796.8h2.4v2.4h-2.4zM233.0 796.8h2.6v2.4h-2.6zM244.4 815.5h2.4v2.4h-2.4zM255.6 815.5h2.4v2.4h-2.4zM266.8 815.5h2.4v2.4h-2.4zM278.0 815.5h2.4v2.4h-2.4zM289.2 815.5h2.4v2.4h-2.4zM300.4 815.5h2.4v2.4h-2.4zM233.0 815.5h2.6v2.4h-2.6zM244.4 855.0h2.4v2.4h-2.4zM255.6 855.0h2.4v2.4h-2.4zM266.8 855.0h2.4v2.4h-2.4zM278.0 855.0h2.4v2.4h-2.4zM289.2 855.0h2.4v2.4h-2.4zM300.4 855.0h2.4v2.4h-2.4zM233.0 855.0h2.6v2.4h-2.6zM244.4 873.6h2.4v2.4h-2.4zM255.6 873.6h2.4v2.4h-2.4zM266.8 873.6h2.4v2.4h-2.4zM278.0 873.6h2.4v2.4h-2.4zM289.2 873.6h2.4v2.4h-2.4zM300.4 873.6h2.4v2.4h-2.4zM233.0 873.6h2.6v2.4h-2.6zM244.4 913.4h2.4v2.4h-2.4zM255.6 913.4h2.4v2.4h-2.4zM266.8 913.4h2.4v2.4h-2.4zM278.0 913.4h2.4v2.4h-2.4zM289.2 913.4h2.4v2.4h-2.4zM300.4 913.4h2.4v2.4h-2.4zM233.0 913.4h2.6v2.4h-2.6zM244.4 932.0h2.4v2.4h-2.4zM255.6 932.0h2.4v2.4h-2.4zM266.8 932.0h2.4v2.4h-2.4zM278.0 932.0h2.4v2.4h-2.4zM289.2 932.0h2.4v2.4h-2.4zM300.4 932.0h2.4v2.4h-2.4zM233.0 932.0h2.6v2.4h-2.6zM244.4 971.6h2.4v2.4h-2.4zM255.6 971.6h2.4v2.4h-2.4zM266.8 971.6h2.4v2.4h-2.4zM278.0 971.6h2.4v2.4h-2.4zM289.2 971.6h2.4v2.4h-2.4zM300.4 971.6h2.4v2.4h-2.4zM233.0 971.6h2.6v2.4h-2.6zM244.4 990.3h2.4v2.4h-2.4zM255.6 990.3h2.4v2.4h-2.4zM266.8 990.3h2.4v2.4h-2.4zM278.0 990.3h2.4v2.4h-2.4zM289.2 990.3h2.4v2.4h-2.4zM300.4 990.3h2.4v2.4h-2.4zM233.0 990.3h2.6v2.4h-2.6zM244.4 1029.6h2.4v2.4h-2.4zM255.6 1029.6h2.4v2.4h-2.4zM266.8 1029.6h2.4v2.4h-2.4zM278.0 1029.6h2.4v2.4h-2.4zM289.2 1029.6h2.4v2.4h-2.4zM300.4 1029.6h2.4v2.4h-2.4zM233.0 1029.6h2.6v2.4h-2.6z" fill="#fff" fill-opacity=".92"/>
</g></g>
<rect x="184.0" y="80.0" width="358.29999999999995" height="988.7" fill="none" stroke="#000" stroke-opacity=".55" stroke-width="1.8"/>
<path d="M184.0 79.3v-16.2M184.0 1069.5v17.3M273.6 79.3v-16.2M273.6 1069.5v17.3M363.1 79.3v-16.2M363.1 1069.5v17.3M452.7 79.3v-16.2M452.7 1069.5v17.3M542.3 79.3v-16.2M542.3 1069.5v17.3M183.2 1068.7h-17.8M543.0999999999999 1068.7h17.3M183.2 887.0h-17.8M543.0999999999999 887.0h17.3M183.2 705.3h-17.8M543.0999999999999 705.3h17.3M183.2 523.6h-17.8M543.0999999999999 523.6h17.3M183.2 341.9h-17.8M543.0999999999999 341.9h17.3M183.2 160.2h-17.8M543.0999999999999 160.2h17.3" stroke="#000" stroke-opacity=".52" stroke-width="1.9" fill="none"/>
<rect x="568.6" y="81.0" width="18.2" height="988.0" fill="url(#acb)" stroke="#000" stroke-opacity=".55" stroke-width="1.4"/>
<path d="M568.6 871.4H586.8M568.6 673.8H586.8M568.6 476.2H586.8M568.6 278.6H586.8" stroke="#000" stroke-opacity=".7" stroke-width="1.5" fill="none"/>
<g class="t"><text transform="translate(365.4 30.0) scale(1.04 1)" text-anchor="middle">|Ex| (V/m)</text><text x="149.4" y="1082.1" text-anchor="end">0</text><text x="149.4" y="900.3" text-anchor="end">200</text><text x="149.4" y="718.5" text-anchor="end">400</text><text x="149.4" y="536.8" text-anchor="end">600</text><text x="149.4" y="355.0" text-anchor="end">800</text><text x="149.4" y="173.2" text-anchor="end">1000</text><text transform="translate(189.2 1140.6) scale(1.03 1)" text-anchor="middle">10</text><text transform="translate(278.8 1140.6) scale(1.03 1)" text-anchor="middle">20</text><text transform="translate(368.3 1140.6) scale(1.03 1)" text-anchor="middle">30</text><text transform="translate(457.9 1140.6) scale(1.03 1)" text-anchor="middle">40</text><text transform="translate(547.5 1140.6) scale(1.03 1)" text-anchor="middle">50</text><text transform="translate(362.9 1202.0) scale(1.01 1)" text-anchor="middle">x (µm)</text><text transform="translate(31 575) rotate(-90) scale(1.03 1.03)" text-anchor="middle">y (µm)</text><text x="604.5" y="1081.9" textLength="111.5" lengthAdjust="spacingAndGlyphs">0.0×10</text><text class="s" x="716.9" y="1070.3" textLength="12.6" lengthAdjust="spacingAndGlyphs">0</text><text x="604.5" y="883.9" textLength="111.5" lengthAdjust="spacingAndGlyphs">5.0×10</text><text class="s" x="716.9" y="872.3" textLength="24.2" lengthAdjust="spacingAndGlyphs">-4</text><text x="604.5" y="685.9" textLength="111.5" lengthAdjust="spacingAndGlyphs">1.0×10</text><text class="s" x="716.9" y="674.3" textLength="24.2" lengthAdjust="spacingAndGlyphs">-3</text><text x="604.5" y="488.0" textLength="111.5" lengthAdjust="spacingAndGlyphs">1.5×10</text><text class="s" x="716.9" y="476.4" textLength="24.2" lengthAdjust="spacingAndGlyphs">-3</text><text x="604.5" y="290.0" textLength="111.5" lengthAdjust="spacingAndGlyphs">2.0×10</text><text class="s" x="716.9" y="278.4" textLength="24.2" lengthAdjust="spacingAndGlyphs">-3</text><text x="604.5" y="92.0" textLength="111.5" lengthAdjust="spacingAndGlyphs">2.5×10</text><text class="s" x="716.9" y="80.4" textLength="24.2" lengthAdjust="spacingAndGlyphs">-3</text></g>
<text class="cap" x="360.4" y="1261" text-anchor="middle">(a)</text>
</g>
<g id="panelB" transform="translate(759 0)">
<g clip-path="url(#clipb)"><g>
<rect x="180.0" y="76.5" width="366.29999999999995" height="996.2" fill="#0000ff"/>
<rect x="309.90" y="76.5" width="2.06" height="996.2" fill="url(#br0)"/>
<rect x="309.90" y="76.5" width="5.35" height="996.2" fill="url(#br1)" mask="url(#bm1)"/>
<rect x="311.96" y="76.5" width="8.57" height="996.2" fill="url(#br2)" mask="url(#bm2)"/>
<rect x="315.25" y="76.5" width="13.71" height="996.2" fill="url(#br3)" mask="url(#bm3)"/>
<rect x="320.52" y="76.5" width="21.93" height="996.2" fill="url(#br4)" mask="url(#bm4)"/>
<rect x="328.96" y="76.5" width="35.09" height="996.2" fill="url(#br5)" mask="url(#bm5)"/>
<rect x="342.45" y="76.5" width="56.14" height="996.2" fill="url(#br6)" mask="url(#bm6)"/>
<rect x="364.04" y="76.5" width="89.82" height="996.2" fill="url(#br7)" mask="url(#bm7)"/>
<rect x="398.59" y="76.5" width="143.71" height="996.2" fill="url(#br8)" mask="url(#bm8)"/>
<rect x="453.86" y="76.5" width="92.44" height="996.2" fill="url(#br9)" mask="url(#bm9)"/>
<rect x="235.0" y="76.5" width="76.2" height="996.2" fill="url(#bw)"/>
<path d="M225.6 76.5v996.2" stroke="#fff" stroke-width="3.3" stroke-opacity="0.26" fill="none"/>
<path d="M225.6 76.5v996.2" stroke="#fff" stroke-width="1.8" stroke-opacity="0.85" fill="none"/>
<path d="M234.5 76.5v996.2" stroke="#fff" stroke-width="3.1" stroke-opacity="0.22" fill="none"/>
<path d="M234.5 76.5v996.2" stroke="#fff" stroke-width="1.6" stroke-opacity="0.72" fill="none"/>
<path d="M310.5 72.5H316.3V122.3H310.5zM310.5 153.9H316.3V180.3H310.5zM310.5 212.0H316.3V238.8H310.5zM310.5 270.5H316.3V297.0H310.5zM310.5 328.8H316.3V355.3H310.5zM310.5 387.0H316.3V413.5H310.5zM310.5 445.0H316.3V471.7H310.5zM310.5 503.2H316.3V529.9H310.5zM310.5 561.3H316.3V588.0H310.5zM310.5 619.8H316.3V646.1H310.5zM310.5 678.0H316.3V704.3H310.5zM310.5 736.3H316.3V762.8H310.5zM310.5 794.5H316.3V820.8H310.5zM310.5 852.4H316.3V878.8H310.5zM310.5 910.7H316.3V937.2H310.5zM310.5 968.9H316.3V995.4H310.5zM310.5 1027.1H316.3V1076.7H310.5z" fill="#fff" fill-opacity="0.66" stroke="#fff" stroke-opacity="0.8" stroke-width="1.5"/>
<path d="M243.6 120.3h4v4h-4zM254.8 120.3h4v4h-4zM266.0 120.3h4v4h-4zM277.2 120.3h4v4h-4zM288.4 120.3h4v4h-4zM299.6 120.3h4v4h-4zM231.9 120.3h4v4h-4zM243.6 151.9h4v4h-4zM254.8 151.9h4v4h-4zM266.0 151.9h4v4h-4zM277.2 151.9h4v4h-4zM288.4 151.9h4v4h-4zM299.6 151.9h4v4h-4zM231.9 151.9h4v4h-4zM243.6 178.3h4v4h-4zM254.8 178.3h4v4h-4zM266.0 178.3h4v4h-4zM277.2 178.3h4v4h-4zM288.4 178.3h4v4h-4zM299.6 178.3h4v4h-4zM231.9 178.3h4v4h-4zM243.6 210.0h4v4h-4zM254.8 210.0h4v4h-4zM266.0 210.0h4v4h-4zM277.2 210.0h4v4h-4zM288.4 210.0h4v4h-4zM299.6 210.0h4v4h-4zM231.9 210.0h4v4h-4zM243.6 236.8h4v4h-4zM254.8 236.8h4v4h-4zM266.0 236.8h4v4h-4zM277.2 236.8h4v4h-4zM288.4 236.8h4v4h-4zM299.6 236.8h4v4h-4zM231.9 236.8h4v4h-4zM243.6 268.5h4v4h-4zM254.8 268.5h4v4h-4zM266.0 268.5h4v4h-4zM277.2 268.5h4v4h-4zM288.4 268.5h4v4h-4zM299.6 268.5h4v4h-4zM231.9 268.5h4v4h-4zM243.6 295.0h4v4h-4zM254.8 295.0h4v4h-4zM266.0 295.0h4v4h-4zM277.2 295.0h4v4h-4zM288.4 295.0h4v4h-4zM299.6 295.0h4v4h-4zM231.9 295.0h4v4h-4zM243.6 326.8h4v4h-4zM254.8 326.8h4v4h-4zM266.0 326.8h4v4h-4zM277.2 326.8h4v4h-4zM288.4 326.8h4v4h-4zM299.6 326.8h4v4h-4zM231.9 326.8h4v4h-4zM243.6 353.3h4v4h-4zM254.8 353.3h4v4h-4zM266.0 353.3h4v4h-4zM277.2 353.3h4v4h-4zM288.4 353.3h4v4h-4zM299.6 353.3h4v4h-4zM231.9 353.3h4v4h-4zM243.6 385.0h4v4h-4zM254.8 385.0h4v4h-4zM266.0 385.0h4v4h-4zM277.2 385.0h4v4h-4zM288.4 385.0h4v4h-4zM299.6 385.0h4v4h-4zM231.9 385.0h4v4h-4zM243.6 411.5h4v4h-4zM254.8 411.5h4v4h-4zM266.0 411.5h4v4h-4zM277.2 411.5h4v4h-4zM288.4 411.5h4v4h-4zM299.6 411.5h4v4h-4zM231.9 411.5h4v4h-4zM243.6 443.0h4v4h-4zM254.8 443.0h4v4h-4zM266.0 443.0h4v4h-4zM277.2 443.0h4v4h-4zM288.4 443.0h4v4h-4zM299.6 443.0h4v4h-4zM231.9 443.0h4v4h-4zM243.6 469.7h4v4h-4zM254.8 469.7h4v4h-4zM266.0 469.7h4v4h-4zM277.2 469.7h4v4h-4zM288.4 469.7h4v4h-4zM299.6 469.7h4v4h-4zM231.9 469.7h4v4h-4zM243.6 501.2h4v4h-4zM254.8 501.2h4v4h-4zM266.0 501.2h4v4h-4zM277.2 501.2h4v4h-4zM288.4 501.2h4v4h-4zM299.6 501.2h4v4h-4zM231.9 501.2h4v4h-4zM243.6 527.9h4v4h-4zM254.8 527.9h4v4h-4zM266.0 527.9h4v4h-4zM277.2 527.9h4v4h-4zM288.4 527.9h4v4h-4zM299.6 527.9h4v4h-4zM231.9 527.9h4v4h-4zM243.6 559.3h4v4h-4zM254.8 559.3h4v4h-4zM266.0 559.3h4v4h-4zM277.2 559.3h4v4h-4zM288.4 559.3h4v4h-4zM299.6 559.3h4v4h-4zM231.9 559.3h4v4h-4zM243.6 586.0h4v4h-4zM254.8 586.0h4v4h-4zM266.0 586.0h4v4h-4zM277.2 586.0h4v4h-4zM288.4 586.0h4v4h-4zM299.6 586.0h4v4h-4zM231.9 586.0h4v4h-4zM243.6 617.8h4v4h-4zM254.8 617.8h4v4h-4zM266.0 617.8h4v4h-4zM277.2 617.8h4v4h-4zM288.4 617.8h4v4h-4zM299.6 617.8h4v4h-4zM231.9 617.8h4v4h-4zM243.6 644.1h4v4h-4zM254.8 644.1h4v4h-4zM266.0 644.1h4v4h-4zM277.2 644.1h4v4h-4zM288.4 644.1h4v4h-4zM299.6 644.1h4v4h-4zM231.9 644.1h4v4h-4zM243.6 676.0h4v4h-4zM254.8 676.0h4v4h-4zM266.0 676.0h4v4h-4zM277.2 676.0h4v4h-4zM288.4 676.0h4v4h-4zM299.6 676.0h4v4h-4zM231.9 676.0h4v4h-4zM243.6 702.3h4v4h-4zM254.8 702.3h4v4h-4zM266.0 702.3h4v4h-4zM277.2 702.3h4v4h-4zM288.4 702.3h4v4h-4zM299.6 702.3h4v4h-4zM231.9 702.3h4v4h-4zM243.6 734.3h4v4h-4zM254.8 734.3h4v4h-4zM266.0 734.3h4v4h-4zM277.2 734.3h4v4h-4zM288.4 734.3h4v4h-4zM299.6 734.3h4v4h-4zM231.9 734.3h4v4h-4zM243.6 760.8h4v4h-4zM254.8 760.8h4v4h-4zM266.0 760.8h4v4h-4zM277.2 760.8h4v4h-4zM288.4 760.8h4v4h-4zM299.6 760.8h4v4h-4zM231.9 760.8h4v4h-4zM243.6 792.5h4v4h-4zM254.8 792.5h4v4h-4zM266.0 792.5h4v4h-4zM277.2 792.5h4v4h-4zM288.4 792.5h4v4h-4zM299.6 792.5h4v4h-4zM231.9 792.5h4v4h-4zM243.6 818.8h4v4h-4zM254.8 818.8h4v4h-4zM266.0 818.8h4v4h-4zM277.2 818.8h4v4h-4zM288.4 818.8h4v4h-4zM299.6 818.8h4v4h-4zM231.9 818.8h4v4h-4zM243.6 850.4h4v4h-4zM254.8 850.4h4v4h-4zM266.0 850.4h4v4h-4zM277.2 850.4h4v4h-4zM288.4 850.4h4v4h-4zM299.6 850.4h4v4h-4zM231.9 850.4h4v4h-4zM243.6 876.8h4v4h-4zM254.8 876.8h4v4h-4zM266.0 876.8h4v4h-4zM277.2 876.8h4v4h-4zM288.4 876.8h4v4h-4zM299.6 876.8h4v4h-4zM231.9 876.8h4v4h-4zM243.6 908.7h4v4h-4zM254.8 908.7h4v4h-4zM266.0 908.7h4v4h-4zM277.2 908.7h4v4h-4zM288.4 908.7h4v4h-4zM299.6 908.7h4v4h-4zM231.9 908.7h4v4h-4zM243.6 935.2h4v4h-4zM254.8 935.2h4v4h-4zM266.0 935.2h4v4h-4zM277.2 935.2h4v4h-4zM288.4 935.2h4v4h-4zM299.6 935.2h4v4h-4zM231.9 935.2h4v4h-4zM243.6 966.9h4v4h-4zM254.8 966.9h4v4h-4zM266.0 966.9h4v4h-4zM277.2 966.9h4v4h-4zM288.4 966.9h4v4h-4zM299.6 966.9h4v4h-4zM231.9 966.9h4v4h-4zM243.6 993.4h4v4h-4zM254.8 993.4h4v4h-4zM266.0 993.4h4v4h-4zM277.2 993.4h4v4h-4zM288.4 993.4h4v4h-4zM299.6 993.4h4v4h-4zM231.9 993.4h4v4h-4zM243.6 1025.1h4v4h-4zM254.8 1025.1h4v4h-4zM266.0 1025.1h4v4h-4zM277.2 1025.1h4v4h-4zM288.4 1025.1h4v4h-4zM299.6 1025.1h4v4h-4zM231.9 1025.1h4v4h-4z" fill="#fff" fill-opacity=".3"/>
<path d="M244.4 121.1h2.4v2.4h-2.4zM255.6 121.1h2.4v2.4h-2.4zM266.8 121.1h2.4v2.4h-2.4zM278.0 121.1h2.4v2.4h-2.4zM289.2 121.1h2.4v2.4h-2.4zM300.4 121.1h2.4v2.4h-2.4zM232.7 121.1h2.6v2.4h-2.6zM244.4 152.7h2.4v2.4h-2.4zM255.6 152.7h2.4v2.4h-2.4zM266.8 152.7h2.4v2.4h-2.4zM278.0 152.7h2.4v2.4h-2.4zM289.2 152.7h2.4v2.4h-2.4zM300.4 152.7h2.4v2.4h-2.4zM232.7 152.7h2.6v2.4h-2.6zM244.4 179.1h2.4v2.4h-2.4zM255.6 179.1h2.4v2.4h-2.4zM266.8 179.1h2.4v2.4h-2.4zM278.0 179.1h2.4v2.4h-2.4zM289.2 179.1h2.4v2.4h-2.4zM300.4 179.1h2.4v2.4h-2.4zM232.7 179.1h2.6v2.4h-2.6zM244.4 210.8h2.4v2.4h-2.4zM255.6 210.8h2.4v2.4h-2.4zM266.8 210.8h2.4v2.4h-2.4zM278.0 210.8h2.4v2.4h-2.4zM289.2 210.8h2.4v2.4h-2.4zM300.4 210.8h2.4v2.4h-2.4zM232.7 210.8h2.6v2.4h-2.6zM244.4 237.6h2.4v2.4h-2.4zM255.6 237.6h2.4v2.4h-2.4zM266.8 237.6h2.4v2.4h-2.4zM278.0 237.6h2.4v2.4h-2.4zM289.2 237.6h2.4v2.4h-2.4zM300.4 237.6h2.4v2.4h-2.4zM232.7 237.6h2.6v2.4h-2.6zM244.4 269.3h2.4v2.4h-2.4zM255.6 269.3h2.4v2.4h-2.4zM266.8 269.3h2.4v2.4h-2.4zM278.0 269.3h2.4v2.4h-2.4zM289.2 269.3h2.4v2.4h-2.4zM300.4 269.3h2.4v2.4h-2.4zM232.7 269.3h2.6v2.4h-2.6zM244.4 295.8h2.4v2.4h-2.4zM255.6 295.8h2.4v2.4h-2.4zM266.8 295.8h2.4v2.4h-2.4zM278.0 295.8h2.4v2.4h-2.4zM289.2 295.8h2.4v2.4h-2.4zM300.4 295.8h2.4v2.4h-2.4zM232.7 295.8h2.6v2.4h-2.6zM244.4 327.6h2.4v2.4h-2.4zM255.6 327.6h2.4v2.4h-2.4zM266.8 327.6h2.4v2.4h-2.4zM278.0 327.6h2.4v2.4h-2.4zM289.2 327.6h2.4v2.4h-2.4zM300.4 327.6h2.4v2.4h-2.4zM232.7 327.6h2.6v2.4h-2.6zM244.4 354.1h2.4v2.4h-2.4zM255.6 354.1h2.4v2.4h-2.4zM266.8 354.1h2.4v2.4h-2.4zM278.0 354.1h2.4v2.4h-2.4zM289.2 354.1h2.4v2.4h-2.4zM300.4 354.1h2.4v2.4h-2.4zM232.7 354.1h2.6v2.4h-2.6zM244.4 385.8h2.4v2.4h-2.4zM255.6 385.8h2.4v2.4h-2.4zM266.8 385.8h2.4v2.4h-2.4zM278.0 385.8h2.4v2.4h-2.4zM289.2 385.8h2.4v2.4h-2.4zM300.4 385.8h2.4v2.4h-2.4zM232.7 385.8h2.6v2.4h-2.6zM244.4 412.3h2.4v2.4h-2.4zM255.6 412.3h2.4v2.4h-2.4zM266.8 412.3h2.4v2.4h-2.4zM278.0 412.3h2.4v2.4h-2.4zM289.2 412.3h2.4v2.4h-2.4zM300.4 412.3h2.4v2.4h-2.4zM232.7 412.3h2.6v2.4h-2.6zM244.4 443.8h2.4v2.4h-2.4zM255.6 443.8h2.4v2.4h-2.4zM266.8 443.8h2.4v2.4h-2.4zM278.0 443.8h2.4v2.4h-2.4zM289.2 443.8h2.4v2.4h-2.4zM300.4 443.8h2.4v2.4h-2.4zM232.7 443.8h2.6v2.4h-2.6zM244.4 470.5h2.4v2.4h-2.4zM255.6 470.5h2.4v2.4h-2.4zM266.8 470.5h2.4v2.4h-2.4zM278.0 470.5h2.4v2.4h-2.4zM289.2 470.5h2.4v2.4h-2.4zM300.4 470.5h2.4v2.4h-2.4zM232.7 470.5h2.6v2.4h-2.6zM244.4 502.0h2.4v2.4h-2.4zM255.6 502.0h2.4v2.4h-2.4zM266.8 502.0h2.4v2.4h-2.4zM278.0 502.0h2.4v2.4h-2.4zM289.2 502.0h2.4v2.4h-2.4zM300.4 502.0h2.4v2.4h-2.4zM232.7 502.0h2.6v2.4h-2.6zM244.4 528.7h2.4v2.4h-2.4zM255.6 528.7h2.4v2.4h-2.4zM266.8 528.7h2.4v2.4h-2.4zM278.0 528.7h2.4v2.4h-2.4zM289.2 528.7h2.4v2.4h-2.4zM300.4 528.7h2.4v2.4h-2.4zM232.7 528.7h2.6v2.4h-2.6zM244.4 560.1h2.4v2.4h-2.4zM255.6 560.1h2.4v2.4h-2.4zM266.8 560.1h2.4v2.4h-2.4zM278.0 560.1h2.4v2.4h-2.4zM289.2 560.1h2.4v2.4h-2.4zM300.4 560.1h2.4v2.4h-2.4zM232.7 560.1h2.6v2.4h-2.6zM244.4 586.8h2.4v2.4h-2.4zM255.6 586.8h2.4v2.4h-2.4zM266.8 586.8h2.4v2.4h-2.4zM278.0 586.8h2.4v2.4h-2.4zM289.2 586.8h2.4v2.4h-2.4zM300.4 586.8h2.4v2.4h-2.4zM232.7 586.8h2.6v2.4h-2.6zM244.4 618.6h2.4v2.4h-2.4zM255.6 618.6h2.4v2.4h-2.4zM266.8 618.6h2.4v2.4h-2.4zM278.0 618.6h2.4v2.4h-2.4zM289.2 618.6h2.4v2.4h-2.4zM300.4 618.6h2.4v2.4h-2.4zM232.7 618.6h2.6v2.4h-2.6zM244.4 644.9h2.4v2.4h-2.4zM255.6 644.9h2.4v2.4h-2.4zM266.8 644.9h2.4v2.4h-2.4zM278.0 644.9h2.4v2.4h-2.4zM289.2 644.9h2.4v2.4h-2.4zM300.4 644.9h2.4v2.4h-2.4zM232.7 644.9h2.6v2.4h-2.6zM244.4 676.8h2.4v2.4h-2.4zM255.6 676.8h2.4v2.4h-2.4zM266.8 676.8h2.4v2.4h-2.4zM278.0 676.8h2.4v2.4h-2.4zM289.2 676.8h2.4v2.4h-2.4zM300.4 676.8h2.4v2.4h-2.4zM232.7 676.8h2.6v2.4h-2.6zM244.4 703.1h2.4v2.4h-2.4zM255.6 703.1h2.4v2.4h-2.4zM266.8 703.1h2.4v2.4h-2.4zM278.0 703.1h2.4v2.4h-2.4zM289.2 703.1h2.4v2.4h-2.4zM300.4 703.1h2.4v2.4h-2.4zM232.7 703.1h2.6v2.4h-2.6zM244.4 735.1h2.4v2.4h-2.4zM255.6 735.1h2.4v2.4h-2.4zM266.8 735.1h2.4v2.4h-2.4zM278.0 735.1h2.4v2.4h-2.4zM289.2 735.1h2.4v2.4h-2.4zM300.4 735.1h2.4v2.4h-2.4zM232.7 735.1h2.6v2.4h-2.6zM244.4 761.6h2.4v2.4h-2.4zM255.6 761.6h2.4v2.4h-2.4zM266.8 761.6h2.4v2.4h-2.4zM278.0 761.6h2.4v2.4h-2.4zM289.2 761.6h2.4v2.4h-2.4zM300.4 761.6h2.4v2.4h-2.4zM232.7 761.6h2.6v2.4h-2.6zM244.4 793.3h2.4v2.4h-2.4zM255.6 793.3h2.4v2.4h-2.4zM266.8 793.3h2.4v2.4h-2.4zM278.0 793.3h2.4v2.4h-2.4zM289.2 793.3h2.4v2.4h-2.4zM300.4 793.3h2.4v2.4h-2.4zM232.7 793.3h2.6v2.4h-2.6zM244.4 819.6h2.4v2.4h-2.4zM255.6 819.6h2.4v2.4h-2.4zM266.8 819.6h2.4v2.4h-2.4zM278.0 819.6h2.4v2.4h-2.4zM289.2 819.6h2.4v2.4h-2.4zM300.4 819.6h2.4v2.4h-2.4zM232.7 819.6h2.6v2.4h-2.6zM244.4 851.2h2.4v2.4h-2.4zM255.6 851.2h2.4v2.4h-2.4zM266.8 851.2h2.4v2.4h-2.4zM278.0 851.2h2.4v2.4h-2.4zM289.2 851.2h2.4v2.4h-2.4zM300.4 851.2h2.4v2.4h-2.4zM232.7 851.2h2.6v2.4h-2.6zM244.4 877.6h2.4v2.4h-2.4zM255.6 877.6h2.4v2.4h-2.4zM266.8 877.6h2.4v2.4h-2.4zM278.0 877.6h2.4v2.4h-2.4zM289.2 877.6h2.4v2.4h-2.4zM300.4 877.6h2.4v2.4h-2.4zM232.7 877.6h2.6v2.4h-2.6zM244.4 909.5h2.4v2.4h-2.4zM255.6 909.5h2.4v2.4h-2.4zM266.8 909.5h2.4v2.4h-2.4zM278.0 909.5h2.4v2.4h-2.4zM289.2 909.5h2.4v2.4h-2.4zM300.4 909.5h2.4v2.4h-2.4zM232.7 909.5h2.6v2.4h-2.6zM244.4 936.0h2.4v2.4h-2.4zM255.6 936.0h2.4v2.4h-2.4zM266.8 936.0h2.4v2.4h-2.4zM278.0 936.0h2.4v2.4h-2.4zM289.2 936.0h2.4v2.4h-2.4zM300.4 936.0h2.4v2.4h-2.4zM232.7 936.0h2.6v2.4h-2.6zM244.4 967.7h2.4v2.4h-2.4zM255.6 967.7h2.4v2.4h-2.4zM266.8 967.7h2.4v2.4h-2.4zM278.0 967.7h2.4v2.4h-2.4zM289.2 967.7h2.4v2.4h-2.4zM300.4 967.7h2.4v2.4h-2.4zM232.7 967.7h2.6v2.4h-2.6zM244.4 994.2h2.4v2.4h-2.4zM255.6 994.2h2.4v2.4h-2.4zM266.8 994.2h2.4v2.4h-2.4zM278.0 994.2h2.4v2.4h-2.4zM289.2 994.2h2.4v2.4h-2.4zM300.4 994.2h2.4v2.4h-2.4zM232.7 994.2h2.6v2.4h-2.6zM244.4 1025.9h2.4v2.4h-2.4zM255.6 1025.9h2.4v2.4h-2.4zM266.8 1025.9h2.4v2.4h-2.4zM278.0 1025.9h2.4v2.4h-2.4zM289.2 1025.9h2.4v2.4h-2.4zM300.4 1025.9h2.4v2.4h-2.4zM232.7 1025.9h2.6v2.4h-2.6z" fill="#fff" fill-opacity=".92"/>
</g></g>
<rect x="184.0" y="80.0" width="358.29999999999995" height="988.7" fill="none" stroke="#000" stroke-opacity=".55" stroke-width="1.8"/>
<path d="M184.0 79.3v-16.2M184.0 1069.5v17.3M273.6 79.3v-16.2M273.6 1069.5v17.3M363.1 79.3v-16.2M363.1 1069.5v17.3M452.7 79.3v-16.2M452.7 1069.5v17.3M542.3 79.3v-16.2M542.3 1069.5v17.3M183.2 1068.7h-17.8M543.0999999999999 1068.7h17.3M183.2 887.0h-17.8M543.0999999999999 887.0h17.3M183.2 705.3h-17.8M543.0999999999999 705.3h17.3M183.2 523.6h-17.8M543.0999999999999 523.6h17.3M183.2 341.9h-17.8M543.0999999999999 341.9h17.3M183.2 160.2h-17.8M543.0999999999999 160.2h17.3" stroke="#000" stroke-opacity=".52" stroke-width="1.9" fill="none"/>
<rect x="567.6" y="81.0" width="18.2" height="988.0" fill="url(#bcb)" stroke="#000" stroke-opacity=".55" stroke-width="1.4"/>
<path d="M567.6 970.2H585.8M567.6 871.4H585.8M567.6 772.6H585.8M567.6 673.8H585.8M567.6 575.0H585.8M567.6 476.2H585.8M567.6 377.4H585.8M567.6 278.6H585.8M567.6 179.8H585.8" stroke="#000" stroke-opacity=".7" stroke-width="1.5" fill="none"/>
<g class="t"><text transform="translate(365.4 30.0) scale(1.04 1)" text-anchor="middle">|Ex| (V/m)</text><text x="149.4" y="1082.1" text-anchor="end">0</text><text x="149.4" y="900.3" text-anchor="end">200</text><text x="149.4" y="718.5" text-anchor="end">400</text><text x="149.4" y="536.8" text-anchor="end">600</text><text x="149.4" y="355.0" text-anchor="end">800</text><text x="149.4" y="173.2" text-anchor="end">1000</text><text transform="translate(189.2 1140.6) scale(1.03 1)" text-anchor="middle">10</text><text transform="translate(278.8 1140.6) scale(1.03 1)" text-anchor="middle">20</text><text transform="translate(368.3 1140.6) scale(1.03 1)" text-anchor="middle">30</text><text transform="translate(457.9 1140.6) scale(1.03 1)" text-anchor="middle">40</text><text transform="translate(547.5 1140.6) scale(1.03 1)" text-anchor="middle">50</text><text transform="translate(362.9 1202.0) scale(1.01 1)" text-anchor="middle">x (µm)</text><text transform="translate(31 575) rotate(-90) scale(1.03 1.03)" text-anchor="middle">y (µm)</text><text x="602.5" y="1081.9" textLength="111.5" lengthAdjust="spacingAndGlyphs">0.0×10</text><text class="s" x="714.9" y="1070.3" textLength="12.6" lengthAdjust="spacingAndGlyphs">0</text><text x="602.5" y="982.9" textLength="111.5" lengthAdjust="spacingAndGlyphs">5.0×10</text><text class="s" x="714.9" y="971.3" textLength="24.2" lengthAdjust="spacingAndGlyphs">-5</text><text x="602.5" y="883.9" textLength="111.5" lengthAdjust="spacingAndGlyphs">1.0×10</text><text class="s" x="714.9" y="872.3" textLength="24.2" lengthAdjust="spacingAndGlyphs">-4</text><text x="602.5" y="784.9" textLength="111.5" lengthAdjust="spacingAndGlyphs">1.5×10</text><text class="s" x="714.9" y="773.3" textLength="24.2" lengthAdjust="spacingAndGlyphs">-4</text><text x="602.5" y="685.9" textLength="111.5" lengthAdjust="spacingAndGlyphs">2.0×10</text><text class="s" x="714.9" y="674.3" textLength="24.2" lengthAdjust="spacingAndGlyphs">-4</text><text x="602.5" y="586.9" textLength="111.5" lengthAdjust="spacingAndGlyphs">2.5×10</text><text class="s" x="714.9" y="575.3" textLength="24.2" lengthAdjust="spacingAndGlyphs">-4</text><text x="602.5" y="488.0" textLength="111.5" lengthAdjust="spacingAndGlyphs">3.0×10</text><text class="s" x="714.9" y="476.4" textLength="24.2" lengthAdjust="spacingAndGlyphs">-4</text><text x="602.5" y="389.0" textLength="111.5" lengthAdjust="spacingAndGlyphs">3.5×10</text><text class="s" x="714.9" y="377.4" textLength="24.2" lengthAdjust="spacingAndGlyphs">-4</text><text x="602.5" y="290.0" textLength="111.5" lengthAdjust="spacingAndGlyphs">4.0×10</text><text class="s" x="714.9" y="278.4" textLength="24.2" lengthAdjust="spacingAndGlyphs">-4</text><text x="602.5" y="191.0" textLength="111.5" lengthAdjust="spacingAndGlyphs">4.5×10</text><text class="s" x="714.9" y="179.4" textLength="24.2" lengthAdjust="spacingAndGlyphs">-4</text><text x="602.5" y="92.0" textLength="111.5" lengthAdjust="spacingAndGlyphs">5.0×10</text><text class="s" x="714.9" y="80.4" textLength="24.2" lengthAdjust="spacingAndGlyphs">-4</text></g>
<text class="cap" x="361.8" y="1261.2" text-anchor="middle" style="font-size:33.3px">(b)</text>
</g>
</svg>
</body></html>
